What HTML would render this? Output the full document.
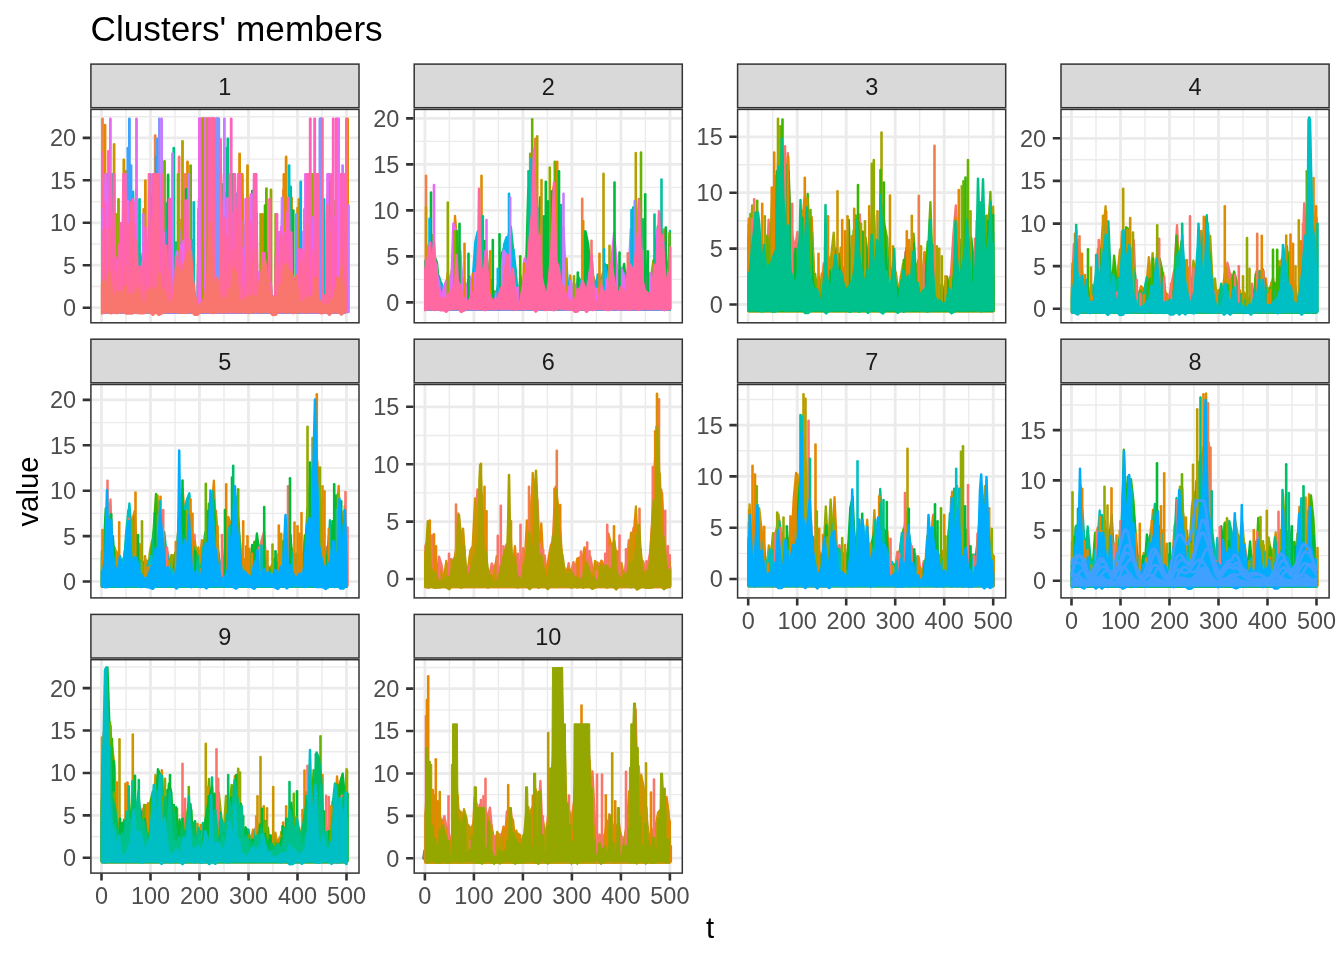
<!DOCTYPE html>
<html><head><meta charset="utf-8"><title>Clusters' members</title>
<style>
html,body{margin:0;padding:0;background:#fff;}
svg{display:block;font-family:"Liberation Sans",sans-serif;will-change:transform;}
</style></head><body>
<svg width="1344" height="960" viewBox="0 0 1344 960">
<rect width="1344" height="960" fill="#fff"/>
<text x="90.5" y="40.6" font-size="35.2" fill="#000">Clusters' members</text>
<text x="710" y="938" font-size="29.33" text-anchor="middle" fill="#000">t</text>
<text transform="translate(37.6,491.5) rotate(-90)" font-size="29.33" text-anchor="middle" fill="#000">value</text>
<rect x="90.9" y="108.4" width="268.1" height="214.3" fill="#fff"/>
<path d="M90.9 286.5H359M90.9 244H359M90.9 201.6H359M90.9 159.1H359M90.9 116.7H359M126 108.4V322.8M175 108.4V322.8M224 108.4V322.8M273 108.4V322.8M322 108.4V322.8" stroke="#EBEBEB" stroke-width="1.4" fill="none"/>
<path d="M90.9 307.7H359M90.9 265.2H359M90.9 222.8H359M90.9 180.3H359M90.9 137.9H359M101.5 108.4V322.8M150.5 108.4V322.8M199.5 108.4V322.8M248.5 108.4V322.8M297.5 108.4V322.8M346.5 108.4V322.8" stroke="#EBEBEB" stroke-width="2.8" fill="none"/>
<rect x="414.2" y="108.4" width="268.1" height="214.3" fill="#fff"/>
<path d="M414.2 279.4H682.4M414.2 233.4H682.4M414.2 187.4H682.4M414.2 141.4H682.4M449.4 108.4V322.8M498.4 108.4V322.8M547.4 108.4V322.8M596.4 108.4V322.8M645.4 108.4V322.8" stroke="#EBEBEB" stroke-width="1.4" fill="none"/>
<path d="M414.2 302.4H682.4M414.2 256.4H682.4M414.2 210.4H682.4M414.2 164.4H682.4M414.2 118.4H682.4M424.9 108.4V322.8M473.9 108.4V322.8M522.9 108.4V322.8M571.9 108.4V322.8M620.9 108.4V322.8M669.9 108.4V322.8" stroke="#EBEBEB" stroke-width="2.8" fill="none"/>
<rect x="737.6" y="108.4" width="268.1" height="214.3" fill="#fff"/>
<path d="M737.6 276.6H1005.7M737.6 220.7H1005.7M737.6 164.8H1005.7M772.7 108.4V322.8M821.7 108.4V322.8M870.7 108.4V322.8M919.7 108.4V322.8M968.7 108.4V322.8" stroke="#EBEBEB" stroke-width="1.4" fill="none"/>
<path d="M737.6 304.5H1005.7M737.6 248.6H1005.7M737.6 192.7H1005.7M737.6 136.8H1005.7M748.2 108.4V322.8M797.2 108.4V322.8M846.2 108.4V322.8M895.2 108.4V322.8M944.2 108.4V322.8M993.2 108.4V322.8" stroke="#EBEBEB" stroke-width="2.8" fill="none"/>
<rect x="1061" y="108.4" width="268.1" height="214.3" fill="#fff"/>
<path d="M1061 287.4H1329.1M1061 244.8H1329.1M1061 202.2H1329.1M1061 159.7H1329.1M1061 117H1329.1M1096 108.4V322.8M1145 108.4V322.8M1194 108.4V322.8M1243 108.4V322.8M1292 108.4V322.8" stroke="#EBEBEB" stroke-width="1.4" fill="none"/>
<path d="M1061 308.8H1329.1M1061 266.1H1329.1M1061 223.6H1329.1M1061 180.9H1329.1M1061 138.3H1329.1M1071.5 108.4V322.8M1120.5 108.4V322.8M1169.5 108.4V322.8M1218.5 108.4V322.8M1267.5 108.4V322.8M1316.5 108.4V322.8" stroke="#EBEBEB" stroke-width="2.8" fill="none"/>
<rect x="90.9" y="383.6" width="268.1" height="214.3" fill="#fff"/>
<path d="M90.9 558.8H359M90.9 513.4H359M90.9 468H359M90.9 422.6H359M126 383.6V597.9M175 383.6V597.9M224 383.6V597.9M273 383.6V597.9M322 383.6V597.9" stroke="#EBEBEB" stroke-width="1.4" fill="none"/>
<path d="M90.9 581.5H359M90.9 536.1H359M90.9 490.7H359M90.9 445.3H359M90.9 399.9H359M101.5 383.6V597.9M150.5 383.6V597.9M199.5 383.6V597.9M248.5 383.6V597.9M297.5 383.6V597.9M346.5 383.6V597.9" stroke="#EBEBEB" stroke-width="2.8" fill="none"/>
<rect x="414.2" y="383.6" width="268.1" height="214.3" fill="#fff"/>
<path d="M414.2 550.3H682.4M414.2 492.9H682.4M414.2 435.5H682.4M449.4 383.6V597.9M498.4 383.6V597.9M547.4 383.6V597.9M596.4 383.6V597.9M645.4 383.6V597.9" stroke="#EBEBEB" stroke-width="1.4" fill="none"/>
<path d="M414.2 579H682.4M414.2 521.6H682.4M414.2 464.2H682.4M414.2 406.8H682.4M424.9 383.6V597.9M473.9 383.6V597.9M522.9 383.6V597.9M571.9 383.6V597.9M620.9 383.6V597.9M669.9 383.6V597.9" stroke="#EBEBEB" stroke-width="2.8" fill="none"/>
<rect x="737.6" y="383.6" width="268.1" height="214.3" fill="#fff"/>
<path d="M737.6 553.4H1005.7M737.6 502.1H1005.7M737.6 450.8H1005.7M737.6 399.5H1005.7M772.7 383.6V597.9M821.7 383.6V597.9M870.7 383.6V597.9M919.7 383.6V597.9M968.7 383.6V597.9" stroke="#EBEBEB" stroke-width="1.4" fill="none"/>
<path d="M737.6 579H1005.7M737.6 527.7H1005.7M737.6 476.4H1005.7M737.6 425.1H1005.7M748.2 383.6V597.9M797.2 383.6V597.9M846.2 383.6V597.9M895.2 383.6V597.9M944.2 383.6V597.9M993.2 383.6V597.9" stroke="#EBEBEB" stroke-width="2.8" fill="none"/>
<rect x="1061" y="383.6" width="268.1" height="214.3" fill="#fff"/>
<path d="M1061 555.6H1329.1M1061 505.4H1329.1M1061 455.2H1329.1M1061 405H1329.1M1096 383.6V597.9M1145 383.6V597.9M1194 383.6V597.9M1243 383.6V597.9M1292 383.6V597.9" stroke="#EBEBEB" stroke-width="1.4" fill="none"/>
<path d="M1061 580.8H1329.1M1061 530.5H1329.1M1061 480.4H1329.1M1061 430.1H1329.1M1071.5 383.6V597.9M1120.5 383.6V597.9M1169.5 383.6V597.9M1218.5 383.6V597.9M1267.5 383.6V597.9M1316.5 383.6V597.9" stroke="#EBEBEB" stroke-width="2.8" fill="none"/>
<rect x="90.9" y="658.7" width="268.1" height="214.3" fill="#fff"/>
<path d="M90.9 836.5H359M90.9 794.1H359M90.9 751.8H359M90.9 709.4H359M90.9 667H359M126 658.7V873M175 658.7V873M224 658.7V873M273 658.7V873M322 658.7V873" stroke="#EBEBEB" stroke-width="1.4" fill="none"/>
<path d="M90.9 857.8H359M90.9 815.4H359M90.9 773H359M90.9 730.5H359M90.9 688.1H359M101.5 658.7V873M150.5 658.7V873M199.5 658.7V873M248.5 658.7V873M297.5 658.7V873M346.5 658.7V873" stroke="#EBEBEB" stroke-width="2.8" fill="none"/>
<rect x="414.2" y="658.7" width="268.1" height="214.3" fill="#fff"/>
<path d="M414.2 837H682.4M414.2 794.6H682.4M414.2 752.2H682.4M414.2 709.9H682.4M414.2 667.5H682.4M449.4 658.7V873M498.4 658.7V873M547.4 658.7V873M596.4 658.7V873M645.4 658.7V873" stroke="#EBEBEB" stroke-width="1.4" fill="none"/>
<path d="M414.2 858.2H682.4M414.2 815.9H682.4M414.2 773.5H682.4M414.2 731H682.4M414.2 688.6H682.4M424.9 658.7V873M473.9 658.7V873M522.9 658.7V873M571.9 658.7V873M620.9 658.7V873M669.9 658.7V873" stroke="#EBEBEB" stroke-width="2.8" fill="none"/>
<polygon points="102.3,229.1 102.5,229.1 103.2,243 105.2,243 105.9,300.7 107.9,300.7 108.6,303.2 110.6,303.2 111.3,299.3 113.3,299.3 114,283.4 116,283.4 116.7,300.6 118.7,300.6 119.4,259.8 121.4,259.8 122.1,292.3 124.1,292.3 124.8,189.8 126.8,189.8 127.5,225.7 129.5,225.7 130.2,293.9 132.2,293.9 132.9,278.2 134.9,278.2 135.6,285.9 137.6,285.9 138.3,271.1 140.3,271.1 141,276.3 143,276.3 143.7,303.4 145.7,303.4 146.4,258.3 148.4,258.3 149.1,269.8 151.1,269.8 151.8,253 153.8,253 154.5,211.8 156.5,211.8 157.2,278.2 159.2,278.2 159.9,244.3 161.9,244.3 162.6,238.6 164.6,238.6 165.3,214.8 167.3,214.8 168,266.5 170,266.5 170.7,303.6 172.7,303.6 173.4,306.7 175.4,306.7 176.1,255.1 178.1,255.1 178.8,247.5 180.8,247.5 181.5,240.2 183.5,240.2 184.2,251.4 186.2,251.4 186.9,226.2 188.9,226.2 189.6,261.7 191.6,261.7 192.3,304 194.3,304 195,303.7 197,303.7 197.7,208.5 199.7,208.5 200.4,261.1 202.4,261.1 203.1,305 205.1,305 205.8,287.4 207.8,287.4 208.5,300.6 210.5,300.6 211.2,292.1 213.2,292.1 213.9,260.5 215.9,260.5 216.6,298 218.6,298 219.3,241.4 221.3,241.4 222,208.8 224,208.8 224.7,274.1 226.7,274.1 227.4,264.4 229.4,264.4 230.1,192.1 232.1,192.1 232.8,286.4 234.8,286.4 235.5,279.5 237.5,279.5 238.2,236.6 240.2,236.6 240.9,307.2 242.9,307.2 243.6,305.4 245.6,305.4 246.3,213 248.3,213 249,256.5 251,256.5 251.7,241 253.7,241 254.4,199.1 256.4,199.1 257.1,274.3 259.1,274.3 259.8,292.7 261.8,292.7 262.5,302.6 264.5,302.6 265.2,304.6 267.2,304.6 267.9,297.3 269.9,297.3 270.6,303.8 272.6,303.8 273.3,307.7 275.3,307.7 276,300.7 278,300.7 278.7,305.9 280.7,305.9 281.4,246.7 283.4,246.7 284.1,282.6 286.1,282.6 286.8,271.5 288.8,271.5 289.5,223.4 291.5,223.4 292.2,297 294.2,297 294.9,305.7 296.9,305.7 297.6,284.1 299.6,284.1 300.3,250.7 302.3,250.7 303,307.2 305,307.2 305.7,243.9 307.7,243.9 308.4,242.1 310.4,242.1 311.1,173.6 313.1,173.6 313.8,189.6 315.8,189.6 316.5,223.6 318.5,223.6 319.2,263.4 321.2,263.4 321.9,298.9 323.9,298.9 324.6,298.8 326.6,298.8 327.3,280.8 329.3,280.8 330,188.8 332,188.8 332.7,210.4 334.7,210.4 335.4,218.4 337.4,218.4 338.1,245.2 340.1,245.2 340.8,304.2 342.8,304.2 343.5,173.6 345.5,173.6 346.2,276.4 346.1,276.4 346.1,312.9 102.3,312.9" fill="#E58700" stroke="#E58700" stroke-width="0.9" stroke-linejoin="round"/>
<polygon points="102.3,253.7 103.5,253.7 104.2,188.4 106.2,188.4 106.9,263.7 108.9,263.7 109.6,280.3 111.6,280.3 112.3,283 114.3,283 115,256.1 117,256.1 117.7,280.2 119.7,280.2 120.4,246.6 122.4,246.6 123.1,227.9 125.1,227.9 125.8,213.3 127.8,213.3 128.5,262 130.5,262 131.2,232.3 133.2,232.3 133.9,231.2 135.9,231.2 136.6,285 138.6,285 139.3,253.4 141.3,253.4 142,298 144,298 144.7,296.7 146.7,296.7 147.4,249.2 149.4,249.2 150.1,207.9 152.1,207.9 152.8,228.3 154.8,228.3 155.5,241.5 157.5,241.5 158.2,306 160.2,306 160.9,229.3 162.9,229.3 163.6,219.2 165.6,219.2 166.3,225.1 168.3,225.1 169,286.9 171,286.9 171.7,299.9 173.7,299.9 174.4,292 176.4,292 177.1,278.9 179.1,278.9 179.8,219.4 181.8,219.4 182.5,263.2 184.5,263.2 185.2,219.9 187.2,219.9 187.9,218.6 189.9,218.6 190.6,275.2 192.6,275.2 193.3,307.6 195.3,307.6 196,306.6 198,306.6 198.7,173.6 200.7,173.6 201.4,286.9 203.4,286.9 204.1,220.1 206.1,220.1 206.8,268.3 208.8,268.3 209.5,240.6 211.5,240.6 212.2,294.9 214.2,294.9 214.9,277.7 216.9,277.7 217.6,214.5 219.6,214.5 220.3,239.9 222.3,239.9 223,197.5 225,197.5 225.7,233.8 227.7,233.8 228.4,245.9 230.4,245.9 231.1,253.1 233.1,253.1 233.8,250 235.8,250 236.5,223.3 238.5,223.3 239.2,194 241.2,194 241.9,240.2 243.9,240.2 244.6,224.3 246.6,224.3 247.3,295.6 249.3,295.6 250,300.5 252,300.5 252.7,300.5 254.7,300.5 255.4,213.1 257.4,213.1 258.1,301.8 260.1,301.8 260.8,274.9 262.8,274.9 263.5,263.9 265.5,263.9 266.2,296.8 268.2,296.8 268.9,287.9 270.9,287.9 271.6,296.4 273.6,296.4 274.3,305.8 276.3,305.8 277,272.2 279,272.2 279.7,294.2 281.7,294.2 282.4,236 284.4,236 285.1,197.3 287.1,197.3 287.8,263.9 289.8,263.9 290.5,197.3 292.5,197.3 293.2,293.4 295.2,293.4 295.9,306.2 297.9,306.2 298.6,253.5 300.6,253.5 301.3,305.3 303.3,305.3 304,306.8 306,306.8 306.7,275 308.7,275 309.4,256.7 311.4,256.7 312.1,208.8 314.1,208.8 314.8,289.7 316.8,289.7 317.5,238.8 319.5,238.8 320.2,296.9 322.2,296.9 322.9,299.8 324.9,299.8 325.6,306.9 327.6,306.9 328.3,231.1 330.3,231.1 331,297.6 333,297.6 333.7,299.7 335.7,299.7 336.4,252.9 338.4,252.9 339.1,240.9 341.1,240.9 341.8,275.4 343.8,275.4 344.5,244.1 346.1,244.1 346.1,312.9 102.3,312.9" fill="#CD9600" stroke="#CD9600" stroke-width="0.9" stroke-linejoin="round"/>
<polygon points="102.3,288.2 102.3,288.2 103,283.3 105,283.3 105.7,270.9 107.7,270.9 108.4,272.7 110.4,272.7 111.1,286.2 113.1,286.2 113.8,306.7 115.8,306.7 116.5,306.8 118.5,306.8 119.2,265.6 121.2,265.6 121.9,295 123.9,295 124.6,294.9 126.6,294.9 127.3,255.5 129.3,255.5 130,228 132,228 132.7,259.3 134.7,259.3 135.4,189.1 137.4,189.1 138.1,260 140.1,260 140.8,271.3 142.8,271.3 143.5,282.5 145.5,282.5 146.2,298.3 148.2,298.3 148.9,218.3 150.9,218.3 151.6,288 153.6,288 154.3,206.1 156.3,206.1 157,226.7 159,226.7 159.7,278.5 161.7,278.5 162.4,264.2 164.4,264.2 165.1,265.5 167.1,265.5 167.8,212.9 169.8,212.9 170.5,293.1 172.5,293.1 173.2,281.9 175.2,281.9 175.9,283.2 177.9,283.2 178.6,231.3 180.6,231.3 181.3,261.6 183.3,261.6 184,288.2 186,288.2 186.7,307.2 188.7,307.2 189.4,299 191.4,299 192.1,305.2 194.1,305.2 194.8,300.9 196.8,300.9 197.5,306.3 199.5,306.3 200.2,243.8 202.2,243.8 202.9,228.3 204.9,228.3 205.6,201.6 207.6,201.6 208.3,268.3 210.3,268.3 211,289.7 213,289.7 213.7,230 215.7,230 216.4,206.9 218.4,206.9 219.1,232 221.1,232 221.8,209.6 223.8,209.6 224.5,244.5 226.5,244.5 227.2,206.9 229.2,206.9 229.9,207.9 231.9,207.9 232.6,199.9 234.6,199.9 235.3,224 237.3,224 238,303.9 240,303.9 240.7,264.2 242.7,264.2 243.4,302.6 245.4,302.6 246.1,245.3 248.1,245.3 248.8,240.1 250.8,240.1 251.5,307.4 253.5,307.4 254.2,217.4 256.2,217.4 256.9,287.3 258.9,287.3 259.6,305.2 261.6,305.2 262.3,295.2 264.3,295.2 265,294.5 267,294.5 267.7,297.5 269.7,297.5 270.4,296.5 272.4,296.5 273.1,303.3 275.1,303.3 275.8,260.7 277.8,260.7 278.5,265.3 280.5,265.3 281.2,300 283.2,300 283.9,282.5 285.9,282.5 286.6,277.5 288.6,277.5 289.3,306.5 291.3,306.5 292,301.5 294,301.5 294.7,291.8 296.7,291.8 297.4,301 299.4,301 300.1,275.7 302.1,275.7 302.8,305 304.8,305 305.5,283.6 307.5,283.6 308.2,194.7 310.2,194.7 310.9,173.6 312.9,173.6 313.6,208.7 315.6,208.7 316.3,253.4 318.3,253.4 319,282.4 321,282.4 321.7,305.3 323.7,305.3 324.4,306.1 326.4,306.1 327.1,192.7 329.1,192.7 329.8,208.7 331.8,208.7 332.5,200.6 334.5,200.6 335.2,279.8 337.2,279.8 337.9,249 339.9,249 340.6,173.6 342.6,173.6 343.3,173.6 345.3,173.6 346,253.3 346.1,253.3 346.1,312.9 102.3,312.9" fill="#93AA00" stroke="#93AA00" stroke-width="0.9" stroke-linejoin="round"/>
<polygon points="102.3,266.2 102.5,266.2 103.2,206.3 105.2,206.3 105.9,173.6 107.9,173.6 108.6,206.4 110.6,206.4 111.3,195.9 113.3,195.9 114,256 116,256 116.7,286.4 118.7,286.4 119.4,231.4 121.4,231.4 122.1,298.1 124.1,298.1 124.8,274.5 126.8,274.5 127.5,298 129.5,298 130.2,280.4 132.2,280.4 132.9,283.9 134.9,283.9 135.6,246 137.6,246 138.3,286.3 140.3,286.3 141,257 143,257 143.7,261.9 145.7,261.9 146.4,239.4 148.4,239.4 149.1,220.8 151.1,220.8 151.8,219.3 153.8,219.3 154.5,216.8 156.5,216.8 157.2,273.1 159.2,273.1 159.9,195.8 161.9,195.8 162.6,263 164.6,263 165.3,279.5 167.3,279.5 168,211.5 170,211.5 170.7,290.2 172.7,290.2 173.4,292.8 175.4,292.8 176.1,296.2 178.1,296.2 178.8,293.4 180.8,293.4 181.5,259.5 183.5,259.5 184.2,219.8 186.2,219.8 186.9,264 188.9,264 189.6,289 191.6,289 192.3,286.8 194.3,286.8 195,306.2 197,306.2 197.7,238.9 199.7,238.9 200.4,217.2 202.4,217.2 203.1,257.7 205.1,257.7 205.8,262.2 207.8,262.2 208.5,300.2 210.5,300.2 211.2,190.9 213.2,190.9 213.9,246.9 215.9,246.9 216.6,203.5 218.6,203.5 219.3,275 221.3,275 222,259.4 224,259.4 224.7,192.5 226.7,192.5 227.4,202.3 229.4,202.3 230.1,173.6 232.1,173.6 232.8,173.6 234.8,173.6 235.5,199.6 237.5,199.6 238.2,236.8 240.2,236.8 240.9,173.6 242.9,173.6 243.6,302 245.6,302 246.3,222.7 248.3,222.7 249,283 251,283 251.7,292.5 253.7,292.5 254.4,225.4 256.4,225.4 257.1,280.1 259.1,280.1 259.8,278.5 261.8,278.5 262.5,280.3 264.5,280.3 265.2,252.5 267.2,252.5 267.9,296.1 269.9,296.1 270.6,300.3 272.6,300.3 273.3,306.2 275.3,306.2 276,263.9 278,263.9 278.7,300 280.7,300 281.4,255.6 283.4,255.6 284.1,269.2 286.1,269.2 286.8,248 288.8,248 289.5,197.3 291.5,197.3 292.2,297.1 294.2,297.1 294.9,292.9 296.9,292.9 297.6,275 299.6,275 300.3,290.7 302.3,290.7 303,291.5 305,291.5 305.7,305.1 307.7,305.1 308.4,226.3 310.4,226.3 311.1,276.6 313.1,276.6 313.8,196 315.8,196 316.5,303.6 318.5,303.6 319.2,256.9 321.2,256.9 321.9,305.4 323.9,305.4 324.6,299.2 326.6,299.2 327.3,282.9 329.3,282.9 330,270.1 332,270.1 332.7,279.8 334.7,279.8 335.4,215.9 337.4,215.9 338.1,192.8 340.1,192.8 340.8,285.1 342.8,285.1 343.5,257.4 345.5,257.4 346.2,193.2 346.1,193.2 346.1,312.9 102.3,312.9" fill="#00BA38" stroke="#00BA38" stroke-width="0.9" stroke-linejoin="round"/>
<polygon points="102.3,282 104.3,282 105,290.6 107,290.6 107.7,300.4 109.7,300.4 110.4,199.3 112.4,199.3 113.1,219.2 115.1,219.2 115.8,254.3 117.8,254.3 118.5,297.1 120.5,297.1 121.2,250.7 123.2,250.7 123.9,173.6 125.9,173.6 126.6,262 128.6,262 129.3,276 131.3,276 132,307.4 134,307.4 134.7,274.1 136.7,274.1 137.4,300.6 139.4,300.6 140.1,295.8 142.1,295.8 142.8,248.1 144.8,248.1 145.5,276.3 147.5,276.3 148.2,250.5 150.2,250.5 150.9,196.7 152.9,196.7 153.6,263.7 155.6,263.7 156.3,304 158.3,304 159,209.7 161,209.7 161.7,302.8 163.7,302.8 164.4,202.4 166.4,202.4 167.1,220.5 169.1,220.5 169.8,287.7 171.8,287.7 172.5,298.6 174.5,298.6 175.2,241.8 177.2,241.8 177.9,289.7 179.9,289.7 180.6,277 182.6,277 183.3,307.3 185.3,307.3 186,218.8 188,218.8 188.7,216.2 190.7,216.2 191.4,239.8 193.4,239.8 194.1,304.8 196.1,304.8 196.8,301.9 198.8,301.9 199.5,277.4 201.5,277.4 202.2,248.1 204.2,248.1 204.9,285.6 206.9,285.6 207.6,218.5 209.6,218.5 210.3,214.4 212.3,214.4 213,268.1 215,268.1 215.7,264 217.7,264 218.4,298.2 220.4,298.2 221.1,216.8 223.1,216.8 223.8,299.9 225.8,299.9 226.5,173.6 228.5,173.6 229.2,268.4 231.2,268.4 231.9,201 233.9,201 234.6,275.7 236.6,275.7 237.3,296.1 239.3,296.1 240,222 242,222 242.7,306.3 244.7,306.3 245.4,246.1 247.4,246.1 248.1,233.4 250.1,233.4 250.8,242.2 252.8,242.2 253.5,206.2 255.5,206.2 256.2,286 258.2,286 258.9,279.5 260.9,279.5 261.6,295.4 263.6,295.4 264.3,300.1 266.3,300.1 267,279 269,279 269.7,288 271.7,288 272.4,301.9 274.4,301.9 275.1,252.1 277.1,252.1 277.8,239.6 279.8,239.6 280.5,260.5 282.5,260.5 283.2,224.2 285.2,224.2 285.9,303.7 287.9,303.7 288.6,295.9 290.6,295.9 291.3,285.4 293.3,285.4 294,286.4 296,286.4 296.7,287.8 298.7,287.8 299.4,289.8 301.4,289.8 302.1,286 304.1,286 304.8,235.7 306.8,235.7 307.5,281.4 309.5,281.4 310.2,290.6 312.2,290.6 312.9,276.9 314.9,276.9 315.6,229 317.6,229 318.3,306.3 320.3,306.3 321,225.8 323,225.8 323.7,304.1 325.7,304.1 326.4,211.7 328.4,211.7 329.1,300.1 331.1,300.1 331.8,260 333.8,260 334.5,230.5 336.5,230.5 337.2,287.9 339.2,287.9 339.9,258.2 341.9,258.2 342.6,270.6 344.6,270.6 345.3,270 346.1,270 346.1,312.9 102.3,312.9" fill="#00C08B" stroke="#00C08B" stroke-width="0.9" stroke-linejoin="round"/>
<polygon points="102.3,257.4 103.2,257.4 103.9,187.4 105.9,187.4 106.6,283.9 108.6,283.9 109.3,283.1 111.3,283.1 112,173.6 114,173.6 114.7,283.4 116.7,283.4 117.4,284.4 119.4,284.4 120.1,272.5 122.1,272.5 122.8,305.9 124.8,305.9 125.5,230.4 127.5,230.4 128.2,299.2 130.2,299.2 130.9,272.3 132.9,272.3 133.6,293.8 135.6,293.8 136.3,244.8 138.3,244.8 139,301.5 141,301.5 141.7,261.6 143.7,261.6 144.4,293.4 146.4,293.4 147.1,239.2 149.1,239.2 149.8,249.4 151.8,249.4 152.5,195.9 154.5,195.9 155.2,198.5 157.2,198.5 157.9,208.2 159.9,208.2 160.6,212.8 162.6,212.8 163.3,269.4 165.3,269.4 166,229.1 168,229.1 168.7,286.2 170.7,286.2 171.4,293.8 173.4,293.8 174.1,304.4 176.1,304.4 176.8,257.9 178.8,257.9 179.5,303.7 181.5,303.7 182.2,234.2 184.2,234.2 184.9,199.9 186.9,199.9 187.6,296.3 189.6,296.3 190.3,274.1 192.3,274.1 193,305.8 195,305.8 195.7,304.1 197.7,304.1 198.4,228.2 200.4,228.2 201.1,254.8 203.1,254.8 203.8,173.6 205.8,173.6 206.5,248.6 208.5,248.6 209.2,215.5 211.2,215.5 211.9,252.4 213.9,252.4 214.6,250.6 216.6,250.6 217.3,292.2 219.3,292.2 220,296.6 222,296.6 222.7,246.1 224.7,246.1 225.4,230.9 227.4,230.9 228.1,219.1 230.1,219.1 230.8,245.9 232.8,245.9 233.5,246.9 235.5,246.9 236.2,192.9 238.2,192.9 238.9,204.2 240.9,204.2 241.6,219.3 243.6,219.3 244.3,306.5 246.3,306.5 247,258.8 249,258.8 249.7,216.7 251.7,216.7 252.4,230 254.4,230 255.1,299.8 257.1,299.8 257.8,278.8 259.8,278.8 260.5,263.2 262.5,263.2 263.2,267.2 265.2,267.2 265.9,282.8 267.9,282.8 268.6,297.4 270.6,297.4 271.3,301.9 273.3,301.9 274,307.3 276,307.3 276.7,296.6 278.7,296.6 279.4,261 281.4,261 282.1,290.9 284.1,290.9 284.8,296.3 286.8,296.3 287.5,244.5 289.5,244.5 290.2,221 292.2,221 292.9,294.4 294.9,294.4 295.6,305.3 297.6,305.3 298.3,264.4 300.3,264.4 301,289.4 303,289.4 303.7,285 305.7,285 306.4,264.2 308.4,264.2 309.1,254.3 311.1,254.3 311.8,217.9 313.8,217.9 314.5,208.7 316.5,208.7 317.2,230.5 319.2,230.5 319.9,237 321.9,237 322.6,304.1 324.6,304.1 325.3,295 327.3,295 328,173.6 330,173.6 330.7,233.3 332.7,233.3 333.4,245.8 335.4,245.8 336.1,291.8 338.1,291.8 338.8,228.9 340.8,228.9 341.5,173.6 343.5,173.6 344.2,173.6 346.1,173.6 346.1,312.9 102.3,312.9" fill="#00B8E7" stroke="#00B8E7" stroke-width="0.9" stroke-linejoin="round"/>
<polygon points="102.3,264.6 102.6,264.6 103.3,237.2 105.3,237.2 106,283 108,283 108.7,250.4 110.7,250.4 111.4,194.6 113.4,194.6 114.1,299.1 116.1,299.1 116.8,271.1 118.8,271.1 119.5,247.9 121.5,247.9 122.2,300.6 124.2,300.6 124.9,173.6 126.9,173.6 127.6,254 129.6,254 130.3,246 132.3,246 133,218.2 135,218.2 135.7,277.7 137.7,277.7 138.4,305.2 140.4,305.2 141.1,284.4 143.1,284.4 143.8,303.5 145.8,303.5 146.5,306.8 148.5,306.8 149.2,194.1 151.2,194.1 151.9,283.6 153.9,283.6 154.6,246.5 156.6,246.5 157.3,209.5 159.3,209.5 160,270.3 162,270.3 162.7,303.1 164.7,303.1 165.4,233.5 167.4,233.5 168.1,307.1 170.1,307.1 170.8,287.8 172.8,287.8 173.5,287.9 175.5,287.9 176.2,292.2 178.2,292.2 178.9,291.7 180.9,291.7 181.6,199.9 183.6,199.9 184.3,235 186.3,235 187,225.7 189,225.7 189.7,281.9 191.7,281.9 192.4,281 194.4,281 195.1,304.5 197.1,304.5 197.8,230.2 199.8,230.2 200.5,281.5 202.5,281.5 203.2,305.9 205.2,305.9 205.9,279.2 207.9,279.2 208.6,193.6 210.6,193.6 211.3,268.2 213.3,268.2 214,268 216,268 216.7,198.1 218.7,198.1 219.4,224.1 221.4,224.1 222.1,189.5 224.1,189.5 224.8,206.3 226.8,206.3 227.5,204.2 229.5,204.2 230.2,220.2 232.2,220.2 232.9,270.5 234.9,270.5 235.6,232.5 237.6,232.5 238.3,197.7 240.3,197.7 241,304.5 243,304.5 243.7,302 245.7,302 246.4,293.6 248.4,293.6 249.1,197.3 251.1,197.3 251.8,239.4 253.8,239.4 254.5,223.6 256.5,223.6 257.2,305.2 259.2,305.2 259.9,293.8 261.9,293.8 262.6,267 264.6,267 265.3,304.4 267.3,304.4 268,262.3 270,262.3 270.7,306.5 272.7,306.5 273.4,306.4 275.4,306.4 276.1,231.3 278.1,231.3 278.8,251.9 280.8,251.9 281.5,225.7 283.5,225.7 284.2,279.2 286.2,279.2 286.9,298 288.9,298 289.6,287.3 291.6,287.3 292.3,298 294.3,298 295,282.2 297,282.2 297.7,288.3 299.7,288.3 300.4,282.4 302.4,282.4 303.1,285.6 305.1,285.6 305.8,204.9 307.8,204.9 308.5,304 310.5,304 311.2,255 313.2,255 313.9,265.8 315.9,265.8 316.6,242.8 318.6,242.8 319.3,203.6 321.3,203.6 322,298.3 324,298.3 324.7,307.7 326.7,307.7 327.4,215.7 329.4,215.7 330.1,307.2 332.1,307.2 332.8,248.4 334.8,248.4 335.5,285.4 337.5,285.4 338.2,265.8 340.2,265.8 340.9,276.2 342.9,276.2 343.6,273.4 345.6,273.4 346.3,223.3 346.1,223.3 346.1,312.9 102.3,312.9" fill="#3DA1FF" stroke="#3DA1FF" stroke-width="0.9" stroke-linejoin="round"/>
<polygon points="102.3,230.9 103,230.9 103.7,212.6 105.7,212.6 106.4,212.7 108.4,212.7 109.1,264.8 111.1,264.8 111.8,260.1 113.8,260.1 114.5,302.8 116.5,302.8 117.2,306.3 119.2,306.3 119.9,287.6 121.9,287.6 122.6,247.2 124.6,247.2 125.3,201 127.3,201 128,263.7 130,263.7 130.7,235.6 132.7,235.6 133.4,246 135.4,246 136.1,268.3 138.1,268.3 138.8,259.4 140.8,259.4 141.5,265.2 143.5,265.2 144.2,275.8 146.2,275.8 146.9,265.7 148.9,265.7 149.6,251.9 151.6,251.9 152.3,279 154.3,279 155,271.3 157,271.3 157.7,205.8 159.7,205.8 160.4,288.9 162.4,288.9 163.1,276.8 165.1,276.8 165.8,292.5 167.8,292.5 168.5,289 170.5,289 171.2,288.2 173.2,288.2 173.9,282 175.9,282 176.6,281.3 178.6,281.3 179.3,230.6 181.3,230.6 182,265.5 184,265.5 184.7,245.8 186.7,245.8 187.4,287.7 189.4,287.7 190.1,304.4 192.1,304.4 192.8,302.9 194.8,302.9 195.5,304.6 197.5,304.6 198.2,251.8 200.2,251.8 200.9,234.8 202.9,234.8 203.6,218.2 205.6,218.2 206.3,255.8 208.3,255.8 209,217.3 211,217.3 211.7,280.1 213.7,280.1 214.4,201.5 216.4,201.5 217.1,223.2 219.1,223.2 219.8,225.7 221.8,225.7 222.5,252.9 224.5,252.9 225.2,231.8 227.2,231.8 227.9,257 229.9,257 230.6,221.6 232.6,221.6 233.3,277.5 235.3,277.5 236,252.7 238,252.7 238.7,258.3 240.7,258.3 241.4,195.4 243.4,195.4 244.1,303.7 246.1,303.7 246.8,269.1 248.8,269.1 249.5,210.9 251.5,210.9 252.2,198.2 254.2,198.2 254.9,288.3 256.9,288.3 257.6,271.8 259.6,271.8 260.3,302.7 262.3,302.7 263,280.8 265,280.8 265.7,282.3 267.7,282.3 268.4,266.5 270.4,266.5 271.1,303 273.1,303 273.8,305.3 275.8,305.3 276.5,280.7 278.5,280.7 279.2,299.3 281.2,299.3 281.9,272.4 283.9,272.4 284.6,280.4 286.6,280.4 287.3,306.4 289.3,306.4 290,265.9 292,265.9 292.7,299.6 294.7,299.6 295.4,302.6 297.4,302.6 298.1,243.1 300.1,243.1 300.8,292.6 302.8,292.6 303.5,298.7 305.5,298.7 306.2,292.1 308.2,292.1 308.9,210 310.9,210 311.6,251.1 313.6,251.1 314.3,280.4 316.3,280.4 317,265.1 319,265.1 319.7,208.9 321.7,208.9 322.4,302.3 324.4,302.3 325.1,301.4 327.1,301.4 327.8,207 329.8,207 330.5,205 332.5,205 333.2,262.3 335.2,262.3 335.9,256.3 337.9,256.3 338.6,307.4 340.6,307.4 341.3,273.7 343.3,273.7 344,271.3 346,271.3 346,312.9 102.3,312.9" fill="#8494FF" stroke="#8494FF" stroke-width="0.9" stroke-linejoin="round"/>
<polygon points="102.3,230.8 102.9,230.8 103.6,263.9 105.6,263.9 106.3,204.5 108.3,204.5 109,207.7 111,207.7 111.7,213 113.7,213 114.4,260.1 116.4,260.1 117.1,306.8 119.1,306.8 119.8,222.8 121.8,222.8 122.5,290.2 124.5,290.2 125.2,295.4 127.2,295.4 127.9,285.4 129.9,285.4 130.6,274.6 132.6,274.6 133.3,221.3 135.3,221.3 136,287.4 138,287.4 138.7,272.8 140.7,272.8 141.4,269.4 143.4,269.4 144.1,250.5 146.1,250.5 146.8,293.4 148.8,293.4 149.5,243.6 151.5,243.6 152.2,254.8 154.2,254.8 154.9,240.7 156.9,240.7 157.6,279.4 159.6,279.4 160.3,248.2 162.3,248.2 163,263.4 165,263.4 165.7,261.1 167.7,261.1 168.4,254.5 170.4,254.5 171.1,307.5 173.1,307.5 173.8,295.2 175.8,295.2 176.5,261.9 178.5,261.9 179.2,271.3 181.2,271.3 181.9,214.5 183.9,214.5 184.6,245.9 186.6,245.9 187.3,304.9 189.3,304.9 190,241.5 192,241.5 192.7,305.7 194.7,305.7 195.4,304.6 197.4,304.6 198.1,199.3 200.1,199.3 200.8,173.6 202.8,173.6 203.5,232.2 205.5,232.2 206.2,203.7 208.2,203.7 208.9,250.4 210.9,250.4 211.6,214.7 213.6,214.7 214.3,255.2 216.3,255.2 217,240.8 219,240.8 219.7,272.3 221.7,272.3 222.4,259 224.4,259 225.1,274.9 227.1,274.9 227.8,190 229.8,190 230.5,212.1 232.5,212.1 233.2,269.4 235.2,269.4 235.9,236.9 237.9,236.9 238.6,213 240.6,213 241.3,220.5 243.3,220.5 244,304.4 246,304.4 246.7,277.9 248.7,277.9 249.4,197.3 251.4,197.3 252.1,216.9 254.1,216.9 254.8,228.3 256.8,228.3 257.5,272.9 259.5,272.9 260.2,284.1 262.2,284.1 262.9,273.1 264.9,273.1 265.6,273.9 267.6,273.9 268.3,274.6 270.3,274.6 271,299 273,299 273.7,305.6 275.7,305.6 276.4,231.3 278.4,231.3 279.1,244.8 281.1,244.8 281.8,271.1 283.8,271.1 284.5,229.6 286.5,229.6 287.2,282.1 289.2,282.1 289.9,265.8 291.9,265.8 292.6,297.8 294.6,297.8 295.3,286.3 297.3,286.3 298,268.7 300,268.7 300.7,231.3 302.7,231.3 303.4,289.1 305.4,289.1 306.1,196.8 308.1,196.8 308.8,306 310.8,306 311.5,236.2 313.5,236.2 314.2,189.3 316.2,189.3 316.9,257.9 318.9,257.9 319.6,229.9 321.6,229.9 322.3,306 324.3,306 325,295 327,295 327.7,173.6 329.7,173.6 330.4,293 332.4,293 333.1,297.1 335.1,297.1 335.8,292.1 337.8,292.1 338.5,173.6 340.5,173.6 341.2,278.5 343.2,278.5 343.9,285.1 345.9,285.1 346.6,214.3 346.1,214.3 346.1,312.9 102.3,312.9" fill="#C77CFF" stroke="#C77CFF" stroke-width="0.9" stroke-linejoin="round"/>
<polygon points="102.3,219.6 103.6,219.6 104.3,231.8 106.3,231.8 107,252.1 109,252.1 109.7,277 111.7,277 112.4,221.1 114.4,221.1 115.1,244 117.1,244 117.8,244 119.8,244 120.5,245.2 122.5,245.2 123.2,270.1 125.2,270.1 125.9,287.7 127.9,287.7 128.6,261.2 130.6,261.2 131.3,272.6 133.3,272.6 134,265.8 136,265.8 136.7,299.4 138.7,299.4 139.4,286.9 141.4,286.9 142.1,271.6 144.1,271.6 144.8,279.7 146.8,279.7 147.5,239.1 149.5,239.1 150.2,239.3 152.2,239.3 152.9,300.4 154.9,300.4 155.6,222.8 157.6,222.8 158.3,267.6 160.3,267.6 161,189.7 163,189.7 163.7,250.7 165.7,250.7 166.4,267.1 168.4,267.1 169.1,270.6 171.1,270.6 171.8,291.6 173.8,291.6 174.5,286.1 176.5,286.1 177.2,307.6 179.2,307.6 179.9,266.7 181.9,266.7 182.6,228.5 184.6,228.5 185.3,303.6 187.3,303.6 188,228.9 190,228.9 190.7,272.7 192.7,272.7 193.4,302.5 195.4,302.5 196.1,303.5 198.1,303.5 198.8,265.8 200.8,265.8 201.5,240.9 203.5,240.9 204.2,283.5 206.2,283.5 206.9,195.2 208.9,195.2 209.6,234.4 211.6,234.4 212.3,251.5 214.3,251.5 215,276.9 217,276.9 217.7,212.1 219.7,212.1 220.4,297.1 222.4,297.1 223.1,214.5 225.1,214.5 225.8,237.7 227.8,237.7 228.5,200.8 230.5,200.8 231.2,250.2 233.2,250.2 233.9,284.9 235.9,284.9 236.6,285.9 238.6,285.9 239.3,263.9 241.3,263.9 242,259.1 244,259.1 244.7,292.9 246.7,292.9 247.4,208.7 249.4,208.7 250.1,297.2 252.1,297.2 252.8,230.1 254.8,230.1 255.5,235.6 257.5,235.6 258.2,287.9 260.2,287.9 260.9,252.5 262.9,252.5 263.6,252.5 265.6,252.5 266.3,264.7 268.3,264.7 269,279.5 271,279.5 271.7,298.8 273.7,298.8 274.4,296.9 276.4,296.9 277.1,251.4 279.1,251.4 279.8,290.2 281.8,290.2 282.5,197.3 284.5,197.3 285.2,289.7 287.2,289.7 287.9,302.6 289.9,302.6 290.6,221.2 292.6,221.2 293.3,286 295.3,286 296,306.2 298,306.2 298.7,280.4 300.7,280.4 301.4,285.7 303.4,285.7 304.1,294.8 306.1,294.8 306.8,192.2 308.8,192.2 309.5,260.2 311.5,260.2 312.2,288.4 314.2,288.4 314.9,188 316.9,188 317.6,303 319.6,303 320.3,265.2 322.3,265.2 323,297.3 325,297.3 325.7,307.2 327.7,307.2 328.4,222 330.4,222 331.1,188.7 333.1,188.7 333.8,290.2 335.8,290.2 336.5,194.3 338.5,194.3 339.2,271.6 341.2,271.6 341.9,216.2 343.9,216.2 344.6,268.6 346.1,268.6 346.1,312.9 102.3,312.9" fill="#E76BF3" stroke="#E76BF3" stroke-width="0.9" stroke-linejoin="round"/>
<path d="M179.1 311.9V156.9" stroke="#F8766D" stroke-width="2.8" stroke-linecap="round" fill="none"/>
<path d="M185 311.9V174.4" stroke="#F8766D" stroke-width="2.8" stroke-linecap="round" fill="none"/>
<path d="M283.5 311.9V190" stroke="#F8766D" stroke-width="2.8" stroke-linecap="round" fill="none"/>
<path d="M340.1 311.9V174.4" stroke="#F8766D" stroke-width="2.8" stroke-linecap="round" fill="none"/>
<path d="M102.5 311.9V118.9" stroke="#F07F4A" stroke-width="2.8" stroke-linecap="round" fill="none"/>
<path d="M155.2 311.9V135.7" stroke="#F07F4A" stroke-width="2.8" stroke-linecap="round" fill="none"/>
<path d="M242 311.9V174.4" stroke="#F07F4A" stroke-width="2.8" stroke-linecap="round" fill="none"/>
<path d="M304.5 311.9V209.3" stroke="#F07F4A" stroke-width="2.8" stroke-linecap="round" fill="none"/>
<path d="M105 311.9V125.1" stroke="#E58700" stroke-width="2.8" stroke-linecap="round" fill="none"/>
<path d="M126.2 311.9V171.3" stroke="#E58700" stroke-width="2.8" stroke-linecap="round" fill="none"/>
<path d="M143.8 311.9V209.3" stroke="#E58700" stroke-width="2.8" stroke-linecap="round" fill="none"/>
<path d="M187.5 311.9V161.9" stroke="#E58700" stroke-width="2.8" stroke-linecap="round" fill="none"/>
<path d="M202.5 311.9V118.9" stroke="#E58700" stroke-width="2.8" stroke-linecap="round" fill="none"/>
<path d="M241.9 311.9V174.4" stroke="#E58700" stroke-width="2.8" stroke-linecap="round" fill="none"/>
<path d="M262.6 311.9V214.3" stroke="#E58700" stroke-width="2.8" stroke-linecap="round" fill="none"/>
<path d="M283.9 311.9V174.4" stroke="#E58700" stroke-width="2.8" stroke-linecap="round" fill="none"/>
<path d="M297.6 311.9V208.1" stroke="#E58700" stroke-width="2.8" stroke-linecap="round" fill="none"/>
<path d="M347.6 311.9V118.9" stroke="#E58700" stroke-width="2.8" stroke-linecap="round" fill="none"/>
<path d="M145.4 311.9V180.6" stroke="#DE8C00" stroke-width="2.8" stroke-linecap="round" fill="none"/>
<path d="M239.6 311.9V153.8" stroke="#DE8C00" stroke-width="2.8" stroke-linecap="round" fill="none"/>
<path d="M286.1 311.9V156.9" stroke="#DE8C00" stroke-width="2.8" stroke-linecap="round" fill="none"/>
<path d="M114.1 311.9V144.4" stroke="#CD9600" stroke-width="2.8" stroke-linecap="round" fill="none"/>
<path d="M123.8 311.9V160" stroke="#CD9600" stroke-width="2.8" stroke-linecap="round" fill="none"/>
<path d="M247.5 311.9V165.6" stroke="#CD9600" stroke-width="2.8" stroke-linecap="round" fill="none"/>
<path d="M298.9 311.9V199.4" stroke="#CD9600" stroke-width="2.8" stroke-linecap="round" fill="none"/>
<path d="M182.5 311.9V141.3" stroke="#B79F00" stroke-width="2.8" stroke-linecap="round" fill="none"/>
<path d="M207.5 311.9V118.9" stroke="#B79F00" stroke-width="2.8" stroke-linecap="round" fill="none"/>
<path d="M118.5 311.9V199.4" stroke="#93AA00" stroke-width="2.8" stroke-linecap="round" fill="none"/>
<path d="M116.2 311.9V214.3" stroke="#93AA00" stroke-width="2.8" stroke-linecap="round" fill="none"/>
<path d="M178.1 311.9V174.4" stroke="#93AA00" stroke-width="2.8" stroke-linecap="round" fill="none"/>
<path d="M203.5 311.9V126.9" stroke="#93AA00" stroke-width="2.8" stroke-linecap="round" fill="none"/>
<path d="M260.7 311.9V214.3" stroke="#93AA00" stroke-width="2.8" stroke-linecap="round" fill="none"/>
<path d="M271 311.9V190" stroke="#93AA00" stroke-width="2.8" stroke-linecap="round" fill="none"/>
<path d="M275.7 311.9V214.3" stroke="#93AA00" stroke-width="2.8" stroke-linecap="round" fill="none"/>
<path d="M329.7 311.9V183.1" stroke="#93AA00" stroke-width="2.8" stroke-linecap="round" fill="none"/>
<path d="M164.5 311.9V161.3" stroke="#6BB100" stroke-width="2.8" stroke-linecap="round" fill="none"/>
<path d="M190.6 311.9V165.6" stroke="#6BB100" stroke-width="2.8" stroke-linecap="round" fill="none"/>
<path d="M266.4 311.9V188.7" stroke="#6BB100" stroke-width="2.8" stroke-linecap="round" fill="none"/>
<path d="M265.1 311.9V205.6" stroke="#39B600" stroke-width="2.8" stroke-linecap="round" fill="none"/>
<path d="M168.1 311.9V175" stroke="#00BA38" stroke-width="2.8" stroke-linecap="round" fill="none"/>
<path d="M186.2 311.9V189.4" stroke="#00BA38" stroke-width="2.8" stroke-linecap="round" fill="none"/>
<path d="M222.5 311.9V184.4" stroke="#00BA38" stroke-width="2.8" stroke-linecap="round" fill="none"/>
<path d="M252.5 311.9V191.2" stroke="#00BA38" stroke-width="2.8" stroke-linecap="round" fill="none"/>
<path d="M252.4 311.9V191.2" stroke="#00BA38" stroke-width="2.8" stroke-linecap="round" fill="none"/>
<path d="M293.2 311.9V210.6" stroke="#00BA38" stroke-width="2.8" stroke-linecap="round" fill="none"/>
<path d="M173.8 311.9V148.2" stroke="#00C08B" stroke-width="2.8" stroke-linecap="round" fill="none"/>
<path d="M227.9 311.9V138.8" stroke="#00C08B" stroke-width="2.8" stroke-linecap="round" fill="none"/>
<path d="M226.9 311.9V148.2" stroke="#00C08B" stroke-width="2.8" stroke-linecap="round" fill="none"/>
<path d="M290.7 311.9V186.9" stroke="#00C08B" stroke-width="2.8" stroke-linecap="round" fill="none"/>
<path d="M139.5 311.9V199.4" stroke="#00C1A3" stroke-width="2.8" stroke-linecap="round" fill="none"/>
<path d="M193.8 311.9V202.5" stroke="#00BFC4" stroke-width="2.8" stroke-linecap="round" fill="none"/>
<path d="M289.1 311.9V165.6" stroke="#00BFC4" stroke-width="2.8" stroke-linecap="round" fill="none"/>
<path d="M323.9 311.9V199.4" stroke="#00BFC4" stroke-width="2.8" stroke-linecap="round" fill="none"/>
<path d="M132.9 311.9V191.9" stroke="#00B8E7" stroke-width="2.8" stroke-linecap="round" fill="none"/>
<path d="M156.2 311.9V156.9" stroke="#00B8E7" stroke-width="2.8" stroke-linecap="round" fill="none"/>
<path d="M300.7 311.9V181.9" stroke="#00B8E7" stroke-width="2.8" stroke-linecap="round" fill="none"/>
<path d="M129.4 311.9V118.9" stroke="#3DA1FF" stroke-width="2.8" stroke-linecap="round" fill="none"/>
<path d="M127.9 311.9V148.2" stroke="#3DA1FF" stroke-width="2.8" stroke-linecap="round" fill="none"/>
<path d="M131 311.9V165.6" stroke="#3DA1FF" stroke-width="2.8" stroke-linecap="round" fill="none"/>
<path d="M150.4 311.9V174.4" stroke="#3DA1FF" stroke-width="2.8" stroke-linecap="round" fill="none"/>
<path d="M157.5 311.9V138.8" stroke="#3DA1FF" stroke-width="2.8" stroke-linecap="round" fill="none"/>
<path d="M159.4 311.9V118.9" stroke="#8494FF" stroke-width="2.8" stroke-linecap="round" fill="none"/>
<path d="M216.9 311.9V118.9" stroke="#8494FF" stroke-width="2.8" stroke-linecap="round" fill="none"/>
<path d="M218.8 311.9V118.9" stroke="#8494FF" stroke-width="2.8" stroke-linecap="round" fill="none"/>
<path d="M296.4 311.9V214.3" stroke="#8494FF" stroke-width="2.8" stroke-linecap="round" fill="none"/>
<path d="M319.9 311.9V118.9" stroke="#8494FF" stroke-width="2.8" stroke-linecap="round" fill="none"/>
<path d="M125.4 311.9V174.4" stroke="#C77CFF" stroke-width="2.8" stroke-linecap="round" fill="none"/>
<path d="M143.1 311.9V214.3" stroke="#C77CFF" stroke-width="2.8" stroke-linecap="round" fill="none"/>
<path d="M153.1 311.9V174.4" stroke="#C77CFF" stroke-width="2.8" stroke-linecap="round" fill="none"/>
<path d="M161.6 311.9V118.9" stroke="#C77CFF" stroke-width="2.8" stroke-linecap="round" fill="none"/>
<path d="M172.5 311.9V153.8" stroke="#C77CFF" stroke-width="2.8" stroke-linecap="round" fill="none"/>
<path d="M188.8 311.9V174.4" stroke="#C77CFF" stroke-width="2.8" stroke-linecap="round" fill="none"/>
<path d="M224.4 311.9V118.9" stroke="#C77CFF" stroke-width="2.8" stroke-linecap="round" fill="none"/>
<path d="M234.4 311.9V174.4" stroke="#C77CFF" stroke-width="2.8" stroke-linecap="round" fill="none"/>
<path d="M234.5 311.9V174.4" stroke="#C77CFF" stroke-width="2.8" stroke-linecap="round" fill="none"/>
<path d="M342.6 311.9V165.6" stroke="#C77CFF" stroke-width="2.8" stroke-linecap="round" fill="none"/>
<path d="M348.5 311.9V205.6" stroke="#C77CFF" stroke-width="2.8" stroke-linecap="round" fill="none"/>
<path d="M110.4 311.9V118.9" stroke="#E76BF3" stroke-width="2.8" stroke-linecap="round" fill="none"/>
<path d="M136.5 311.9V118.9" stroke="#E76BF3" stroke-width="2.8" stroke-linecap="round" fill="none"/>
<path d="M199.4 311.9V118.9" stroke="#E76BF3" stroke-width="2.8" stroke-linecap="round" fill="none"/>
<path d="M205.6 311.9V118.9" stroke="#E76BF3" stroke-width="2.8" stroke-linecap="round" fill="none"/>
<path d="M245.6 311.9V199.4" stroke="#E76BF3" stroke-width="2.8" stroke-linecap="round" fill="none"/>
<path d="M251.2 311.9V194.4" stroke="#E76BF3" stroke-width="2.8" stroke-linecap="round" fill="none"/>
<path d="M251 311.9V194.4" stroke="#E76BF3" stroke-width="2.8" stroke-linecap="round" fill="none"/>
<path d="M317.6 311.9V174.4" stroke="#E76BF3" stroke-width="2.8" stroke-linecap="round" fill="none"/>
<path d="M327.6 311.9V174.4" stroke="#E76BF3" stroke-width="2.8" stroke-linecap="round" fill="none"/>
<path d="M337.6 311.9V118.9" stroke="#E76BF3" stroke-width="2.8" stroke-linecap="round" fill="none"/>
<path d="M108.5 311.9V151.3" stroke="#FF62BC" stroke-width="2.8" stroke-linecap="round" fill="none"/>
<path d="M133.1 311.9V199.4" stroke="#FF62BC" stroke-width="2.8" stroke-linecap="round" fill="none"/>
<path d="M170.6 311.9V199.4" stroke="#FF62BC" stroke-width="2.8" stroke-linecap="round" fill="none"/>
<path d="M231.2 311.9V118.9" stroke="#FF62BC" stroke-width="2.8" stroke-linecap="round" fill="none"/>
<path d="M220.6 311.9V139.4" stroke="#FF62BC" stroke-width="2.8" stroke-linecap="round" fill="none"/>
<path d="M255.6 311.9V174.4" stroke="#FF62BC" stroke-width="2.8" stroke-linecap="round" fill="none"/>
<path d="M255.5 311.9V174.4" stroke="#FF62BC" stroke-width="2.8" stroke-linecap="round" fill="none"/>
<path d="M277 311.9V214.3" stroke="#FF62BC" stroke-width="2.8" stroke-linecap="round" fill="none"/>
<path d="M287 311.9V213.1" stroke="#FF62BC" stroke-width="2.8" stroke-linecap="round" fill="none"/>
<path d="M102.5 311.9V153.2" stroke="#FF6A98" stroke-width="2.8" stroke-linecap="round" fill="none"/>
<path d="M269.5 311.9V199.4" stroke="#FF6A98" stroke-width="2.8" stroke-linecap="round" fill="none"/>
<path d="M321.4 311.9V118.9" stroke="#FF6A98" stroke-width="2.8" stroke-linecap="round" fill="none"/>
<polygon points="102.3,252.6 102.3,252.6 103,277 105,277 105.7,232.8 107.7,232.8 108.4,173.6 110.4,173.6 111.1,281.4 113.1,281.4 113.8,260.2 115.8,260.2 116.5,259.9 118.5,259.9 119.2,246.9 121.2,246.9 121.9,296.2 123.9,296.2 124.6,207.6 126.6,207.6 127.3,237.8 129.3,237.8 130,275.3 132,275.3 132.7,264.4 134.7,264.4 135.4,286.6 137.4,286.6 138.1,301.8 140.1,301.8 140.8,278.1 142.8,278.1 143.5,251 145.5,251 146.2,278.8 148.2,278.8 148.9,273.7 150.9,273.7 151.6,267.3 153.6,267.3 154.3,251.6 156.3,251.6 157,210.1 159,210.1 159.7,202.5 161.7,202.5 162.4,231.8 164.4,231.8 165.1,285.8 167.1,285.8 167.8,278.7 169.8,278.7 170.5,301.7 172.5,301.7 173.2,284.1 175.2,284.1 175.9,250.9 177.9,250.9 178.6,287.3 180.6,287.3 181.3,297.7 183.3,297.7 184,278.6 186,278.6 186.7,301 188.7,301 189.4,274.7 191.4,274.7 192.1,304.2 194.1,304.2 194.8,304.7 196.8,304.7 197.5,257.2 199.5,257.2 200.2,279 202.2,279 202.9,287.1 204.9,287.1 205.6,223.5 207.6,223.5 208.3,281.2 210.3,281.2 211,292.2 213,292.2 213.7,251.1 215.7,251.1 216.4,280.3 218.4,280.3 219.1,229.8 221.1,229.8 221.8,242.3 223.8,242.3 224.5,294.4 226.5,294.4 227.2,259.9 229.2,259.9 229.9,295.4 231.9,295.4 232.6,267.3 234.6,267.3 235.3,214 237.3,214 238,299.4 240,299.4 240.7,253 242.7,253 243.4,306 245.4,306 246.1,233.3 248.1,233.3 248.8,288.6 250.8,288.6 251.5,253.4 253.5,253.4 254.2,173.6 256.2,173.6 256.9,291.4 258.9,291.4 259.6,301.7 261.6,301.7 262.3,271.1 264.3,271.1 265,291.7 267,291.7 267.7,289.2 269.7,289.2 270.4,306.5 272.4,306.5 273.1,298 275.1,298 275.8,274.5 277.8,274.5 278.5,273.1 280.5,273.1 281.2,197.3 283.2,197.3 283.9,283.7 285.9,283.7 286.6,293.7 288.6,293.7 289.3,234.5 291.3,234.5 292,304.6 294,304.6 294.7,302.7 296.7,302.7 297.4,282.2 299.4,282.2 300.1,270.8 302.1,270.8 302.8,293 304.8,293 305.5,213.5 307.5,213.5 308.2,296.4 310.2,296.4 310.9,251.3 312.9,251.3 313.6,272.9 315.6,272.9 316.3,260.2 318.3,260.2 319,241.5 321,241.5 321.7,305.7 323.7,305.7 324.4,299.9 326.4,299.9 327.1,217.9 329.1,217.9 329.8,261.9 331.8,261.9 332.5,216.5 334.5,216.5 335.2,261.2 337.2,261.2 337.9,222.8 339.9,222.8 340.6,276.8 342.6,276.8 343.3,257.2 345.3,257.2 346,220.1 346.1,220.1 346.1,312.4 102.3,312.4" fill="#C77CFF" stroke="#C77CFF" stroke-width="0.9" stroke-linejoin="round"/>
<polygon points="102.3,209 104.1,209 104.8,173.6 106.8,173.6 107.5,197.9 109.5,197.9 110.2,269.2 112.2,269.2 112.9,230.6 114.9,230.6 115.6,276 117.6,276 118.3,280.7 120.3,280.7 121,297.9 123,297.9 123.7,196.7 125.7,196.7 126.4,200 128.4,200 129.1,232.7 131.1,232.7 131.8,226.7 133.8,226.7 134.5,201.6 136.5,201.6 137.2,288.6 139.2,288.6 139.9,288.3 141.9,288.3 142.6,243.7 144.6,243.7 145.3,284.5 147.3,284.5 148,273.4 150,273.4 150.7,265.4 152.7,265.4 153.4,229.1 155.4,229.1 156.1,234.5 158.1,234.5 158.8,242.6 160.8,242.6 161.5,247.4 163.5,247.4 164.2,285.5 166.2,285.5 166.9,286.8 168.9,286.8 169.6,295.7 171.6,295.7 172.3,299.3 174.3,299.3 175,268.8 177,268.8 177.7,265.1 179.7,265.1 180.4,244.3 182.4,244.3 183.1,239.5 185.1,239.5 185.8,252.6 187.8,252.6 188.5,259 190.5,259 191.2,288.6 193.2,288.6 193.9,304.4 195.9,304.4 196.6,304 198.6,304 199.3,173.6 201.3,173.6 202,207.6 204,207.6 204.7,238.3 206.7,238.3 207.4,265.6 209.4,265.6 210.1,264.6 212.1,264.6 212.8,278.3 214.8,278.3 215.5,206.6 217.5,206.6 218.2,288 220.2,288 220.9,250 222.9,250 223.6,283.3 225.6,283.3 226.3,197.8 228.3,197.8 229,278.7 231,278.7 231.7,258.8 233.7,258.8 234.4,232.3 236.4,232.3 237.1,211.7 239.1,211.7 239.8,220 241.8,220 242.5,303.2 244.5,303.2 245.2,231.7 247.2,231.7 247.9,220.9 249.9,220.9 250.6,225.2 252.6,225.2 253.3,173.6 255.3,173.6 256,284.8 258,284.8 258.7,272.8 260.7,272.8 261.4,284.9 263.4,284.9 264.1,266.1 266.1,266.1 266.8,286.5 268.8,286.5 269.5,283.2 271.5,283.2 272.2,303.6 274.2,303.6 274.9,301.1 276.9,301.1 277.6,281.6 279.6,281.6 280.3,226.3 282.3,226.3 283,259.9 285,259.9 285.7,271.5 287.7,271.5 288.4,249 290.4,249 291.1,303.5 293.1,303.5 293.8,299 295.8,299 296.5,289.1 298.5,289.1 299.2,288.4 301.2,288.4 301.9,287.8 303.9,287.8 304.6,173.6 306.6,173.6 307.3,173.6 309.3,173.6 310,244.3 312,244.3 312.7,216.5 314.7,216.5 315.4,193.8 317.4,193.8 318.1,242.2 320.1,242.2 320.8,255.1 322.8,255.1 323.5,300.7 325.5,300.7 326.2,198.9 328.2,198.9 328.9,241.4 330.9,241.4 331.6,256.6 333.6,256.6 334.3,237.8 336.3,237.8 337,205.8 339,205.8 339.7,245.3 341.7,245.3 342.4,231.4 344.4,231.4 345.1,259.7 346.1,259.7 346.1,312.4 102.3,312.4" fill="#E76BF3" stroke="#E76BF3" stroke-width="0.9" stroke-linejoin="round"/>
<polygon points="102.3,276 103.1,276 103.8,202.4 105.8,202.4 106.5,244.8 108.5,244.8 109.2,173.6 111.2,173.6 111.9,228.7 113.9,228.7 114.6,257.2 116.6,257.2 117.3,281.8 119.3,281.8 120,222.8 122,222.8 122.7,173.6 124.7,173.6 125.4,245.5 127.4,245.5 128.1,281.8 130.1,281.8 130.8,251.4 132.8,251.4 133.5,223.3 135.5,223.3 136.2,287.7 138.2,287.7 138.9,266 140.9,266 141.6,270.2 143.6,270.2 144.3,227 146.3,227 147,251.8 149,251.8 149.7,230.7 151.7,230.7 152.4,173.6 154.4,173.6 155.1,241.1 157.1,241.1 157.8,173.6 159.8,173.6 160.5,243.1 162.5,243.1 163.2,253.9 165.2,253.9 165.9,286.4 167.9,286.4 168.6,198.2 170.6,198.2 171.3,302 173.3,302 174,278 176,278 176.7,271.4 178.7,271.4 179.4,249.8 181.4,249.8 182.1,290.2 184.1,290.2 184.8,199.9 186.8,199.9 187.5,271.1 189.5,271.1 190.2,283.2 192.2,283.2 192.9,305.7 194.9,305.7 195.6,300.9 197.6,300.9 198.3,238.5 200.3,238.5 201,250.6 203,250.6 203.7,286.6 205.7,286.6 206.4,238.5 208.4,238.5 209.1,251.5 211.1,251.5 211.8,268.9 213.8,268.9 214.5,173.6 216.5,173.6 217.2,213.6 219.2,213.6 219.9,173.6 221.9,173.6 222.6,217.2 224.6,217.2 225.3,236.6 227.3,236.6 228,246.4 230,246.4 230.7,269.4 232.7,269.4 233.4,173.6 235.4,173.6 236.1,271.4 238.1,271.4 238.8,173.6 240.8,173.6 241.5,247.4 243.5,247.4 244.2,305.8 246.2,305.8 246.9,267.6 248.9,267.6 249.6,221.5 251.6,221.5 252.3,252.7 254.3,252.7 255,173.6 257,173.6 257.7,291.5 259.7,291.5 260.4,298.6 262.4,298.6 263.1,252.5 265.1,252.5 265.8,287.9 267.8,287.9 268.5,293.9 270.5,293.9 271.2,304.1 273.2,304.1 273.9,295 275.9,295 276.6,280.8 278.6,280.8 279.3,231.3 281.3,231.3 282,287.5 284,287.5 284.7,231.8 286.7,231.8 287.4,197.3 289.4,197.3 290.1,231.7 292.1,231.7 292.8,301.9 294.8,301.9 295.5,292.1 297.5,292.1 298.2,248.7 300.2,248.7 300.9,249.1 302.9,249.1 303.6,300.7 305.6,300.7 306.3,173.6 308.3,173.6 309,173.6 311,173.6 311.7,267.8 313.7,267.8 314.4,238 316.4,238 317.1,173.6 319.1,173.6 319.8,236.1 321.8,236.1 322.5,298.6 324.5,298.6 325.2,295 327.2,295 327.9,242.1 329.9,242.1 330.6,173.6 332.6,173.6 333.3,256.5 335.3,256.5 336,239.8 338,239.8 338.7,173.6 340.7,173.6 341.4,173.6 343.4,173.6 344.1,173.6 346.1,173.6 346.1,312.4 102.3,312.4" fill="#FF62BC" stroke="#FF62BC" stroke-width="0.9" stroke-linejoin="round"/>
<polygon points="102.3,263.2 104.3,263.2 105,282 107,282 107.7,259.6 109.7,259.6 110.4,265.3 112.4,265.3 113.1,173.6 115.1,173.6 115.8,290.5 117.8,290.5 118.5,244 120.5,244 121.2,281.7 123.2,281.7 123.9,173.6 125.9,173.6 126.6,223 128.6,223 129.3,234.6 131.3,234.6 132,201.6 134,201.6 134.7,292.9 136.7,292.9 137.4,272.2 139.4,272.2 140.1,282.7 142.1,282.7 142.8,260.8 144.8,260.8 145.5,252.9 147.5,252.9 148.2,173.6 150.2,173.6 150.9,275.5 152.9,275.5 153.6,173.6 155.6,173.6 156.3,226.6 158.3,226.6 159,288 161,288 161.7,173.6 163.7,173.6 164.4,281.3 166.4,281.3 167.1,268.6 169.1,268.6 169.8,278 171.8,278 172.5,291.6 174.5,291.6 175.2,256.2 177.2,256.2 177.9,262.4 179.9,262.4 180.6,263.8 182.6,263.8 183.3,269.9 185.3,269.9 186,199.9 188,199.9 188.7,239.5 190.7,239.5 191.4,297.6 193.4,297.6 194.1,304.2 196.1,304.2 196.8,300.9 198.8,300.9 199.5,281.8 201.5,281.8 202.2,273 204.2,273 204.9,225.2 206.9,225.2 207.6,173.6 209.6,173.6 210.3,256.8 212.3,256.8 213,218.2 215,218.2 215.7,283.6 217.7,283.6 218.4,254.1 220.4,254.1 221.1,230.4 223.1,230.4 223.8,218.1 225.8,218.1 226.5,251.5 228.5,251.5 229.2,173.6 231.2,173.6 231.9,253.7 233.9,253.7 234.6,209.4 236.6,209.4 237.3,173.6 239.3,173.6 240,287.7 242,287.7 242.7,303.3 244.7,303.3 245.4,254.7 247.4,254.7 248.1,248 250.1,248 250.8,276.5 252.8,276.5 253.5,173.6 255.5,173.6 256.2,291.1 258.2,291.1 258.9,293.9 260.9,293.9 261.6,252.5 263.6,252.5 264.3,276.7 266.3,276.7 267,292.3 269,292.3 269.7,284.9 271.7,284.9 272.4,303.2 274.4,303.2 275.1,253.9 277.1,253.9 277.8,270.1 279.8,270.1 280.5,235.1 282.5,235.1 283.2,239.1 285.2,239.1 285.9,245.9 287.9,245.9 288.6,260.9 290.6,260.9 291.3,290.7 293.3,290.7 294,282.2 296,282.2 296.7,298.6 298.7,298.6 299.4,295.5 301.4,295.5 302.1,301.3 304.1,301.3 304.8,251.9 306.8,251.9 307.5,173.6 309.5,173.6 310.2,250.1 312.2,250.1 312.9,276.7 314.9,276.7 315.6,173.6 317.6,173.6 318.3,173.6 320.3,173.6 321,225.2 323,225.2 323.7,295 325.7,295 326.4,204.8 328.4,204.8 329.1,282 331.1,282 331.8,253.2 333.8,253.2 334.5,243.5 336.5,243.5 337.2,173.6 339.2,173.6 339.9,234.5 341.9,234.5 342.6,208.8 344.6,208.8 345.3,269.3 346.1,269.3 346.1,312.4 102.3,312.4" fill="#FF66A8" stroke="#FF66A8" stroke-width="0.9" stroke-linejoin="round"/>
<polygon points="102.3,292.1 102.3,292.1 103,229 105,229 105.7,279.8 107.7,279.8 108.4,228.5 110.4,228.5 111.1,281.2 113.1,281.2 113.8,270.7 115.8,270.7 116.5,289.3 118.5,289.3 119.2,258.6 121.2,258.6 121.9,298.4 123.9,298.4 124.6,265.6 126.6,265.6 127.3,275.7 129.3,275.7 130,201.6 132,201.6 132.7,258.4 134.7,258.4 135.4,239.4 137.4,239.4 138.1,266.4 140.1,266.4 140.8,282.9 142.8,282.9 143.5,285.6 145.5,285.6 146.2,295.9 148.2,295.9 148.9,281.6 150.9,281.6 151.6,218.8 153.6,218.8 154.3,173.6 156.3,173.6 157,173.6 159,173.6 159.7,279.4 161.7,279.4 162.4,297 164.4,297 165.1,244.9 167.1,244.9 167.8,269.7 169.8,269.7 170.5,293.3 172.5,293.3 173.2,297.5 175.2,297.5 175.9,280.6 177.9,280.6 178.6,263.4 180.6,263.4 181.3,286.6 183.3,286.6 184,269.2 186,269.2 186.7,275.1 188.7,275.1 189.4,291.6 191.4,291.6 192.1,282.8 194.1,282.8 194.8,303.4 196.8,303.4 197.5,303.2 199.5,303.2 200.2,246.1 202.2,246.1 202.9,289.6 204.9,289.6 205.6,246.9 207.6,246.9 208.3,249.9 210.3,249.9 211,256.9 213,256.9 213.7,271 215.7,271 216.4,225.4 218.4,225.4 219.1,173.6 221.1,173.6 221.8,241.5 223.8,241.5 224.5,287.7 226.5,287.7 227.2,265.3 229.2,265.3 229.9,261.9 231.9,261.9 232.6,250.3 234.6,250.3 235.3,285.4 237.3,285.4 238,225 240,225 240.7,285.6 242.7,285.6 243.4,306 245.4,306 246.1,197.3 248.1,197.3 248.8,280.6 250.8,280.6 251.5,261.6 253.5,261.6 254.2,249.7 256.2,249.7 256.9,290.8 258.9,290.8 259.6,301.5 261.6,301.5 262.3,299.8 264.3,299.8 265,274.5 267,274.5 267.7,279.3 269.7,279.3 270.4,305.6 272.4,305.6 273.1,301.1 275.1,301.1 275.8,263.3 277.8,263.3 278.5,292.5 280.5,292.5 281.2,260.6 283.2,260.6 283.9,287.9 285.9,287.9 286.6,293 288.6,293 289.3,272.8 291.3,272.8 292,282.2 294,282.2 294.7,302 296.7,302 297.4,294.7 299.4,294.7 300.1,260.7 302.1,260.7 302.8,292.3 304.8,292.3 305.5,222.9 307.5,222.9 308.2,281.2 310.2,281.2 310.9,267.7 312.9,267.7 313.6,241.3 315.6,241.3 316.3,284.7 318.3,284.7 319,236.9 321,236.9 321.7,301.1 323.7,301.1 324.4,295 326.4,295 327.1,286.5 329.1,286.5 329.8,231.8 331.8,231.8 332.5,222.3 334.5,222.3 335.2,274.5 337.2,274.5 337.9,259.5 339.9,259.5 340.6,249.1 342.6,249.1 343.3,292.7 345.3,292.7 346,232 346.1,232 346.1,312.4 102.3,312.4" fill="#FF6A98" stroke="#FF6A98" stroke-width="0.9" stroke-linejoin="round"/>
<rect x="198.5" y="117.5" width="21.1" height="194.4" rx="1.2" fill="#FF62BC"/>
<rect x="198.5" y="117.5" width="2.8" height="194.4" rx="1.2" fill="#E76BF3"/>
<rect x="201" y="117.5" width="2.8" height="194.4" rx="1.2" fill="#E58700"/>
<rect x="202.4" y="117.5" width="2.8" height="194.4" rx="1.2" fill="#93AA00"/>
<rect x="203.9" y="117.5" width="2.8" height="194.4" rx="1.2" fill="#E76BF3"/>
<rect x="206.4" y="117.5" width="2.8" height="194.4" rx="1.2" fill="#B79F00"/>
<rect x="207.8" y="117.5" width="7.8" height="194.4" rx="1.2" fill="#FF62BC"/>
<rect x="210.3" y="117.5" width="4.4" height="194.4" rx="1.2" fill="#FF6A98"/>
<rect x="215.7" y="117.5" width="3.9" height="194.4" rx="1.2" fill="#8494FF"/>
<rect x="308.8" y="117.5" width="2.9" height="194.4" rx="1.2" fill="#FF62BC"/>
<rect x="313.2" y="117.5" width="2.9" height="194.4" rx="1.2" fill="#FF62BC"/>
<rect x="319.5" y="117.5" width="2.8" height="194.4" rx="1.2" fill="#8494FF"/>
<rect x="321" y="117.5" width="2.8" height="194.4" rx="1.2" fill="#FF6A98"/>
<rect x="331.8" y="117.5" width="2.8" height="194.4" rx="1.2" fill="#FF62BC"/>
<rect x="334.7" y="117.5" width="2.8" height="194.4" rx="1.2" fill="#FF62BC"/>
<rect x="337.2" y="117.5" width="2.8" height="194.4" rx="1.2" fill="#E76BF3"/>
<rect x="345" y="117.5" width="2.8" height="194.4" rx="1.2" fill="#FF6A98"/>
<polygon points="102,284.1 104.4,279.5 106.8,290.4 109.2,272.2 111.6,289.2 114,302.1 116.4,291.2 118.8,294 121.2,291.7 123.6,292.4 126,285.8 128.4,300.5 130.8,293.9 133.2,294.5 135.6,291.7 138,288.3 140.4,295.9 142.8,306.5 145.2,304.1 147.6,291 150,289.3 152.4,292.8 154.8,287.5 157.2,293.7 159.6,273.4 162,294.9 164.4,290.2 166.8,299.9 169.2,306.1 171.6,301.5 174,298.5 176.4,267.2 178.8,268.4 181.2,277.9 183.6,270.1 186,258.3 188.4,251.8 190.8,250.8 193.2,282.7 195.6,299 198,308.2 200.4,304 202.8,301.5 205.2,296 207.6,273.2 210,222.2 212.4,278.5 214.8,286 217.2,277.4 219.6,296.6 222,299.6 224.4,298.5 226.8,299.6 229.2,289.8 231.6,288.1 234,267.7 236.4,275.5 238.8,302.3 241.2,300.7 243.6,302 246,297.7 248.4,296.7 250.8,297.6 253.2,295.4 255.6,297.8 258,296 260.4,274.9 262.8,266.5 265.2,260.7 267.6,279.3 270,297 272.4,296.9 274.8,297.5 277.2,299 279.6,285.6 282,284.5 284.4,265.7 286.8,264.4 289.2,278.4 291.6,271.6 294,282.2 296.4,275.1 298.8,303.4 301.2,302.3 303.6,301.5 306,299.7 308.4,296.4 310.8,298.4 313.2,298.2 315.6,277.1 318,297.6 320.4,302.3 322.8,305.1 325.2,306 327.6,304.9 330,303.6 332.4,299.7 334.8,295.5 337.2,277.7 339.6,278.7 342,266.8 344.4,296.2 344.4,312 341.4,314.7 338.4,312.2 335.4,312.1 332.4,312.1 329.4,314.9 326.4,311.8 323.4,313 320.4,313.2 317.5,311.7 314.5,311.7 311.5,312.1 308.5,311.7 305.5,312.2 302.5,311.6 299.5,312.1 296.5,311.7 293.5,313.3 290.5,312 287.5,311.7 284.5,312 281.5,311.8 278.6,311.8 275.6,314.8 272.6,315 269.6,311.9 266.6,311.8 263.6,311.6 260.6,311.9 257.6,311.6 254.6,312 251.6,311.7 248.6,313.1 245.6,311.7 242.6,311.9 239.6,312 236.7,312 233.7,311.8 230.7,311.8 227.7,312.1 224.7,311.8 221.7,312.2 218.7,311.8 215.7,312.2 212.7,313 209.7,312 206.7,311.8 203.7,311.7 200.7,311.7 197.8,314.7 194.8,314.9 191.8,311.7 188.8,311.8 185.8,313.1 182.8,312.2 179.8,313 176.8,311.7 173.8,311.9 170.8,311.8 167.8,311.9 164.8,312.1 161.8,313.4 158.8,315 155.9,312.1 152.9,314.9 149.9,312.2 146.9,312 143.9,313.2 140.9,313.3 137.9,313.1 134.9,312 131.9,313.6 128.9,313.3 125.9,313.5 122.9,311.8 119.9,312.1 117,313.2 114,312.1 111,313.4 108,311.9 105,312.1 102,313.5" fill="#F8766D" stroke="#F8766D" stroke-width="2.4" stroke-linejoin="round"/>
<path d="M422 858.5L423.4 849.5L424.4 850L424.4 861Z" fill="#808080"/>
<polygon points="425.3,287.7 426.2,263.9 428.6,273.1 431,246 433.4,281.2 435.8,263.1 438.2,292.7 440.6,302.3 443,290.7 445.4,293.1 447.8,272.4 450.2,286.2 452.6,284.2 455,215.9 457.4,245.6 459.8,276.8 462.2,296.2 464.6,292.5 467,295.2 469.4,306.2 471.8,297.5 474.2,295.9 476.6,281.9 479,234.1 481.4,268.3 483.8,285.5 486.2,269.1 488.6,294.7 491,299.2 493.4,295 495.8,295.1 498.2,289 500.6,278.1 503,285 505.4,285.2 507.8,282.2 510.2,267.6 512.6,262.7 515,291.9 517.4,290.4 519.8,303.5 522.2,301.3 524.6,259.2 527,282 529.4,222.9 531.8,163.3 534.2,256.9 536.6,254.9 539,276 541.4,288 543.8,292.1 546.2,293.1 548.6,238.5 551,225.9 553.4,187.4 555.8,271.8 558.2,220 560.6,272.6 563,242.2 565.4,266.8 567.8,298 570.2,275.4 572.6,299.7 575,291.4 577.4,283.6 579.8,299.7 582.2,293.5 584.6,277.5 587,280.1 589.4,265.4 591.8,258.9 594.2,288.6 596.6,292.1 599,295.3 601.4,280.8 603.8,289 606.2,289.2 608.6,283.3 611,281.9 613.4,280 615.8,290.8 618.2,276.8 620.6,293.3 623,277.5 625.4,290.6 627.8,274.7 630.2,273.8 632.6,278.5 635,286.1 637.4,288.8 639.8,270.2 642.2,292.1 644.6,288.2 647,276.7 649.4,278.2 651.8,298.9 654.2,283.3 656.6,257.8 659,254.2 661.4,241.6 663.8,229.4 666.2,265 668.6,270.7 669.9,291.3 669.9,309.5 425.3,309.5" fill="#E58700" stroke="#E58700" stroke-width="2.3" stroke-linejoin="round"/>
<polygon points="425.3,261 427.7,277.3 430.1,268.6 432.5,235.2 434.9,281.4 437.3,276.4 439.7,295.2 442.1,298.6 444.5,291.7 446.9,287 449.3,291.9 451.7,270.6 454.1,291.6 456.5,287.6 458.9,283.8 461.3,301.9 463.7,279.2 466.1,299.9 468.5,293.8 470.9,295.4 473.3,282.9 475.7,287.7 478.1,251.4 480.5,277.7 482.9,262.9 485.3,261.7 487.7,289.8 490.1,302.7 492.5,299 494.9,291.3 497.3,294.9 499.7,296.4 502.1,288.6 504.5,288.6 506.9,251.8 509.3,250.1 511.7,280.5 514.1,278.3 516.5,298.6 518.9,293.7 521.3,294.9 523.7,297.2 526.1,293.2 528.5,254.2 530.9,282.7 533.3,218 535.7,263.2 538.1,273.8 540.5,240.8 542.9,273.6 545.3,266.1 547.7,285.2 550.1,214.4 552.5,261.8 554.9,191.9 557.3,271.5 559.7,227.4 562.1,246.8 564.5,288.9 566.9,300 569.3,302.7 571.7,285.7 574.1,304.4 576.5,296.9 578.9,304.4 581.3,293.9 583.7,274.6 586.1,277.7 588.5,273.1 590.9,292.7 593.3,276.8 595.7,285.9 598.1,293.4 600.5,281 602.9,272.8 605.3,276.7 607.7,291.4 610.1,276.6 612.5,265.9 614.9,267.1 617.3,270.7 619.7,283.2 622.1,293.5 624.5,273.3 626.9,273.6 629.3,266.9 631.7,281.8 634.1,284.7 636.5,283.8 638.9,198.8 641.3,233.4 643.7,284.1 646.1,267.2 648.5,299.5 650.9,278.7 653.3,260.4 655.7,285.9 658.1,261.9 660.5,270.4 662.9,285.4 665.3,275.8 667.7,277.3 669.9,280.9 669.9,309.6 425.3,309.6" fill="#93AA00" stroke="#93AA00" stroke-width="2.3" stroke-linejoin="round"/>
<polygon points="425.3,270.5 427.4,251.7 429.8,260.8 432.2,273.3 434.6,256.7 437,262.6 439.4,289.5 441.8,285.4 444.2,291.8 446.6,283.8 449,291.6 451.4,289.2 453.8,261.4 456.2,255.1 458.6,283 461,275.4 463.4,297.1 465.8,296 468.2,280.2 470.6,288.9 473,284.5 475.4,282.9 477.8,278.5 480.2,280.8 482.6,286.2 485,240.8 487.4,261.7 489.8,293.1 492.2,301.9 494.6,301 497,290.6 499.4,275.5 501.8,253.5 504.2,247.7 506.6,285.1 509,243.1 511.4,290 513.8,260.8 516.2,294.6 518.6,300.4 521,284.1 523.4,285.6 525.8,278.4 528.2,189.5 530.6,218.7 533,162.7 535.4,237.5 537.8,245.2 540.2,197.2 542.6,257.8 545,237.2 547.4,290.5 549.8,231.1 552.2,268.7 554.6,234.6 557,273.8 559.4,272.2 561.8,236.6 564.2,284.2 566.6,285.8 569,285.6 571.4,293.8 573.8,299.6 576.2,287.4 578.6,284.5 581,280.7 583.4,288.1 585.8,232.4 588.2,243.9 590.6,271 593,284.1 595.4,300.8 597.8,298.4 600.2,277.7 602.6,286.5 605,264.8 607.4,265.4 609.8,283.7 612.2,272.2 614.6,285 617,270.1 619.4,281 621.8,274.7 624.2,263.8 626.6,289.8 629,265.2 631.4,273.9 633.8,266.5 636.2,274.4 638.6,247 641,247.9 643.4,260.9 645.8,283.6 648.2,302.5 650.6,287.9 653,295.5 655.4,248.6 657.8,226.5 660.2,270.2 662.6,250.9 665,263.2 667.4,292.6 669.9,272.1 669.9,309.8 425.3,309.8" fill="#00BA38" stroke="#00BA38" stroke-width="2.3" stroke-linejoin="round"/>
<polygon points="425.3,285.6 426.9,255.3 429.3,274.4 431.7,282.3 434.1,283.3 436.5,281.1 438.9,276 441.3,284 443.7,304.3 446.1,296.9 448.5,299.9 450.9,287.2 453.3,263.2 455.7,277.4 458.1,268 460.5,263.3 462.9,290.8 465.3,285.6 467.7,285.8 470.1,292.4 472.5,290.6 474.9,292 477.3,288.1 479.7,231 482.1,282 484.5,257.1 486.9,270.1 489.3,296.3 491.7,280.1 494.1,297.6 496.5,298.6 498.9,292.9 501.3,282.4 503.7,264.7 506.1,280 508.5,235.5 510.9,226.9 513.3,251 515.7,269 518.1,300 520.5,275.7 522.9,295.8 525.3,267.1 527.7,273.2 530.1,236.8 532.5,198.1 534.9,197.6 537.3,242.8 539.7,260.3 542.1,286 544.5,295 546.9,282.3 549.3,281.3 551.7,226.1 554.1,235.7 556.5,241 558.9,273.1 561.3,254.6 563.7,277.4 566.1,283 568.5,293 570.9,288.3 573.3,294.4 575.7,298.3 578.1,276.5 580.5,280.5 582.9,287.3 585.3,275.4 587.7,291.3 590.1,270.4 592.5,291.3 594.9,283.2 597.3,279.7 599.7,291.4 602.1,284.8 604.5,297.1 606.9,299.2 609.3,287.9 611.7,262.5 614.1,295.7 616.5,281.9 618.9,293.1 621.3,301.7 623.7,273.1 626.1,273.8 628.5,272.3 630.9,283.6 633.3,274 635.7,269.7 638.1,220.9 640.5,262.1 642.9,219.1 645.3,261 647.7,274.1 650.1,294.8 652.5,277 654.9,284.4 657.3,276.5 659.7,266.7 662.1,280.7 664.5,291.2 666.9,293.4 669.3,286.4 669.9,230.9 669.9,309 425.3,309" fill="#00C08B" stroke="#00C08B" stroke-width="2.3" stroke-linejoin="round"/>
<polygon points="425.3,260.7 427.3,277.8 429.7,247.3 432.1,242.6 434.5,281.2 436.9,277.4 439.3,302.7 441.7,283.3 444.1,301.1 446.5,286.6 448.9,292.9 451.3,288.5 453.7,294.3 456.1,290.9 458.5,296 460.9,271.6 463.3,283.1 465.7,293.2 468.1,293.3 470.5,297.1 472.9,275.9 475.3,242.1 477.7,231.4 480.1,275.6 482.5,270.3 484.9,277.1 487.3,287.5 489.7,301.1 492.1,287.8 494.5,301.4 496.9,302.6 499.3,289.6 501.7,273.4 504.1,244.5 506.5,237.1 508.9,266.1 511.3,286.5 513.7,249.7 516.1,294.2 518.5,296.9 520.9,301.8 523.3,295.5 525.7,263.5 528.1,278.2 530.5,237.8 532.9,213.7 535.3,238.8 537.7,207.7 540.1,259.1 542.5,231.9 544.9,271.2 547.3,267.5 549.7,292.8 552.1,283.3 554.5,263.3 556.9,192.6 559.3,281.1 561.7,278.3 564.1,254.5 566.5,263.9 568.9,298.8 571.3,297.2 573.7,293.5 576.1,295 578.5,295.6 580.9,281.7 583.3,297.8 585.7,300.2 588.1,300.7 590.5,278.5 592.9,296.1 595.3,291 597.7,274.3 600.1,279 602.5,288.4 604.9,263.8 607.3,276.4 609.7,272.4 612.1,288.4 614.5,281.8 616.9,296.8 619.3,299.9 621.7,297.2 624.1,282.7 626.5,294.1 628.9,273.5 631.3,238.2 633.7,245.6 636.1,273.1 638.5,225.2 640.9,277.4 643.3,288.3 645.7,289.9 648.1,272 650.5,284.9 652.9,286.4 655.3,251.9 657.7,277.7 660.1,213.8 662.5,269.8 664.9,242.3 667.3,282.7 669.9,235.7 669.9,309.4 425.3,309.4" fill="#00B8E7" stroke="#00B8E7" stroke-width="2.3" stroke-linejoin="round"/>
<polygon points="425.3,289.4 426.8,245.4 429.2,273.3 431.6,283.5 434,284.7 436.4,263.7 438.8,294.3 441.2,299.5 443.6,298.8 446,286.8 448.4,290.7 450.8,275.7 453.2,285.2 455.6,256.8 458,257.2 460.4,251 462.8,290.2 465.2,294.7 467.6,295.9 470,276.4 472.4,298.4 474.8,281.8 477.2,268 479.6,262.3 482,256.5 484.4,291.8 486.8,283.2 489.2,286.2 491.6,294.1 494,302.7 496.4,301 498.8,283.9 501.2,268.3 503.6,250.5 506,254.1 508.4,295 510.8,279.7 513.2,288 515.6,303.2 518,298.9 520.4,305 522.8,295.9 525.2,278.9 527.6,278.5 530,175.1 532.4,182 534.8,248.8 537.2,265 539.6,253.1 542,266.8 544.4,286 546.8,292.2 549.2,285.6 551.6,270.8 554,218.6 556.4,233.3 558.8,219.6 561.2,234.2 563.6,227.1 566,284.6 568.4,302.5 570.8,281 573.2,289.3 575.6,300.6 578,286.8 580.4,297.8 582.8,282.3 585.2,293.4 587.6,291 590,270.3 592.4,282.6 594.8,288.6 597.2,289.4 599.6,300.3 602,283.5 604.4,273.2 606.8,298.3 609.2,280.7 611.6,273.7 614,266.3 616.4,264.6 618.8,282.8 621.2,267.8 623.6,274.2 626,285.1 628.4,278.9 630.8,228.9 633.2,277.3 635.6,261.4 638,209.6 640.4,218.2 642.8,286 645.2,278.8 647.6,296.7 650,293.4 652.4,278.5 654.8,289.2 657.2,272.3 659.6,278.4 662,284.8 664.4,290.1 666.8,287.7 669.2,268.6 669.9,258.7 669.9,309.3 425.3,309.3" fill="#C77CFF" stroke="#C77CFF" stroke-width="2.3" stroke-linejoin="round"/>
<polygon points="425.3,276.1 426.9,276 429.3,279.9 431.7,286.7 434.1,262.1 436.5,273.9 438.9,282.1 441.3,303.7 443.7,287.7 446.1,280.8 448.5,280.6 450.9,294.1 453.3,223.5 455.7,230 458.1,281.6 460.5,274.5 462.9,281.5 465.3,283.3 467.7,297.2 470.1,292 472.5,279.1 474.9,273 477.3,280 479.7,267.1 482.1,291.8 484.5,251.2 486.9,294.3 489.3,298 491.7,294.1 494.1,304.6 496.5,292.5 498.9,303.8 501.3,302 503.7,290.8 506.1,260 508.5,289.6 510.9,289.7 513.3,279.5 515.7,289.2 518.1,287.4 520.5,304.8 522.9,296.6 525.3,258 527.7,281 530.1,253.3 532.5,196.4 534.9,196.6 537.3,229.4 539.7,260 542.1,219.6 544.5,261.4 546.9,278.4 549.3,263.5 551.7,227.5 554.1,207.8 556.5,266.1 558.9,275.1 561.3,257.2 563.7,295.4 566.1,289.3 568.5,286.6 570.9,296.8 573.3,304.1 575.7,284.6 578.1,286.1 580.5,294.8 582.9,275.7 585.3,282.4 587.7,290.6 590.1,269.4 592.5,288.4 594.9,291.4 597.3,289.7 599.7,287.1 602.1,280 604.5,276.2 606.9,285.8 609.3,268.6 611.7,256.7 614.1,233 616.5,261 618.9,295.6 621.3,287.2 623.7,277.1 626.1,300.2 628.5,295.4 630.9,288.8 633.3,277.4 635.7,276.4 638.1,283.4 640.5,282.1 642.9,250.4 645.3,292.6 647.7,276.4 650.1,273.3 652.5,283 654.9,277.4 657.3,229.5 659.7,235.9 662.1,240.9 664.5,269.1 666.9,271.5 669.3,268.7 669.9,278.2 669.9,309 425.3,309" fill="#E76BF3" stroke="#E76BF3" stroke-width="2.3" stroke-linejoin="round"/>
<path d="M591.5 308.6V240.8" stroke="#F8766D" stroke-width="2.6" stroke-linecap="round" fill="none"/>
<path d="M627.8 308.6V253.3" stroke="#F8766D" stroke-width="2.6" stroke-linecap="round" fill="none"/>
<path d="M426 308.6V175.8" stroke="#F07F4A" stroke-width="2.6" stroke-linecap="round" fill="none"/>
<path d="M535.2 308.6V138.8" stroke="#F07F4A" stroke-width="2.6" stroke-linecap="round" fill="none"/>
<path d="M582.2 308.6V198.8" stroke="#F07F4A" stroke-width="2.6" stroke-linecap="round" fill="none"/>
<path d="M464.5 308.6V243.8" stroke="#E58700" stroke-width="2.6" stroke-linecap="round" fill="none"/>
<path d="M472.8 308.6V273.8" stroke="#E58700" stroke-width="2.6" stroke-linecap="round" fill="none"/>
<path d="M490.2 308.6V251.3" stroke="#E58700" stroke-width="2.6" stroke-linecap="round" fill="none"/>
<path d="M524 308.6V263.8" stroke="#E58700" stroke-width="2.6" stroke-linecap="round" fill="none"/>
<path d="M557.2 308.6V161.8" stroke="#E58700" stroke-width="2.6" stroke-linecap="round" fill="none"/>
<path d="M583.2 308.6V221.3" stroke="#E58700" stroke-width="2.6" stroke-linecap="round" fill="none"/>
<path d="M599.5 308.6V253.8" stroke="#E58700" stroke-width="2.6" stroke-linecap="round" fill="none"/>
<path d="M481.5 308.6V175.8" stroke="#DE8C00" stroke-width="2.6" stroke-linecap="round" fill="none"/>
<path d="M426 308.6V207.6" stroke="#CD9600" stroke-width="2.6" stroke-linecap="round" fill="none"/>
<path d="M541.5 308.6V180.1" stroke="#CD9600" stroke-width="2.6" stroke-linecap="round" fill="none"/>
<path d="M566.5 308.6V258.8" stroke="#CD9600" stroke-width="2.6" stroke-linecap="round" fill="none"/>
<path d="M537.2 308.6V136.3" stroke="#B79F00" stroke-width="2.6" stroke-linecap="round" fill="none"/>
<path d="M603.5 308.6V173.8" stroke="#B79F00" stroke-width="2.6" stroke-linecap="round" fill="none"/>
<path d="M609.5 308.6V245.8" stroke="#B79F00" stroke-width="2.6" stroke-linecap="round" fill="none"/>
<path d="M635.8 308.6V153.1" stroke="#B79F00" stroke-width="2.6" stroke-linecap="round" fill="none"/>
<path d="M447.8 308.6V202.6" stroke="#93AA00" stroke-width="2.6" stroke-linecap="round" fill="none"/>
<path d="M454.5 308.6V231.3" stroke="#93AA00" stroke-width="2.6" stroke-linecap="round" fill="none"/>
<path d="M530.2 308.6V153.8" stroke="#93AA00" stroke-width="2.6" stroke-linecap="round" fill="none"/>
<path d="M549.8 308.6V167.6" stroke="#93AA00" stroke-width="2.6" stroke-linecap="round" fill="none"/>
<path d="M574 308.6V276.3" stroke="#93AA00" stroke-width="2.6" stroke-linecap="round" fill="none"/>
<path d="M532.2 308.6V119.3" stroke="#6BB100" stroke-width="2.6" stroke-linecap="round" fill="none"/>
<path d="M554.8 308.6V161.8" stroke="#6BB100" stroke-width="2.6" stroke-linecap="round" fill="none"/>
<path d="M641 308.6V152.6" stroke="#6BB100" stroke-width="2.6" stroke-linecap="round" fill="none"/>
<path d="M669.5 308.6V233.3" stroke="#6BB100" stroke-width="2.6" stroke-linecap="round" fill="none"/>
<path d="M457 308.6V231.3" stroke="#39B600" stroke-width="2.6" stroke-linecap="round" fill="none"/>
<path d="M520.2 308.6V256.3" stroke="#39B600" stroke-width="2.6" stroke-linecap="round" fill="none"/>
<path d="M431 308.6V192.6" stroke="#00BA38" stroke-width="2.6" stroke-linecap="round" fill="none"/>
<path d="M459.5 308.6V223.8" stroke="#00BA38" stroke-width="2.6" stroke-linecap="round" fill="none"/>
<path d="M468.5 308.6V253.8" stroke="#00BA38" stroke-width="2.6" stroke-linecap="round" fill="none"/>
<path d="M492.8 308.6V240.1" stroke="#00BA38" stroke-width="2.6" stroke-linecap="round" fill="none"/>
<path d="M499.5 308.6V234.3" stroke="#00BA38" stroke-width="2.6" stroke-linecap="round" fill="none"/>
<path d="M545.8 308.6V181.8" stroke="#00BA38" stroke-width="2.6" stroke-linecap="round" fill="none"/>
<path d="M577.8 308.6V272.6" stroke="#00BA38" stroke-width="2.6" stroke-linecap="round" fill="none"/>
<path d="M585.2 308.6V231.3" stroke="#00BA38" stroke-width="2.6" stroke-linecap="round" fill="none"/>
<path d="M614.5 308.6V182.6" stroke="#00BA38" stroke-width="2.6" stroke-linecap="round" fill="none"/>
<path d="M619.5 308.6V252.6" stroke="#00BA38" stroke-width="2.6" stroke-linecap="round" fill="none"/>
<path d="M645.2 308.6V194.3" stroke="#00BA38" stroke-width="2.6" stroke-linecap="round" fill="none"/>
<path d="M647.8 308.6V251.3" stroke="#00BA38" stroke-width="2.6" stroke-linecap="round" fill="none"/>
<path d="M665.8 308.6V227.6" stroke="#00BA38" stroke-width="2.6" stroke-linecap="round" fill="none"/>
<path d="M544 308.6V216.3" stroke="#00BA38" stroke-width="2.6" stroke-linecap="round" fill="none"/>
<path d="M547.8 308.6V201.3" stroke="#00BA38" stroke-width="2.6" stroke-linecap="round" fill="none"/>
<path d="M552 308.6V191.3" stroke="#00BA38" stroke-width="2.6" stroke-linecap="round" fill="none"/>
<path d="M559 308.6V171.3" stroke="#00BA38" stroke-width="2.6" stroke-linecap="round" fill="none"/>
<path d="M482.8 308.6V216.3" stroke="#00C08B" stroke-width="2.6" stroke-linecap="round" fill="none"/>
<path d="M561 308.6V205.1" stroke="#00C08B" stroke-width="2.6" stroke-linecap="round" fill="none"/>
<path d="M633.2 308.6V207.6" stroke="#00C08B" stroke-width="2.6" stroke-linecap="round" fill="none"/>
<path d="M654.5 308.6V214.6" stroke="#00C08B" stroke-width="2.6" stroke-linecap="round" fill="none"/>
<path d="M528.5 308.6V171.3" stroke="#00C08B" stroke-width="2.6" stroke-linecap="round" fill="none"/>
<path d="M661.5 308.6V179.6" stroke="#00C1A3" stroke-width="2.6" stroke-linecap="round" fill="none"/>
<path d="M429.5 308.6V218.8" stroke="#00B8E7" stroke-width="2.6" stroke-linecap="round" fill="none"/>
<path d="M497.8 308.6V268.8" stroke="#00B8E7" stroke-width="2.6" stroke-linecap="round" fill="none"/>
<path d="M509 308.6V193.8" stroke="#00B8E7" stroke-width="2.6" stroke-linecap="round" fill="none"/>
<path d="M604 308.6V249.3" stroke="#00B8E7" stroke-width="2.6" stroke-linecap="round" fill="none"/>
<path d="M631.5 308.6V210.1" stroke="#00B8E7" stroke-width="2.6" stroke-linecap="round" fill="none"/>
<path d="M531.5 308.6V158.8" stroke="#00B8E7" stroke-width="2.6" stroke-linecap="round" fill="none"/>
<path d="M634.8 308.6V201.3" stroke="#8494FF" stroke-width="2.6" stroke-linecap="round" fill="none"/>
<path d="M510.2 308.6V197.6" stroke="#C77CFF" stroke-width="2.6" stroke-linecap="round" fill="none"/>
<path d="M563.5 308.6V193.8" stroke="#C77CFF" stroke-width="2.6" stroke-linecap="round" fill="none"/>
<path d="M434 308.6V185.1" stroke="#E76BF3" stroke-width="2.6" stroke-linecap="round" fill="none"/>
<path d="M486.5 308.6V220.1" stroke="#E76BF3" stroke-width="2.6" stroke-linecap="round" fill="none"/>
<polygon points="425.3,269.4 426.5,264.5 428.9,251.4 430.2,242.5 431.3,271.1 434,242.5 436.1,278.4 438.5,295 440.9,298.7 443.3,298.3 445.7,300.7 448.1,293.8 450.5,293.3 452.9,289.2 455.3,282.8 456.5,255 457.7,280.5 460.1,286.1 462.5,296.1 464.9,300.6 467.3,301.2 469.7,300.1 472.1,292.5 474.5,293.4 476.9,283.3 478.5,235 479,188.8 479.8,235 481.7,279.6 484.1,267.6 486.5,252.1 488.9,293.9 491.3,298.7 493.7,301.1 496.1,299.2 498.5,297.5 500.9,288.1 503.3,288.6 505.7,266.4 507.8,255 510.5,289.3 512.9,268.8 515.3,293.8 517.7,303.1 520.1,302.5 522.5,288.2 524.9,275.5 527.3,270 529.7,238.2 532.1,212 534,148.8 536.9,249.9 539.3,235 541.7,277.2 544.1,288.4 546.5,298.5 548.9,279.9 551.3,251.6 554,182.5 556.1,260 558.5,266.6 560.9,283.6 563.3,286.5 565.7,292.9 568.1,300.8 570.5,302 572.9,299.4 575.3,299.1 577.7,288.8 580.1,295.3 582.5,280.7 584.9,287.9 587.3,289.2 589.7,277.5 591.5,255 594.5,300.6 596.9,303.1 599.3,296.4 601.7,286.4 604.1,293.2 606.5,291.1 608.9,287.4 611.5,262.5 613.7,278.8 616.1,289 618.5,295.1 620.9,287 623.3,291.3 625.7,294.2 628.1,268.2 630.5,264.9 632.9,274.2 635.3,258.7 638.2,230 639,200 639.8,235 642.5,279.9 644.9,290.7 647.3,292.8 649.7,294.8 652.1,292 654.5,264.7 656.9,281.6 658.2,235 659,211.2 659.8,235 661.7,246.6 662.8,235 664.1,262.6 666.5,287.6 668.9,273.2 669.9,280.8 670.2,247.5 670.2,308.6 667.3,308.4 664.3,310.2 661.3,308.3 658.3,308.6 655.3,308.5 652.3,308.5 649.3,308.9 646.4,308.6 643.4,308.5 640.4,308.8 637.4,309.9 634.4,308.5 631.4,308.6 628.4,309.9 625.4,308.4 622.5,308.3 619.5,309.7 616.5,308.4 613.5,308.4 610.5,309.7 607.5,310.1 604.5,308.8 601.6,308.6 598.6,308.4 595.6,308.6 592.6,310.1 589.6,308.5 586.6,311.8 583.6,308.7 580.6,308.3 577.7,311.4 574.7,311.7 571.7,308.4 568.7,309.8 565.7,308.7 562.7,308.5 559.7,308.6 556.8,308.5 553.8,310.3 550.8,308.7 547.8,309.8 544.8,309.9 541.8,308.3 538.8,308.7 535.8,311.6 532.9,308.6 529.9,308.8 526.9,308.5 523.9,308.9 520.9,308.8 517.9,308.4 514.9,309.9 512,308.3 509,308.8 506,308.3 503,308.5 500,308.6 497,308.5 494,308.9 491,308.7 488.1,308.5 485.1,310.2 482.1,308.8 479.1,308.9 476.1,308.5 473.1,308.5 470.1,308.4 467.2,308.6 464.2,310.3 461.2,311.9 458.2,308.4 455.2,308.6 452.2,308.7 449.2,308.9 446.2,311.8 443.3,309.9 440.3,310.2 437.3,308.7 434.3,310.1 431.3,308.4 428.3,308.7 425.3,310.1" fill="#FF68A1" stroke="#FF68A1" stroke-width="2.5" stroke-linejoin="round"/>
<polygon points="748.7,239.4 749.4,286.8 751.8,270.5 754.2,219.6 756.6,270 759,272.6 761.4,254.2 763.8,260.1 766.2,282.7 768.6,219.6 771,255.5 773.4,201.6 775.8,251.3 778.2,152 780.6,249.4 783,154.5 785.4,212.8 787.8,153.1 790.2,217.9 792.6,236.5 795,248.7 797.4,231.8 799.8,259.4 802.2,277.8 804.6,218.3 807,211.1 809.4,236.4 811.8,242.4 814.2,275.1 816.6,292.7 819,292.6 821.4,286.8 823.8,263.2 826.2,282 828.6,256.7 831,274.6 833.4,281.6 835.8,290.4 838.2,294.3 840.6,290.8 843,284.3 845.4,287.9 847.8,279.5 850.2,271.8 852.6,268.9 855,266.5 857.4,282 859.8,214.5 862.2,275.4 864.6,257.4 867,279 869.4,295.4 871.8,254.2 874.2,215 876.6,269.2 879,243 881.4,257.4 883.8,280 886.2,280.5 888.6,275.4 891,290.1 893.4,286.3 895.8,297.9 898.2,295.6 900.6,287.1 903,288.2 905.4,251.8 907.8,274.1 910.2,280.3 912.6,261.7 915,266.4 917.4,297.9 919.8,290.9 922.2,293.4 924.6,252 927,276.3 929.4,245.3 931.8,297.4 934.2,301.8 936.6,297.4 939,304 941.4,291.2 943.8,300.1 946.2,299.2 948.6,284.9 951,273.3 953.4,233.8 955.8,205.5 958.2,251.5 960.6,239.9 963,284.6 965.4,293.9 967.8,283.2 970.2,249.3 972.6,289.1 975,274.9 977.4,282.5 979.8,251.5 982.2,199.3 984.6,245.5 987,226 989.4,282.8 991.8,276.9 993.2,273.7 993.2,310.8 748.7,310.8" fill="#F8766D" stroke="#F8766D" stroke-width="2.3" stroke-linejoin="round"/>
<polygon points="748.7,236.3 749.3,263.7 751.7,247.3 754.1,273.8 756.5,224.9 758.9,270.2 761.3,288.2 763.7,282.8 766.1,260.2 768.5,238.3 770.9,232.9 773.3,269.6 775.7,175.9 778.1,197 780.5,269.4 782.9,260.4 785.3,243.5 787.7,285.3 790.1,294.4 792.5,285.8 794.9,253.6 797.3,253.4 799.7,267.5 802.1,210.8 804.5,223.4 806.9,207.5 809.3,244.3 811.7,217 814.1,274.6 816.5,283.9 818.9,289 821.3,289.2 823.7,292.2 826.1,276.6 828.5,286.1 830.9,285.4 833.3,279.6 835.7,278.2 838.1,290.2 840.5,290.9 842.9,284.8 845.3,279.9 847.7,277.4 850.1,260 852.5,284.3 854.9,258.2 857.3,263.5 859.7,232.6 862.1,231.3 864.5,257 866.9,275.3 869.3,291.4 871.7,214 874.1,262.4 876.5,270.7 878.9,262.9 881.3,250.8 883.7,234.2 886.1,239 888.5,282.7 890.9,268.4 893.3,299.2 895.7,298.1 898.1,303.7 900.5,293.3 902.9,281.3 905.3,265.3 907.7,277.6 910.1,296.1 912.5,282.7 914.9,265.2 917.3,282.3 919.7,275.2 922.1,281.7 924.5,252.5 926.9,283.2 929.3,280.4 931.7,276.8 934.1,296.5 936.5,275.2 938.9,296.7 941.3,299.7 943.7,298.6 946.1,297.4 948.5,300.6 950.9,282.8 953.3,286 955.7,218.2 958.1,246.7 960.5,264.3 962.9,275.5 965.3,288.1 967.7,272.8 970.1,273.7 972.5,259.9 974.9,278.8 977.3,253.8 979.7,279.6 982.1,270.1 984.5,274.8 986.9,215.3 989.3,268.1 991.7,278.3 993.2,273.2 993.2,311 748.7,311" fill="#E58700" stroke="#E58700" stroke-width="2.3" stroke-linejoin="round"/>
<polygon points="748.7,284.2 749.5,275.2 751.9,250 754.3,274.8 756.7,265.3 759.1,233.8 761.5,258.5 763.9,270.5 766.3,264.9 768.7,273.3 771.1,269.4 773.5,247.7 775.9,179 778.3,211.7 780.7,177.1 783.1,241.7 785.5,242.5 787.9,163.9 790.3,231.7 792.7,257 795.1,288.3 797.5,282 799.9,284.3 802.3,220.8 804.7,196.4 807.1,217.7 809.5,273.3 811.9,240.1 814.3,292.6 816.7,280.6 819.1,298.8 821.5,304.5 823.9,265.2 826.3,289.5 828.7,277.7 831.1,280.9 833.5,280.6 835.9,257.6 838.3,285.8 840.7,247.6 843.1,286.8 845.5,292.3 847.9,274.6 850.3,288.5 852.7,273.7 855.1,246.5 857.5,279.5 859.9,279.9 862.3,280.1 864.7,281.5 867.1,256.4 869.5,245 871.9,251.8 874.3,267.1 876.7,290.4 879.1,255.1 881.5,277.8 883.9,223.7 886.3,240.3 888.7,260.1 891.1,286.4 893.5,285.7 895.9,272.5 898.3,292.9 900.7,277.2 903.1,263.4 905.5,280.4 907.9,256.4 910.3,280.8 912.7,259.7 915.1,285.2 917.5,299.5 919.9,285.3 922.3,297.9 924.7,286.8 927.1,273.8 929.5,287.8 931.9,275.8 934.3,284.1 936.7,292.7 939.1,303 941.5,295.4 943.9,302.8 946.3,299 948.7,296.3 951.1,293.4 953.5,264.1 955.9,237 958.3,242 960.7,279 963.1,281 965.5,285.1 967.9,250.6 970.3,265.8 972.7,285 975.1,283.1 977.5,275.3 979.9,237.8 982.3,264 984.7,263.1 987.1,236.4 989.5,276.7 991.9,253.9 993.2,280.9 993.2,311.3 748.7,311.3" fill="#CD9600" stroke="#CD9600" stroke-width="2.3" stroke-linejoin="round"/>
<polygon points="748.7,233.3 749.7,284.2 752.1,205.4 754.5,278.1 756.9,227.5 759.3,256.5 761.7,277.7 764.1,270.2 766.5,272.2 768.9,275.5 771.3,272.9 773.7,246.6 776.1,264.8 778.5,163 780.9,235.7 783.3,232.3 785.7,255.1 788.1,156.1 790.5,264.3 792.9,249.2 795.3,264.6 797.7,290.8 800.1,257.8 802.5,284.6 804.9,284.3 807.3,271.3 809.7,260.4 812.1,232.4 814.5,287.6 816.9,281.1 819.3,276.6 821.7,295.3 824.1,299.5 826.5,292.3 828.9,289.2 831.3,254.9 833.7,232.6 836.1,271.3 838.5,264.4 840.9,263.7 843.3,291.6 845.7,263.6 848.1,234.5 850.5,273.2 852.9,259.2 855.3,244.1 857.7,283.8 860.1,251.6 862.5,295.9 864.9,284.7 867.3,282.4 869.7,294.9 872.1,272.1 874.5,277.5 876.9,254.3 879.3,273.7 881.7,271 884.1,277.2 886.5,294.5 888.9,296.3 891.3,299.6 893.7,281.5 896.1,299.1 898.5,290.8 900.9,283.7 903.3,290.9 905.7,276.5 908.1,253 910.5,281.2 912.9,268.4 915.3,300.5 917.7,292.2 920.1,300.5 922.5,290.4 924.9,270.3 927.3,293.4 929.7,281.3 932.1,271.5 934.5,289.2 936.9,274.6 939.3,302.9 941.7,303.6 944.1,306.1 946.5,303.9 948.9,294.3 951.3,289.9 953.7,290.2 956.1,283.7 958.5,258.8 960.9,275.4 963.3,243.2 965.7,262 968.1,273.4 970.5,287.8 972.9,265.1 975.3,277 977.7,221.7 980.1,265.3 982.5,256.8 984.9,224.2 987.3,269.9 989.7,207.5 992.1,216 993.2,206.7 993.2,310.7 748.7,310.7" fill="#A3A500" stroke="#A3A500" stroke-width="2.3" stroke-linejoin="round"/>
<polygon points="748.7,283 750.4,213.8 752.8,271.1 755.2,278.5 757.6,252.8 760,275.7 762.4,249.2 764.8,274.9 767.2,235.7 769.6,268.1 772,199.5 774.4,200.4 776.8,211.6 779.2,251 781.6,241.9 784,223.2 786.4,241.2 788.8,218.7 791.2,257 793.6,280.4 796,280.2 798.4,243.8 800.8,270.3 803.2,267.5 805.6,274.5 808,276.8 810.4,287.3 812.8,277.1 815.2,273.9 817.6,298.4 820,279.6 822.4,282.9 824.8,286.5 827.2,285.7 829.6,281.6 832,268.8 834.4,281.8 836.8,252.1 839.2,279.6 841.6,266 844,270.6 846.4,258.5 848.8,275.5 851.2,277.1 853.6,230.6 856,224.5 858.4,243 860.8,276.9 863.2,246.3 865.6,237.5 868,256.7 870.4,249.1 872.8,285.1 875.2,256.3 877.6,245.6 880,261.7 882.4,205.7 884.8,226.8 887.2,238.4 889.6,292.2 892,274.5 894.4,277.4 896.8,300.9 899.2,297.1 901.6,294.8 904,286.5 906.4,281.5 908.8,241.2 911.2,267.6 913.6,233.7 916,273.9 918.4,259.9 920.8,301 923.2,296.3 925.6,274.8 928,253 930.4,202.2 932.8,270.5 935.2,287.2 937.6,283.3 940,285.4 942.4,299.8 944.8,298.2 947.2,306.3 949.6,300.5 952,283.7 954.4,287.8 956.8,256.1 959.2,283.9 961.6,258.7 964,241.6 966.4,279.7 968.8,269 971.2,282 973.6,266.5 976,254.3 978.4,230.9 980.8,261.7 983.2,229.7 985.6,216.1 988,237 990.4,191.9 992.8,273.8 993.2,246.9 993.2,310.9 748.7,310.9" fill="#6BB100" stroke="#6BB100" stroke-width="2.3" stroke-linejoin="round"/>
<polygon points="748.7,224.9 750.1,256.7 752.5,227.7 754.9,272.4 757.3,250 759.7,265.7 762.1,279.3 764.5,290.8 766.9,275.1 769.3,272.3 771.7,287.7 774.1,191.9 776.5,254.5 778.9,236.2 781.3,227.7 783.7,214 786.1,167.7 788.5,182.7 790.9,270.7 793.3,283.2 795.7,295.9 798.1,292.7 800.5,241.5 802.9,242.3 805.3,253.2 807.7,193.9 810.1,260.4 812.5,278.6 814.9,291.6 817.3,297.7 819.7,284.6 822.1,285.5 824.5,278.8 826.9,279.7 829.3,283.9 831.7,279.5 834.1,267.5 836.5,269.9 838.9,253.9 841.3,286.9 843.7,289.5 846.1,300.3 848.5,287.8 850.9,283.5 853.3,241.9 855.7,215.5 858.1,272 860.5,232.2 862.9,256.6 865.3,251.8 867.7,274.9 870.1,279.8 872.5,278.4 874.9,254.8 877.3,248.6 879.7,257.2 882.1,216.3 884.5,245.3 886.9,286.5 889.3,296.5 891.7,289.6 894.1,274 896.5,286.6 898.9,304.3 901.3,280.5 903.7,296.7 906.1,273.2 908.5,261.6 910.9,285.6 913.3,271.4 915.7,287 918.1,294.7 920.5,295.2 922.9,269.1 925.3,274.8 927.7,241.7 930.1,264.6 932.5,248.2 934.9,281.4 937.3,284.6 939.7,292.4 942.1,299.1 944.5,286.3 946.9,276.5 949.3,285.5 951.7,291.8 954.1,273.2 956.5,286.8 958.9,264.6 961.3,273.8 963.7,222.3 966.1,273 968.5,253.9 970.9,236.7 973.3,255.2 975.7,253.1 978.1,255.6 980.5,265 982.9,212.8 985.3,270 987.7,233.3 990.1,266.8 992.5,261.6 993.2,280.4 993.2,310.7 748.7,310.7" fill="#39B600" stroke="#39B600" stroke-width="2.3" stroke-linejoin="round"/>
<polygon points="748.7,278 750.4,293.6 752.8,249.6 755.2,275 757.6,244.3 760,275.6 762.4,268 764.8,293.4 767.2,286.3 769.6,295.9 772,263.7 774.4,274.4 776.8,171.1 779.2,198.8 781.6,244.1 784,191.7 786.4,165 788.8,172.7 791.2,276.5 793.6,254 796,278.9 798.4,281.5 800.8,286 803.2,217.6 805.6,257 808,236.8 810.4,219.2 812.8,281.8 815.2,296.6 817.6,292 820,305.3 822.4,290.5 824.8,287.4 827.2,271.8 829.6,270.8 832,279.3 834.4,278.6 836.8,248.4 839.2,273.2 841.6,278.2 844,280.5 846.4,263.4 848.8,219.8 851.2,290.5 853.6,276.8 856,278.3 858.4,222.4 860.8,287.4 863.2,231.9 865.6,245.8 868,258.2 870.4,287.5 872.8,248 875.2,275.9 877.6,257.5 880,267.4 882.4,241.5 884.8,227.1 887.2,287.3 889.6,256.7 892,288.5 894.4,291.5 896.8,286.8 899.2,290.9 901.6,286.1 904,278.7 906.4,247.8 908.8,265.1 911.2,266.9 913.6,243.1 916,288.2 918.4,303.8 920.8,288.2 923.2,290.7 925.6,272.6 928,256 930.4,281.9 932.8,244.9 935.2,289.2 937.6,284.2 940,290.7 942.4,293 944.8,296.1 947.2,303.2 949.6,292.6 952,296.2 954.4,276.3 956.8,258.8 959.2,239.2 961.6,272.8 964,278.8 966.4,257.8 968.8,247.5 971.2,238.4 973.6,284.2 976,280.6 978.4,273.4 980.8,221.2 983.2,204.2 985.6,262.8 988,250.6 990.4,247.7 992.8,252.4 993.2,214.8 993.2,311.2 748.7,311.2" fill="#00BA38" stroke="#00BA38" stroke-width="2.3" stroke-linejoin="round"/>
<path d="M751.8 310.1V218.8" stroke="#F8766D" stroke-width="2.6" stroke-linecap="round" fill="none"/>
<path d="M754.2 310.1V199.3" stroke="#F8766D" stroke-width="2.6" stroke-linecap="round" fill="none"/>
<path d="M785 310.1V146.3" stroke="#F8766D" stroke-width="2.6" stroke-linecap="round" fill="none"/>
<path d="M792.2 310.1V203.8" stroke="#F8766D" stroke-width="2.6" stroke-linecap="round" fill="none"/>
<path d="M923.5 310.1V263.8" stroke="#F8766D" stroke-width="2.6" stroke-linecap="round" fill="none"/>
<path d="M975 310.1V238.8" stroke="#F8766D" stroke-width="2.6" stroke-linecap="round" fill="none"/>
<path d="M976.8 310.1V221.3" stroke="#F8766D" stroke-width="2.6" stroke-linecap="round" fill="none"/>
<path d="M918.8 310.1V195.8" stroke="#F07F4A" stroke-width="2.6" stroke-linecap="round" fill="none"/>
<path d="M934.5 310.1V145.8" stroke="#F07F4A" stroke-width="2.6" stroke-linecap="round" fill="none"/>
<path d="M748.8 310.1V218.8" stroke="#E58700" stroke-width="2.6" stroke-linecap="round" fill="none"/>
<path d="M762.2 310.1V203.8" stroke="#E58700" stroke-width="2.6" stroke-linecap="round" fill="none"/>
<path d="M771.8 310.1V187.6" stroke="#E58700" stroke-width="2.6" stroke-linecap="round" fill="none"/>
<path d="M774.2 310.1V152.6" stroke="#E58700" stroke-width="2.6" stroke-linecap="round" fill="none"/>
<path d="M788 310.1V157.6" stroke="#E58700" stroke-width="2.6" stroke-linecap="round" fill="none"/>
<path d="M804.8 310.1V177.8" stroke="#E58700" stroke-width="2.6" stroke-linecap="round" fill="none"/>
<path d="M818.5 310.1V253.8" stroke="#E58700" stroke-width="2.6" stroke-linecap="round" fill="none"/>
<path d="M821.8 310.1V273.8" stroke="#E58700" stroke-width="2.6" stroke-linecap="round" fill="none"/>
<path d="M828 310.1V216.3" stroke="#E58700" stroke-width="2.6" stroke-linecap="round" fill="none"/>
<path d="M842.2 310.1V220.1" stroke="#E58700" stroke-width="2.6" stroke-linecap="round" fill="none"/>
<path d="M845 310.1V231.3" stroke="#E58700" stroke-width="2.6" stroke-linecap="round" fill="none"/>
<path d="M906.8 310.1V231.3" stroke="#E58700" stroke-width="2.6" stroke-linecap="round" fill="none"/>
<path d="M909.2 310.1V240.1" stroke="#E58700" stroke-width="2.6" stroke-linecap="round" fill="none"/>
<path d="M958.8 310.1V190.1" stroke="#E58700" stroke-width="2.6" stroke-linecap="round" fill="none"/>
<path d="M869.2 310.1V206.3" stroke="#DE8C00" stroke-width="2.6" stroke-linecap="round" fill="none"/>
<path d="M807.2 310.1V198.8" stroke="#CD9600" stroke-width="2.6" stroke-linecap="round" fill="none"/>
<path d="M833 310.1V251.3" stroke="#CD9600" stroke-width="2.6" stroke-linecap="round" fill="none"/>
<path d="M837.5 310.1V191.3" stroke="#CD9600" stroke-width="2.6" stroke-linecap="round" fill="none"/>
<path d="M847.5 310.1V216.3" stroke="#CD9600" stroke-width="2.6" stroke-linecap="round" fill="none"/>
<path d="M851.8 310.1V236.3" stroke="#CD9600" stroke-width="2.6" stroke-linecap="round" fill="none"/>
<path d="M854.2 310.1V208.8" stroke="#CD9600" stroke-width="2.6" stroke-linecap="round" fill="none"/>
<path d="M877.5 310.1V211.3" stroke="#CD9600" stroke-width="2.6" stroke-linecap="round" fill="none"/>
<path d="M890 310.1V195.6" stroke="#CD9600" stroke-width="2.6" stroke-linecap="round" fill="none"/>
<path d="M893 310.1V246.3" stroke="#CD9600" stroke-width="2.6" stroke-linecap="round" fill="none"/>
<path d="M911.8 310.1V215.8" stroke="#CD9600" stroke-width="2.6" stroke-linecap="round" fill="none"/>
<path d="M921 310.1V246.3" stroke="#CD9600" stroke-width="2.6" stroke-linecap="round" fill="none"/>
<path d="M945.5 310.1V276.3" stroke="#CD9600" stroke-width="2.6" stroke-linecap="round" fill="none"/>
<path d="M950.5 310.1V277.6" stroke="#CD9600" stroke-width="2.6" stroke-linecap="round" fill="none"/>
<path d="M939.2 310.1V248.8" stroke="#B79F00" stroke-width="2.6" stroke-linecap="round" fill="none"/>
<path d="M764.8 310.1V216.3" stroke="#A3A500" stroke-width="2.6" stroke-linecap="round" fill="none"/>
<path d="M861 310.1V223.8" stroke="#A3A500" stroke-width="2.6" stroke-linecap="round" fill="none"/>
<path d="M865 310.1V221.3" stroke="#A3A500" stroke-width="2.6" stroke-linecap="round" fill="none"/>
<path d="M881.5 310.1V132.6" stroke="#A3A500" stroke-width="2.6" stroke-linecap="round" fill="none"/>
<path d="M936.8 310.1V246.3" stroke="#A3A500" stroke-width="2.6" stroke-linecap="round" fill="none"/>
<path d="M941.8 310.1V256.3" stroke="#A3A500" stroke-width="2.6" stroke-linecap="round" fill="none"/>
<path d="M778 310.1V118.8" stroke="#93AA00" stroke-width="2.6" stroke-linecap="round" fill="none"/>
<path d="M871.8 310.1V163.8" stroke="#93AA00" stroke-width="2.6" stroke-linecap="round" fill="none"/>
<path d="M873.8 310.1V160.1" stroke="#93AA00" stroke-width="2.6" stroke-linecap="round" fill="none"/>
<path d="M961.8 310.1V186.3" stroke="#93AA00" stroke-width="2.6" stroke-linecap="round" fill="none"/>
<path d="M970.5 310.1V211.3" stroke="#93AA00" stroke-width="2.6" stroke-linecap="round" fill="none"/>
<path d="M757.2 310.1V200.8" stroke="#6BB100" stroke-width="2.6" stroke-linecap="round" fill="none"/>
<path d="M780.5 310.1V126.3" stroke="#6BB100" stroke-width="2.6" stroke-linecap="round" fill="none"/>
<path d="M810.5 310.1V210.1" stroke="#6BB100" stroke-width="2.6" stroke-linecap="round" fill="none"/>
<path d="M963.5 310.1V181.3" stroke="#6BB100" stroke-width="2.6" stroke-linecap="round" fill="none"/>
<path d="M968 310.1V160.1" stroke="#6BB100" stroke-width="2.6" stroke-linecap="round" fill="none"/>
<path d="M782.5 310.1V119.5" stroke="#39B600" stroke-width="2.6" stroke-linecap="round" fill="none"/>
<path d="M858 310.1V185.1" stroke="#39B600" stroke-width="2.6" stroke-linecap="round" fill="none"/>
<path d="M880.5 310.1V170.1" stroke="#39B600" stroke-width="2.6" stroke-linecap="round" fill="none"/>
<path d="M883.8 310.1V182.6" stroke="#39B600" stroke-width="2.6" stroke-linecap="round" fill="none"/>
<path d="M903.8 310.1V260.1" stroke="#39B600" stroke-width="2.6" stroke-linecap="round" fill="none"/>
<path d="M965.5 310.1V177.6" stroke="#39B600" stroke-width="2.6" stroke-linecap="round" fill="none"/>
<path d="M795.5 310.1V248.8" stroke="#00BA38" stroke-width="2.6" stroke-linecap="round" fill="none"/>
<path d="M988.5 310.1V221.3" stroke="#00BA38" stroke-width="2.6" stroke-linecap="round" fill="none"/>
<path d="M993 310.1V232.6" stroke="#00BA38" stroke-width="2.6" stroke-linecap="round" fill="none"/>
<polygon points="748.7,273.1 749.7,274 752.1,247.4 754.5,227.1 755.5,212.5 756.9,259.5 758,212.5 759.3,224.8 761.7,272.2 764.1,245.1 766.5,276.9 768.9,265.9 771.3,262.9 773.7,255.3 776.1,250.1 778.5,166.7 780.9,227.8 781.8,138.8 783.3,198.6 785.7,229.9 788.1,225.7 790.5,270.9 792.9,278.7 795.3,283.9 797.7,275.1 799.8,235 800.5,200 801.2,230 802.5,276.4 804.9,243.6 806.8,207.5 809.7,277.3 812.1,283.1 814.5,293.3 816.9,288.8 819.3,298.7 821.7,301.8 824.8,270 825.5,205 826.2,270 828.9,290.6 831.3,285.6 833.7,267.9 835.5,255 838.5,275.5 840.9,271.2 843.3,282.8 845.7,290.4 848.1,287.9 850.5,284.4 852.9,280.1 855.3,263.2 856.8,220 857.7,239.8 860.1,262.7 862.5,275.1 864.9,285.4 867.3,270.9 869.7,270.5 871.8,235 874.5,285.7 876.9,240.2 879.3,265.5 880.5,195 881.7,221.4 884.1,275.7 886.5,271.3 888.9,290.2 891.3,281.4 893.5,270 894.2,248.8 895,275 896.1,298.7 898.5,302.7 900.9,286.6 903.3,270.5 905.7,280.2 908.1,275.5 910.5,285.6 913.5,251.2 915.3,291.6 917.7,282.9 920.1,299.2 922.5,291.3 924.9,289.6 927.3,284.4 930,220 932.1,258.6 934.5,295.8 936.9,301.8 939.3,300.3 941.7,303.2 944.1,303.1 946.5,303.8 948.9,287.9 951.3,294.7 953.7,287.8 954.8,250 955.5,221.2 956.2,250 958.5,275.9 960.9,272.6 963.3,262 965.7,246.7 966.8,220 968.1,239.6 970.5,277.4 972.9,293.5 975.3,268.8 977.2,220 978,178.8 978.8,207.5 980.5,202.5 982.2,205 983,179.2 983.8,210 984.9,257.1 987.3,250.2 989.8,230 990.5,202 991.2,230 992.1,273.6 993.2,243.6 993.2,309.9 990.2,310.3 987.2,309.9 984.3,310 981.3,311.3 978.3,309.9 975.3,310.1 972.3,310 969.3,309.9 966.4,310.4 963.4,310.4 960.4,310.1 957.4,310.1 954.4,311.4 951.5,313.3 948.5,310 945.5,309.9 942.5,310.3 939.5,310.3 936.5,309.9 933.6,310.2 930.6,310 927.6,311.7 924.6,310.3 921.6,310 918.7,310.2 915.7,310 912.7,310 909.7,310.3 906.7,310 903.7,311.7 900.8,310 897.8,312.9 894.8,309.8 891.8,310.1 888.8,310.1 885.9,310.1 882.9,313.4 879.9,311.3 876.9,310.2 873.9,310.2 870.9,309.8 868,312.9 865,309.9 862,310.3 859,311.5 856,310.2 853.1,310.1 850.1,311.8 847.1,310.2 844.1,310.2 841.1,310.3 838.1,310.3 835.2,310.1 832.2,310.3 829.2,310.4 826.2,313.3 823.2,310.1 820.3,309.9 817.3,310.2 814.3,310 811.3,310.2 808.3,312.9 805.3,313.1 802.4,310 799.4,309.8 796.4,310.3 793.4,310.1 790.4,310.2 787.5,310.4 784.5,310.2 781.5,309.8 778.5,309.8 775.5,311.4 772.5,311.5 769.6,310.3 766.6,309.9 763.6,311.2 760.6,311.2 757.6,310 754.7,310.1 751.7,310 748.7,310.2" fill="#00C08B" stroke="#00C08B" stroke-width="2.5" stroke-linejoin="round"/>
<polygon points="1072,288.3 1073.8,244.2 1076.2,261.9 1078.6,239.9 1081,289.9 1083.4,301.5 1085.8,292.4 1088.2,304 1090.6,302.8 1093,292.3 1095.4,277.5 1097.8,270.5 1100.2,259.9 1102.6,246.1 1105,276.3 1107.4,230.4 1109.8,295.4 1112.2,285.7 1114.6,267.3 1117,300.9 1119.4,274.8 1121.8,257.7 1124.2,275.9 1126.6,239.5 1129,251.3 1131.4,287.9 1133.8,240.1 1136.2,302.5 1138.6,297.4 1141,301.4 1143.4,296.4 1145.8,298.7 1148.2,266.3 1150.6,276.1 1153,291 1155.4,280.7 1157.8,275.3 1160.2,282.1 1162.6,302 1165,301.8 1167.4,297.9 1169.8,293.8 1172.2,280.3 1174.6,268.3 1177,225.1 1179.4,269.2 1181.8,265.5 1184.2,278.9 1186.6,303.3 1189,288.5 1191.4,308 1193.8,297.8 1196.2,285.1 1198.6,279.4 1201,250.3 1203.4,279.1 1205.8,285.7 1208.2,269.5 1210.6,263.3 1213,298.8 1215.4,296.2 1217.8,307 1220.2,300.3 1222.6,303.4 1225,295.8 1227.4,262.7 1229.8,273 1232.2,275.7 1234.6,293.9 1237,297.9 1239.4,299.8 1241.8,302.7 1244.2,293.5 1246.6,300.9 1249,300.6 1251.4,306.8 1253.8,300.4 1256.2,271.6 1258.6,299 1261,304.6 1263.4,288.5 1265.8,303.9 1268.2,304.6 1270.6,286 1273,278.3 1275.4,290.8 1277.8,294.5 1280.2,274.6 1282.6,283.9 1285,272.2 1287.4,268.7 1289.8,289.4 1292.2,280.3 1294.6,304.6 1297,306.7 1299.4,293.9 1301.8,270.5 1304.2,203.5 1306.6,268.3 1309,164.2 1311.4,206.7 1313.8,258.2 1316.2,281.7 1316.5,255.4 1316.5,312.4 1072,312.4" fill="#F8766D" stroke="#F8766D" stroke-width="2.3" stroke-linejoin="round"/>
<polygon points="1072,281.5 1073.9,258.8 1076.3,277.9 1078.7,246.5 1081.1,257 1083.5,285.3 1085.9,297 1088.3,293 1090.7,300.9 1093.1,304 1095.5,295.8 1097.9,248.7 1100.3,259.4 1102.7,226.1 1105.1,275.4 1107.5,277.1 1109.9,272.6 1112.3,297.2 1114.7,302.6 1117.1,282.6 1119.5,287.4 1121.9,231.3 1124.3,268.1 1126.7,266.9 1129.1,267.5 1131.5,268.6 1133.9,294.8 1136.3,298.2 1138.7,294.8 1141.1,286.1 1143.5,289.3 1145.9,294.9 1148.3,298.1 1150.7,273.8 1153.1,294.7 1155.5,302.3 1157.9,284.5 1160.3,303.3 1162.7,296.3 1165.1,302.7 1167.5,306.5 1169.9,300.9 1172.3,297 1174.7,273.6 1177.1,263.5 1179.5,262.4 1181.9,270.7 1184.3,282.8 1186.7,296.8 1189.1,267.6 1191.5,289.2 1193.9,287.3 1196.3,294.8 1198.7,277.1 1201.1,231 1203.5,264.1 1205.9,278.4 1208.3,232 1210.7,263.4 1213.1,305.5 1215.5,301.4 1217.9,305.3 1220.3,304.2 1222.7,299.7 1225.1,287.5 1227.5,288.2 1229.9,293.7 1232.3,288.4 1234.7,279.4 1237.1,305.3 1239.5,306.1 1241.9,299.4 1244.3,292.6 1246.7,300.3 1249.1,297.4 1251.5,302.2 1253.9,302.3 1256.3,294.3 1258.7,295.4 1261.1,270.7 1263.5,278.5 1265.9,278.6 1268.3,303.4 1270.7,297.5 1273.1,288.6 1275.5,295.1 1277.9,282.4 1280.3,281.2 1282.7,279.2 1285.1,294.5 1287.5,264 1289.9,299.7 1292.3,301.3 1294.7,307.4 1297.1,297 1299.5,299.3 1301.9,285 1304.3,244.7 1306.7,226.9 1309.1,269.1 1311.5,264.4 1313.9,285.4 1316.5,298.8 1316.5,312.4 1072,312.4" fill="#E58700" stroke="#E58700" stroke-width="2.3" stroke-linejoin="round"/>
<polygon points="1072,287.3 1074.4,292 1076.8,294.5 1079.2,284.1 1081.6,274.7 1084,294 1086.4,288 1088.8,301.5 1091.2,285.2 1093.6,299.1 1096,298.6 1098.4,274 1100.8,257.2 1103.2,232 1105.6,206.1 1108,284.9 1110.4,278.1 1112.8,281.3 1115.2,293.2 1117.6,273.1 1120,249.4 1122.4,281.4 1124.8,277.8 1127.2,264.7 1129.6,259.1 1132,279.8 1134.4,297.5 1136.8,288.6 1139.2,301.3 1141.6,301.3 1144,306.2 1146.4,289.6 1148.8,257.2 1151.2,280.5 1153.6,274.5 1156,295.3 1158.4,261.8 1160.8,290.3 1163.2,272.6 1165.6,297.2 1168,299.4 1170.4,303.6 1172.8,298.8 1175.2,299.5 1177.6,296.3 1180,281.3 1182.4,253.4 1184.8,291.8 1187.2,290.8 1189.6,304 1192,298.7 1194.4,293.1 1196.8,295.2 1199.2,283.4 1201.6,280.2 1204,288.4 1206.4,241.7 1208.8,249.6 1211.2,287.7 1213.6,301.5 1216,302.9 1218.4,290 1220.8,296.9 1223.2,286 1225.6,266.6 1228,283.3 1230.4,299 1232.8,294.6 1235.2,295.2 1237.6,289.2 1240,290.4 1242.4,304.8 1244.8,307.9 1247.2,299.4 1249.6,302.8 1252,299.1 1254.4,298.8 1256.8,293.7 1259.2,301.7 1261.6,290.8 1264,276.4 1266.4,304.1 1268.8,305 1271.2,283 1273.6,300.9 1276,289.1 1278.4,261 1280.8,262 1283.2,255 1285.6,286.2 1288,260.1 1290.4,280.6 1292.8,279.5 1295.2,285.5 1297.6,304.8 1300,296.4 1302.4,247.3 1304.8,275.1 1307.2,265.5 1309.6,243.3 1312,198.8 1314.4,256.3 1316.5,290.7 1316.5,312.1 1072,312.1" fill="#CD9600" stroke="#CD9600" stroke-width="2.3" stroke-linejoin="round"/>
<polygon points="1072,292.8 1073.4,285.4 1075.8,274.1 1078.2,258.1 1080.6,269 1083,293.5 1085.4,296.7 1087.8,296.8 1090.2,306.6 1092.6,300.7 1095,296.5 1097.4,287.7 1099.8,283 1102.2,296.8 1104.6,270.5 1107,228.2 1109.4,268.4 1111.8,279.8 1114.2,279.5 1116.6,279.6 1119,289.8 1121.4,261.8 1123.8,277.8 1126.2,273.5 1128.6,283.2 1131,248.3 1133.4,281.3 1135.8,284.1 1138.2,306.6 1140.6,295.6 1143,302 1145.4,294.3 1147.8,293.1 1150.2,283.5 1152.6,253.1 1155,282.4 1157.4,248.1 1159.8,266.1 1162.2,291.9 1164.6,284.7 1167,308.3 1169.4,301.3 1171.8,306.3 1174.2,301.1 1176.6,241 1179,251.4 1181.4,274.2 1183.8,286.7 1186.2,274.3 1188.6,298 1191,296 1193.4,260.7 1195.8,275 1198.2,263.1 1200.6,277.4 1203,278.8 1205.4,238.3 1207.8,270.2 1210.2,236 1212.6,283.1 1215,278.4 1217.4,307.1 1219.8,303.3 1222.2,305.5 1224.6,295 1227,301.4 1229.4,289.3 1231.8,281.1 1234.2,278.6 1236.6,303 1239,304.8 1241.4,297.8 1243.8,300.2 1246.2,297.7 1248.6,302 1251,308.9 1253.4,294.7 1255.8,291.8 1258.2,294.9 1260.6,291.3 1263,281 1265.4,302 1267.8,287.8 1270.2,305.2 1272.6,307.4 1275,308.2 1277.4,292.3 1279.8,275.4 1282.2,263.5 1284.6,290 1287,281.7 1289.4,252.2 1291.8,296.1 1294.2,298.3 1296.6,296.7 1299,304.8 1301.4,292.4 1303.8,289.9 1306.2,225.3 1308.6,166.8 1311,262 1313.4,213.4 1315.8,224.6 1316.5,253.9 1316.5,312.3 1072,312.3" fill="#A3A500" stroke="#A3A500" stroke-width="2.3" stroke-linejoin="round"/>
<polygon points="1072,293.9 1073.3,295 1075.7,287.8 1078.1,270.9 1080.5,299.6 1082.9,293.4 1085.3,293.4 1087.7,293.7 1090.1,303.3 1092.5,292.7 1094.9,290.1 1097.3,280.3 1099.7,248.9 1102.1,277.3 1104.5,256.4 1106.9,264.7 1109.3,260.6 1111.7,289.8 1114.1,255.7 1116.5,278.9 1118.9,289.7 1121.3,278.4 1123.7,279.9 1126.1,227.2 1128.5,229.1 1130.9,275.5 1133.3,267.1 1135.7,290.6 1138.1,306.5 1140.5,291 1142.9,305.9 1145.3,304.1 1147.7,285.3 1150.1,304.2 1152.5,297.7 1154.9,288 1157.3,261.4 1159.7,258.6 1162.1,269.9 1164.5,296.7 1166.9,302.2 1169.3,303.6 1171.7,292.7 1174.1,290.3 1176.5,235.6 1178.9,288.5 1181.3,241.5 1183.7,276.4 1186.1,297.7 1188.5,295.5 1190.9,298.5 1193.3,295 1195.7,294.5 1198.1,275 1200.5,287.4 1202.9,257.7 1205.3,244.4 1207.7,245.2 1210.1,256.2 1212.5,302.1 1214.9,294.3 1217.3,296.3 1219.7,304 1222.1,295.8 1224.5,286 1226.9,284.6 1229.3,286.4 1231.7,282 1234.1,271.5 1236.5,280.2 1238.9,304.7 1241.3,294.1 1243.7,301.9 1246.1,300.6 1248.5,300.2 1250.9,299.2 1253.3,302.6 1255.7,274.2 1258.1,291.4 1260.5,295 1262.9,269.4 1265.3,286.6 1267.7,305 1270.1,288 1272.5,307.8 1274.9,283.1 1277.3,303.5 1279.7,267 1282.1,277.6 1284.5,287 1286.9,246.2 1289.3,275 1291.7,296.1 1294.1,297.9 1296.5,304.6 1298.9,295.6 1301.3,296.7 1303.7,278.1 1306.1,259.9 1308.5,223.3 1310.9,194.9 1313.3,274.2 1315.7,234.6 1316.5,230.2 1316.5,312.5 1072,312.5" fill="#39B600" stroke="#39B600" stroke-width="2.3" stroke-linejoin="round"/>
<polygon points="1072,288.5 1072.4,270.7 1074.8,289.1 1077.2,277 1079.6,299.4 1082,279 1084.4,285.9 1086.8,298.6 1089.2,304.5 1091.6,284.6 1094,288.9 1096.4,287.7 1098.8,260.8 1101.2,277 1103.6,285.3 1106,223.2 1108.4,221.3 1110.8,280.9 1113.2,274.1 1115.6,285.3 1118,277.8 1120.4,285.3 1122.8,235.5 1125.2,289 1127.6,274.9 1130,270.6 1132.4,269.7 1134.8,272.9 1137.2,292.1 1139.6,298.4 1142,299.1 1144.4,289.2 1146.8,277.1 1149.2,288.3 1151.6,290.4 1154,273.4 1156.4,276.6 1158.8,277.6 1161.2,279.2 1163.6,292.2 1166,298.5 1168.4,302.9 1170.8,297.7 1173.2,298.6 1175.6,271 1178,251.6 1180.4,282.1 1182.8,270.2 1185.2,260.5 1187.6,300.9 1190,302.6 1192.4,306.1 1194.8,299.6 1197.2,259.4 1199.6,283.7 1202,246.5 1204.4,224.7 1206.8,215.2 1209.2,285.4 1211.6,288.9 1214,293 1216.4,305.1 1218.8,299.4 1221.2,283.7 1223.6,294.4 1226,285.9 1228.4,293.6 1230.8,301.8 1233.2,302 1235.6,285.7 1238,307.4 1240.4,295.5 1242.8,297.4 1245.2,307.3 1247.6,300.7 1250,306.6 1252.4,289.5 1254.8,297.3 1257.2,272.8 1259.6,271 1262,286.8 1264.4,281.1 1266.8,296.5 1269.2,305.2 1271.6,302.2 1274,296.6 1276.4,287.1 1278.8,295.9 1281.2,294.5 1283.6,278.6 1286,293 1288.4,294.6 1290.8,288.4 1293.2,290 1295.6,290.5 1298,308.3 1300.4,289.7 1302.8,269.5 1305.2,276.8 1307.6,239.8 1310,159.2 1312.4,224.3 1314.8,254.9 1316.5,217.5 1316.5,312.6 1072,312.6" fill="#00C08B" stroke="#00C08B" stroke-width="2.3" stroke-linejoin="round"/>
<path d="M1098.8 311.6V240.1" stroke="#F8766D" stroke-width="2.6" stroke-linecap="round" fill="none"/>
<path d="M1117.2 311.6V292.6" stroke="#F8766D" stroke-width="2.6" stroke-linecap="round" fill="none"/>
<path d="M1136.8 311.6V280.1" stroke="#F8766D" stroke-width="2.6" stroke-linecap="round" fill="none"/>
<path d="M1140.5 311.6V293.8" stroke="#F8766D" stroke-width="2.6" stroke-linecap="round" fill="none"/>
<path d="M1159.2 311.6V238.8" stroke="#F8766D" stroke-width="2.6" stroke-linecap="round" fill="none"/>
<path d="M1164.2 311.6V277.1" stroke="#F8766D" stroke-width="2.6" stroke-linecap="round" fill="none"/>
<path d="M1171 311.6V283.8" stroke="#F8766D" stroke-width="2.6" stroke-linecap="round" fill="none"/>
<path d="M1190 311.6V216.3" stroke="#F8766D" stroke-width="2.6" stroke-linecap="round" fill="none"/>
<path d="M1193.5 311.6V268.3" stroke="#F8766D" stroke-width="2.6" stroke-linecap="round" fill="none"/>
<path d="M1208 311.6V226.3" stroke="#F8766D" stroke-width="2.6" stroke-linecap="round" fill="none"/>
<path d="M1214.2 311.6V291.3" stroke="#F8766D" stroke-width="2.6" stroke-linecap="round" fill="none"/>
<path d="M1235 311.6V275.1" stroke="#F8766D" stroke-width="2.6" stroke-linecap="round" fill="none"/>
<path d="M1238.8 311.6V266.3" stroke="#F8766D" stroke-width="2.6" stroke-linecap="round" fill="none"/>
<path d="M1251.8 311.6V283.8" stroke="#F8766D" stroke-width="2.6" stroke-linecap="round" fill="none"/>
<path d="M1263.5 311.6V271.3" stroke="#F8766D" stroke-width="2.6" stroke-linecap="round" fill="none"/>
<path d="M1303 311.6V224.3" stroke="#F8766D" stroke-width="2.6" stroke-linecap="round" fill="none"/>
<path d="M1079.5 311.6V236.3" stroke="#F07F4A" stroke-width="2.6" stroke-linecap="round" fill="none"/>
<path d="M1257.2 311.6V233.8" stroke="#F07F4A" stroke-width="2.6" stroke-linecap="round" fill="none"/>
<path d="M1072.5 311.6V263.8" stroke="#E58700" stroke-width="2.6" stroke-linecap="round" fill="none"/>
<path d="M1075 311.6V233.8" stroke="#E58700" stroke-width="2.6" stroke-linecap="round" fill="none"/>
<path d="M1082 311.6V253.8" stroke="#E58700" stroke-width="2.6" stroke-linecap="round" fill="none"/>
<path d="M1085 311.6V275.1" stroke="#E58700" stroke-width="2.6" stroke-linecap="round" fill="none"/>
<path d="M1093 311.6V296.3" stroke="#E58700" stroke-width="2.6" stroke-linecap="round" fill="none"/>
<path d="M1106.2 311.6V211.8" stroke="#E58700" stroke-width="2.6" stroke-linecap="round" fill="none"/>
<path d="M1143.8 311.6V295.1" stroke="#E58700" stroke-width="2.6" stroke-linecap="round" fill="none"/>
<path d="M1166.8 311.6V293.8" stroke="#E58700" stroke-width="2.6" stroke-linecap="round" fill="none"/>
<path d="M1203.8 311.6V216.8" stroke="#E58700" stroke-width="2.6" stroke-linecap="round" fill="none"/>
<path d="M1216.8 311.6V292.6" stroke="#E58700" stroke-width="2.6" stroke-linecap="round" fill="none"/>
<path d="M1261.8 311.6V235.8" stroke="#E58700" stroke-width="2.6" stroke-linecap="round" fill="none"/>
<path d="M1268 311.6V293.8" stroke="#E58700" stroke-width="2.6" stroke-linecap="round" fill="none"/>
<path d="M1270.5 311.6V290.1" stroke="#E58700" stroke-width="2.6" stroke-linecap="round" fill="none"/>
<path d="M1290.5 311.6V234.6" stroke="#E58700" stroke-width="2.6" stroke-linecap="round" fill="none"/>
<path d="M1293 311.6V243.8" stroke="#E58700" stroke-width="2.6" stroke-linecap="round" fill="none"/>
<path d="M1301 311.6V241.3" stroke="#E58700" stroke-width="2.6" stroke-linecap="round" fill="none"/>
<path d="M1313.5 311.6V178.1" stroke="#E58700" stroke-width="2.6" stroke-linecap="round" fill="none"/>
<path d="M1316 311.6V206.3" stroke="#E58700" stroke-width="2.6" stroke-linecap="round" fill="none"/>
<path d="M1224.8 311.6V206.3" stroke="#DE8C00" stroke-width="2.6" stroke-linecap="round" fill="none"/>
<path d="M1091 311.6V267.6" stroke="#CD9600" stroke-width="2.6" stroke-linecap="round" fill="none"/>
<path d="M1103 311.6V215.8" stroke="#CD9600" stroke-width="2.6" stroke-linecap="round" fill="none"/>
<path d="M1127.5 311.6V230.1" stroke="#CD9600" stroke-width="2.6" stroke-linecap="round" fill="none"/>
<path d="M1130.2 311.6V218.1" stroke="#CD9600" stroke-width="2.6" stroke-linecap="round" fill="none"/>
<path d="M1186.8 311.6V260.1" stroke="#CD9600" stroke-width="2.6" stroke-linecap="round" fill="none"/>
<path d="M1230.5 311.6V280.1" stroke="#CD9600" stroke-width="2.6" stroke-linecap="round" fill="none"/>
<path d="M1286.2 311.6V235.6" stroke="#CD9600" stroke-width="2.6" stroke-linecap="round" fill="none"/>
<path d="M1295.5 311.6V266.3" stroke="#CD9600" stroke-width="2.6" stroke-linecap="round" fill="none"/>
<path d="M1123.2 311.6V188.8" stroke="#B79F00" stroke-width="2.6" stroke-linecap="round" fill="none"/>
<path d="M1298.8 311.6V220.3" stroke="#B79F00" stroke-width="2.6" stroke-linecap="round" fill="none"/>
<path d="M1133 311.6V232.6" stroke="#A3A500" stroke-width="2.6" stroke-linecap="round" fill="none"/>
<path d="M1243 311.6V276.3" stroke="#A3A500" stroke-width="2.6" stroke-linecap="round" fill="none"/>
<path d="M1249.5 311.6V268.8" stroke="#A3A500" stroke-width="2.6" stroke-linecap="round" fill="none"/>
<path d="M1157.2 311.6V225.3" stroke="#93AA00" stroke-width="2.6" stroke-linecap="round" fill="none"/>
<path d="M1247 311.6V238.1" stroke="#93AA00" stroke-width="2.6" stroke-linecap="round" fill="none"/>
<path d="M1306.8 311.6V171.3" stroke="#6BB100" stroke-width="2.6" stroke-linecap="round" fill="none"/>
<path d="M1088 311.6V249.3" stroke="#39B600" stroke-width="2.6" stroke-linecap="round" fill="none"/>
<path d="M1096.2 311.6V255.1" stroke="#39B600" stroke-width="2.6" stroke-linecap="round" fill="none"/>
<path d="M1148 311.6V282.6" stroke="#39B600" stroke-width="2.6" stroke-linecap="round" fill="none"/>
<path d="M1150 311.6V278.8" stroke="#39B600" stroke-width="2.6" stroke-linecap="round" fill="none"/>
<path d="M1153 311.6V258.8" stroke="#39B600" stroke-width="2.6" stroke-linecap="round" fill="none"/>
<path d="M1273 311.6V249.8" stroke="#39B600" stroke-width="2.6" stroke-linecap="round" fill="none"/>
<path d="M1277.2 311.6V249.8" stroke="#39B600" stroke-width="2.6" stroke-linecap="round" fill="none"/>
<path d="M1279.8 311.6V271.3" stroke="#39B600" stroke-width="2.6" stroke-linecap="round" fill="none"/>
<path d="M1076.2 311.6V225.1" stroke="#00C08B" stroke-width="2.6" stroke-linecap="round" fill="none"/>
<path d="M1176 311.6V256.3" stroke="#00C08B" stroke-width="2.6" stroke-linecap="round" fill="none"/>
<path d="M1182.2 311.6V223.8" stroke="#00C08B" stroke-width="2.6" stroke-linecap="round" fill="none"/>
<path d="M1207.5 311.6V223.3" stroke="#00C08B" stroke-width="2.6" stroke-linecap="round" fill="none"/>
<path d="M1317.5 311.6V223.8" stroke="#00C08B" stroke-width="2.6" stroke-linecap="round" fill="none"/>
<polygon points="1072,299.4 1072.3,296.5 1074.7,277.7 1076.2,230 1077.1,270.5 1079.5,286.6 1081.9,276 1084.3,294.8 1085.5,295 1086.2,280 1087,295 1089.1,303.1 1091.5,301.4 1093.9,304.9 1096,270 1096.8,255 1097.5,270 1098.7,271.9 1101.1,284.9 1103.5,252.3 1106,235 1108.3,279.6 1110.7,292.4 1113.1,277.9 1115.5,300.7 1117.9,299.3 1120.3,285.4 1122.8,245 1123.5,230 1124.2,250 1125.1,258.6 1127.5,254.2 1129.2,245 1132.3,292.2 1134.7,298.1 1137.1,305.1 1139.5,307.6 1141.9,306.6 1144.3,306.6 1146.7,301.2 1149.1,300.8 1151.5,285.8 1153.9,287 1156.8,258.8 1158.7,281.1 1161.1,297.9 1163.5,305.3 1165.9,301.5 1168.3,304.4 1170.7,300.1 1173.1,303.2 1175.5,289.1 1177.9,267.7 1180.3,282.4 1182.2,235 1185.1,281.1 1187.5,294 1189.9,302.5 1192.3,301 1194.7,290.4 1197.8,245 1198.5,223.8 1199.5,245 1201.9,269.8 1204.3,280.5 1206.7,229.7 1207.5,225 1209.1,259.2 1211.5,278.4 1213.9,297.4 1216.3,306.3 1218.7,307.6 1221.1,306.3 1223.5,300.3 1225.5,283.8 1228.3,301.9 1230.7,303.4 1233.1,291 1234.2,287.5 1235.5,296.7 1237.9,307.3 1240.3,302.8 1242.7,307.8 1245.1,307.8 1247.5,307.1 1249.9,304.3 1252.3,306.8 1254.7,293.6 1257.1,294.7 1259.2,280 1261.9,296.6 1263,280 1264.3,302.6 1266.7,306.5 1269.1,304.7 1271.5,306.1 1273.9,301.1 1276.3,302.1 1278.7,294.3 1281.1,288.3 1283,245 1285.9,265.9 1288.3,289.7 1290.7,285.8 1293.1,301.8 1295.5,303.1 1297.9,307.5 1300.3,289.3 1302.7,267.6 1305.1,236.1 1307.5,241.6 1308.5,120 1309.2,117.5 1310,120 1312.3,226.7 1314.7,241 1316.5,285.5 1316.5,311.8 1313.6,311.6 1310.6,311.9 1307.6,311.6 1304.6,311.6 1301.6,314.6 1298.7,311.5 1295.7,311.4 1292.7,311.7 1289.7,311.6 1286.7,311.4 1283.7,311.7 1280.8,311.5 1277.8,313.3 1274.8,311.7 1271.8,311.4 1268.8,311.5 1265.9,311.7 1262.9,311.6 1259.9,311.4 1256.9,311.6 1253.9,311.4 1250.9,314.7 1248,311.7 1245,313 1242,311.7 1239,311.4 1236,311.3 1233.1,311.6 1230.1,314.6 1227.1,311.8 1224.1,314.6 1221.1,311.4 1218.1,311.9 1215.2,311.4 1212.2,312.8 1209.2,311.7 1206.2,311.6 1203.2,311.6 1200.3,311.3 1197.3,311.3 1194.3,313.2 1191.3,312.9 1188.3,311.6 1185.3,314.4 1182.4,311.5 1179.4,314.6 1176.4,311.9 1173.4,314.4 1170.4,314.6 1167.5,311.8 1164.5,313 1161.5,311.9 1158.5,311.7 1155.5,313 1152.5,311.5 1149.6,311.4 1146.6,311.9 1143.6,311.6 1140.6,311.8 1137.6,311.5 1134.7,311.4 1131.7,311.3 1128.7,312.8 1125.7,311.7 1122.7,314.8 1119.7,314.9 1116.8,311.7 1113.8,311.9 1110.8,311.8 1107.8,314.8 1104.8,311.8 1101.9,312.7 1098.9,311.7 1095.9,311.4 1092.9,311.9 1089.9,313.2 1086.9,311.7 1084,311.6 1081,311.4 1078,314.5 1075,313.2 1072,311.8" fill="#00BFC4" stroke="#00BFC4" stroke-width="2.5" stroke-linejoin="round"/>
<polygon points="102,561.9 103.3,558.3 105.7,556 108.1,531.8 110.5,499.5 112.9,567.3 115.3,558.9 117.7,556.6 120.1,562 122.5,562.7 124.9,563.8 127.3,563 129.7,558.1 132.1,565.3 134.5,534 136.9,556.8 139.3,544.2 141.7,568 144.1,565.8 146.5,578.1 148.9,575.4 151.3,550.1 153.7,558.4 156.1,567.9 158.5,561.8 160.9,549.5 163.3,558.5 165.7,546.3 168.1,553.5 170.5,579.6 172.9,564.2 175.3,576.1 177.7,545.2 180.1,548.1 182.5,560.9 184.9,516.1 187.3,561.7 189.7,558.4 192.1,546.6 194.5,534.7 196.9,568.4 199.3,574.8 201.7,544.6 204.1,567.3 206.5,531.8 208.9,561.7 211.3,546.1 213.7,544.3 216.1,510.9 218.5,566 220.9,563.6 223.3,567.2 225.7,538.9 228.1,534 230.5,567.3 232.9,538.9 235.3,549.7 237.7,564.1 240.1,561.1 242.5,564.1 244.9,560.1 247.3,573.2 249.7,563.7 252.1,578.6 254.5,542.4 256.9,554.9 259.3,550 261.7,539.8 264.1,531.8 266.5,565.9 268.9,576.1 271.3,575.5 273.7,561.6 276.1,573.1 278.5,570.4 280.9,556.6 283.3,544.1 285.7,550.2 288.1,539.9 290.5,536 292.9,576.9 295.3,569.8 297.7,567.2 300.1,574.6 302.5,573.5 304.9,538.6 307.3,528.9 309.7,498.7 312.1,540.9 314.5,523.8 316.9,501.4 319.3,532.9 321.7,545.5 324.1,568.3 326.5,546.9 328.9,572.1 331.3,525.3 333.7,524.6 336.1,540.9 338.5,526.8 340.9,541.4 343.3,539.1 345.7,548.3 346.5,570.3 346.5,586.3 102,586.3" fill="#F8766D" stroke="#F8766D" stroke-width="2.3" stroke-linejoin="round"/>
<polygon points="102,571.1 103.5,563.6 105.9,557.4 108.3,542 110.7,526.7 113.1,560.8 115.5,565.3 117.9,571 120.3,573.1 122.7,572.5 125.1,558.6 127.5,553 129.9,526.1 132.3,520.2 134.7,510.8 137.1,559.7 139.5,544 141.9,561.6 144.3,571.5 146.7,560.3 149.1,565.7 151.5,570.7 153.9,564.1 156.3,535 158.7,551.8 161.1,532.3 163.5,569.1 165.9,555.9 168.3,576.2 170.7,568 173.1,555.2 175.5,571 177.9,564.8 180.3,508.6 182.7,488.9 185.1,524.2 187.5,538.1 189.9,545.2 192.3,552.3 194.7,541.7 197.1,573.8 199.5,569.2 201.9,540.2 204.3,564.8 206.7,561.2 209.1,555.2 211.5,510.1 213.9,480.6 216.3,545.4 218.7,564.7 221.1,561.5 223.5,568.4 225.9,558.7 228.3,516.8 230.7,524.5 233.1,519.3 235.5,506 237.9,523.7 240.3,543.4 242.7,570.7 245.1,578.4 247.5,568.3 249.9,572.3 252.3,574 254.7,571.4 257.1,552 259.5,575.3 261.9,564.4 264.3,574.6 266.7,576.5 269.1,567.9 271.5,573 273.9,571.6 276.3,565.6 278.7,578.8 281.1,557.8 283.5,554.4 285.9,563.1 288.3,566.1 290.7,549.9 293.1,567.4 295.5,567.8 297.9,566.1 300.3,564.5 302.7,552.3 305.1,568 307.5,518.9 309.9,538.4 312.3,505.5 314.7,507.7 317.1,460.2 319.5,487.9 321.9,538.2 324.3,565.2 326.7,575.6 329.1,561.3 331.5,525.4 333.9,560.6 336.3,522.6 338.7,485.8 341.1,558.4 343.5,511.1 345.9,558.7 346.5,550.4 346.5,586.8 102,586.8" fill="#E58700" stroke="#E58700" stroke-width="2.3" stroke-linejoin="round"/>
<polygon points="102,571.7 102.4,565.9 104.8,550.3 107.2,552.4 109.6,556.5 112,555.6 114.4,547.1 116.8,553.6 119.2,563.6 121.6,568.6 124,572.7 126.4,536.3 128.8,529.4 131.2,564.3 133.6,569.5 136,572.8 138.4,576.9 140.8,555.5 143.2,575.7 145.6,576.2 148,561.5 150.4,566.9 152.8,565 155.2,546.1 157.6,495.4 160,560 162.4,547.6 164.8,576.8 167.2,555.8 169.6,581.3 172,581.8 174.4,566.1 176.8,556.2 179.2,507.2 181.6,526.5 184,547.7 186.4,545.1 188.8,559 191.2,544.6 193.6,551.4 196,560.1 198.4,547.3 200.8,567.4 203.2,561 205.6,560.3 208,566.6 210.4,540.9 212.8,516.4 215.2,559.8 217.6,575.9 220,574.7 222.4,582 224.8,572.4 227.2,576.8 229.6,538.3 232,537.7 234.4,544.6 236.8,537.5 239.2,545 241.6,562.6 244,559 246.4,565.3 248.8,556.3 251.2,561.7 253.6,564.5 256,560.2 258.4,551 260.8,568 263.2,552.9 265.6,560.6 268,567.4 270.4,567.4 272.8,563.9 275.2,571.7 277.6,554.5 280,566.1 282.4,543 284.8,563.6 287.2,553 289.6,570.5 292,548.7 294.4,577.1 296.8,577.9 299.2,576.8 301.6,561.3 304,554.4 306.4,530.7 308.8,522.6 311.2,551.7 313.6,509.4 316,534.9 318.4,553.7 320.8,562.8 323.2,570.3 325.6,570.5 328,570 330.4,550.3 332.8,553.8 335.2,513.2 337.6,499.1 340,548.9 342.4,559.2 344.8,505.6 346.5,569.7 346.5,586.9 102,586.9" fill="#CD9600" stroke="#CD9600" stroke-width="2.3" stroke-linejoin="round"/>
<polygon points="102,565.8 104.2,572.9 106.6,553.1 109,547.2 111.4,548.3 113.8,564.4 116.2,570.9 118.6,553.1 121,564.8 123.4,565.8 125.8,553.5 128.2,554.7 130.6,574 133,554.7 135.4,532 137.8,564.1 140.2,574.3 142.6,574.2 145,569 147.4,582.1 149.8,552 152.2,540.4 154.6,555 157,550.3 159.4,560.1 161.8,559.4 164.2,561.8 166.6,568 169,566.8 171.4,554.9 173.8,566.2 176.2,553.1 178.6,549.2 181,558.9 183.4,516.5 185.8,558.6 188.2,498.6 190.6,564.8 193,567.5 195.4,546.1 197.8,574 200.2,573.5 202.6,562.9 205,555.8 207.4,550.4 209.8,540.6 212.2,504.7 214.6,506.6 217,525.9 219.4,570.5 221.8,572.5 224.2,558.6 226.6,573.4 229,559.4 231.4,540.3 233.8,526.5 236.2,572.9 238.6,555 241,566 243.4,573.1 245.8,570.8 248.2,576.5 250.6,573.8 253,575.3 255.4,548.9 257.8,563.6 260.2,559.6 262.6,580.1 265,566.7 267.4,570 269.8,576.6 272.2,570.3 274.6,558.9 277,580.7 279.4,576.7 281.8,561.4 284.2,552.9 286.6,530.6 289,563.7 291.4,563.7 293.8,572.1 296.2,557.9 298.6,563.4 301,554.9 303.4,574 305.8,559.5 308.2,514.9 310.6,468 313,517.2 315.4,427.2 317.8,557.3 320.2,552.7 322.6,570.7 325,567.2 327.4,578 329.8,571.7 332.2,540.3 334.6,528.3 337,547 339.4,523.1 341.8,549.9 344.2,533.2 346.5,558.3 346.5,586.6 102,586.6" fill="#93AA00" stroke="#93AA00" stroke-width="2.3" stroke-linejoin="round"/>
<polygon points="102,551.5 103.2,561.7 105.6,559.3 108,565.5 110.4,566.2 112.8,554.3 115.2,573.6 117.6,565.7 120,559.8 122.4,574 124.8,550.9 127.2,536.8 129.6,566.6 132,551.4 134.4,517 136.8,557 139.2,560.5 141.6,570.1 144,561.6 146.4,577.7 148.8,574.5 151.2,555 153.6,529.8 156,493.9 158.4,548.3 160.8,537.3 163.2,567.8 165.6,568.4 168,575.9 170.4,568.7 172.8,581.6 175.2,552.6 177.6,556.6 180,507.2 182.4,561.5 184.8,537 187.2,555.7 189.6,552.6 192,544.5 194.4,550 196.8,554.2 199.2,573.4 201.6,572.5 204,555.4 206.4,566.1 208.8,503.7 211.2,526.1 213.6,531.1 216,564.3 218.4,561.7 220.8,569.4 223.2,579.7 225.6,560.6 228,553.5 230.4,539.5 232.8,524.6 235.2,526.4 237.6,563.1 240,555.4 242.4,562.3 244.8,576.1 247.2,570 249.6,573.4 252,562 254.4,541.6 256.8,544.6 259.2,554.9 261.6,572.5 264,570.1 266.4,579.4 268.8,567.8 271.2,571.8 273.6,568.9 276,576.5 278.4,576.2 280.8,555 283.2,569.3 285.6,569.6 288,558.8 290.4,550.2 292.8,559.4 295.2,557.9 297.6,579.4 300,580.7 302.4,576.9 304.8,535.4 307.2,557.4 309.6,530.7 312,514.4 314.4,484.8 316.8,546.7 319.2,549.2 321.6,544.4 324,548.6 326.4,569.6 328.8,571.9 331.2,564.3 333.6,553.3 336,558.4 338.4,558.6 340.8,523.5 343.2,553.3 345.6,541.8 346.5,550.9 346.5,586.7 102,586.7" fill="#39B600" stroke="#39B600" stroke-width="2.3" stroke-linejoin="round"/>
<polygon points="102,556.7 103.3,558.2 105.7,508.5 108.1,539.2 110.5,541.2 112.9,536.1 115.3,568.2 117.7,573.8 120.1,561.5 122.5,570.1 124.9,556.2 127.3,553.1 129.7,525.4 132.1,547.7 134.5,559.7 136.9,575.8 139.3,563.9 141.7,561.1 144.1,574.7 146.5,572 148.9,565.3 151.3,562.1 153.7,541.7 156.1,535.7 158.5,550.8 160.9,550.4 163.3,567.2 165.7,567.1 168.1,558 170.5,574.5 172.9,576.8 175.3,560.9 177.7,540.3 180.1,498.5 182.5,553.9 184.9,513.2 187.3,550 189.7,544 192.1,558.1 194.5,566.3 196.9,560.5 199.3,578.7 201.7,564.1 204.1,567.7 206.5,568.9 208.9,547.7 211.3,522.5 213.7,500.1 216.1,549.6 218.5,558 220.9,578 223.3,573.8 225.7,562.4 228.1,552.3 230.5,532 232.9,545.1 235.3,518.8 237.7,557.1 240.1,558.9 242.5,569.7 244.9,574.1 247.3,576.5 249.7,570.3 252.1,544.9 254.5,558.3 256.9,533.3 259.3,552.8 261.7,575.3 264.1,568.8 266.5,564.2 268.9,573.7 271.3,574.2 273.7,570.7 276.1,562.3 278.5,562.4 280.9,558.5 283.3,540.9 285.7,552.7 288.1,530.5 290.5,534.8 292.9,571.9 295.3,572.5 297.7,575.8 300.1,575.4 302.5,577.4 304.9,557.8 307.3,509.7 309.7,548.6 312.1,494.9 314.5,507.5 316.9,484.6 319.3,545.1 321.7,538.8 324.1,571 326.5,564.4 328.9,535.9 331.3,549.8 333.7,543.7 336.1,495.3 338.5,546.5 340.9,545.2 343.3,565.9 345.7,558.5 346.5,545.7 346.5,586.5 102,586.5" fill="#00BA38" stroke="#00BA38" stroke-width="2.3" stroke-linejoin="round"/>
<polygon points="102,550.7 104.3,558.7 106.7,562.3 109.1,571.6 111.5,552.8 113.9,565.6 116.3,566.2 118.7,567.1 121.1,568.3 123.5,575.6 125.9,535.5 128.3,510.4 130.7,560.8 133.1,566.6 135.5,565.8 137.9,562.9 140.3,577.2 142.7,573 145.1,563.9 147.5,571.8 149.9,575.1 152.3,555.8 154.7,519.5 157.1,539.1 159.5,521.4 161.9,551.8 164.3,532 166.7,556 169.1,577.4 171.5,573.7 173.9,572.9 176.3,575.7 178.7,560.4 181.1,541.5 183.5,548.6 185.9,508 188.3,543.3 190.7,546.9 193.1,568 195.5,565.3 197.9,563.5 200.3,581 202.7,553.1 205.1,533.3 207.5,526.8 209.9,544.4 212.3,565.5 214.7,572.9 217.1,542.8 219.5,567.6 221.9,574.2 224.3,562.9 226.7,556.5 229.1,555.5 231.5,549.7 233.9,488.8 236.3,499.7 238.7,522.7 241.1,569.1 243.5,577.4 245.9,579 248.3,578.7 250.7,578.5 253.1,564.5 255.5,560.8 257.9,577.4 260.3,569 262.7,564.6 265.1,575.6 267.5,579.1 269.9,578.1 272.3,581.5 274.7,576.1 277.1,575.5 279.5,577.9 281.9,563.1 284.3,545.5 286.7,565.8 289.1,549.8 291.5,551.9 293.9,557.1 296.3,553.7 298.7,555.9 301.1,574 303.5,567.1 305.9,556 308.3,500.8 310.7,537.3 313.1,534.3 315.5,503.9 317.9,515 320.3,498.8 322.7,563.1 325.1,571.6 327.5,573.9 329.9,520.2 332.3,560.8 334.7,532.3 337.1,519.7 339.5,515.5 341.9,559.9 344.3,547.5 346.5,546.8 346.5,586.4 102,586.4" fill="#00C08B" stroke="#00C08B" stroke-width="2.3" stroke-linejoin="round"/>
<polygon points="102,576.6 103,571.8 105.4,558.9 107.8,559.7 110.2,516.5 112.6,553.5 115,563.9 117.4,579.6 119.8,558.9 122.2,561.7 124.6,555.5 127,531.7 129.4,503.3 131.8,533.7 134.2,565.3 136.6,559.2 139,559.4 141.4,574.6 143.8,579.9 146.2,570.9 148.6,563.6 151,556 153.4,564.4 155.8,563.5 158.2,550.4 160.6,564.1 163,548.3 165.4,558.6 167.8,555.1 170.2,569.9 172.6,569.7 175,573.5 177.4,548 179.8,551.3 182.2,554.3 184.6,509.2 187,499.1 189.4,493.2 191.8,536.2 194.2,560.8 196.6,564.4 199,569.2 201.4,574.2 203.8,567 206.2,554.8 208.6,562.8 211,542.3 213.4,520 215.8,558.8 218.2,552.1 220.6,568 223,578.1 225.4,550.4 227.8,532.5 230.2,525.4 232.6,533.8 235,507.2 237.4,533.6 239.8,567 242.2,570.3 244.6,581.1 247,570.5 249.4,576.4 251.8,576.3 254.2,563 256.6,569.7 259,570 261.4,545.1 263.8,557.9 266.2,561.4 268.6,571.4 271,578.7 273.4,559.9 275.8,574.5 278.2,574.8 280.6,561.3 283,559.7 285.4,544.2 287.8,568.2 290.2,568.3 292.6,558.7 295,563.7 297.4,569.2 299.8,573 302.2,570.5 304.6,566.4 307,556.8 309.4,489 311.8,472.2 314.2,507.5 316.6,477.6 319,511.2 321.4,551.1 323.8,565.8 326.2,568.1 328.6,569.1 331,550.1 333.4,547.1 335.8,511.3 338.2,508.3 340.6,554.6 343,525.5 345.4,558.8 346.5,537.2 346.5,586.4 102,586.4" fill="#00BFC4" stroke="#00BFC4" stroke-width="2.3" stroke-linejoin="round"/>
<path d="M107.5 585.6V480.8" stroke="#F8766D" stroke-width="2.6" stroke-linecap="round" fill="none"/>
<path d="M128.8 585.6V518.8" stroke="#F8766D" stroke-width="2.6" stroke-linecap="round" fill="none"/>
<path d="M163.2 585.6V510.1" stroke="#F8766D" stroke-width="2.6" stroke-linecap="round" fill="none"/>
<path d="M167 585.6V547.5" stroke="#F8766D" stroke-width="2.6" stroke-linecap="round" fill="none"/>
<path d="M222 585.6V535" stroke="#F8766D" stroke-width="2.6" stroke-linecap="round" fill="none"/>
<path d="M258.8 585.6V547.5" stroke="#F8766D" stroke-width="2.6" stroke-linecap="round" fill="none"/>
<path d="M288 585.6V486.3" stroke="#F8766D" stroke-width="2.6" stroke-linecap="round" fill="none"/>
<path d="M345.5 585.6V492.1" stroke="#F8766D" stroke-width="2.6" stroke-linecap="round" fill="none"/>
<path d="M347.5 585.6V527.5" stroke="#F8766D" stroke-width="2.6" stroke-linecap="round" fill="none"/>
<path d="M102.5 585.6V530" stroke="#E58700" stroke-width="2.6" stroke-linecap="round" fill="none"/>
<path d="M119.2 585.6V522.3" stroke="#E58700" stroke-width="2.6" stroke-linecap="round" fill="none"/>
<path d="M135.5 585.6V492.6" stroke="#E58700" stroke-width="2.6" stroke-linecap="round" fill="none"/>
<path d="M147.5 585.6V567.5" stroke="#E58700" stroke-width="2.6" stroke-linecap="round" fill="none"/>
<path d="M150 585.6V566.3" stroke="#E58700" stroke-width="2.6" stroke-linecap="round" fill="none"/>
<path d="M160.5 585.6V496.8" stroke="#E58700" stroke-width="2.6" stroke-linecap="round" fill="none"/>
<path d="M175.8 585.6V542" stroke="#E58700" stroke-width="2.6" stroke-linecap="round" fill="none"/>
<path d="M190.5 585.6V499.3" stroke="#E58700" stroke-width="2.6" stroke-linecap="round" fill="none"/>
<path d="M192.5 585.6V513.8" stroke="#E58700" stroke-width="2.6" stroke-linecap="round" fill="none"/>
<path d="M217.5 585.6V526.3" stroke="#E58700" stroke-width="2.6" stroke-linecap="round" fill="none"/>
<path d="M226.2 585.6V484.3" stroke="#E58700" stroke-width="2.6" stroke-linecap="round" fill="none"/>
<path d="M243.2 585.6V521.3" stroke="#E58700" stroke-width="2.6" stroke-linecap="round" fill="none"/>
<path d="M247.5 585.6V536.3" stroke="#E58700" stroke-width="2.6" stroke-linecap="round" fill="none"/>
<path d="M246.2 585.6V546.3" stroke="#E58700" stroke-width="2.6" stroke-linecap="round" fill="none"/>
<path d="M249.2 585.6V548.8" stroke="#E58700" stroke-width="2.6" stroke-linecap="round" fill="none"/>
<path d="M252 585.6V553.8" stroke="#E58700" stroke-width="2.6" stroke-linecap="round" fill="none"/>
<path d="M278.8 585.6V525.5" stroke="#E58700" stroke-width="2.6" stroke-linecap="round" fill="none"/>
<path d="M294.5 585.6V522.5" stroke="#E58700" stroke-width="2.6" stroke-linecap="round" fill="none"/>
<path d="M297.5 585.6V526.3" stroke="#E58700" stroke-width="2.6" stroke-linecap="round" fill="none"/>
<path d="M301.5 585.6V513" stroke="#E58700" stroke-width="2.6" stroke-linecap="round" fill="none"/>
<path d="M299.5 585.6V533.8" stroke="#E58700" stroke-width="2.6" stroke-linecap="round" fill="none"/>
<path d="M316.8 585.6V394.3" stroke="#E58700" stroke-width="2.6" stroke-linecap="round" fill="none"/>
<path d="M324.5 585.6V491.3" stroke="#E58700" stroke-width="2.6" stroke-linecap="round" fill="none"/>
<path d="M328.8 585.6V528.8" stroke="#E58700" stroke-width="2.6" stroke-linecap="round" fill="none"/>
<path d="M117 585.6V552.5" stroke="#CD9600" stroke-width="2.6" stroke-linecap="round" fill="none"/>
<path d="M145 585.6V556.3" stroke="#CD9600" stroke-width="2.6" stroke-linecap="round" fill="none"/>
<path d="M168.8 585.6V561.3" stroke="#CD9600" stroke-width="2.6" stroke-linecap="round" fill="none"/>
<path d="M201.2 585.6V568.8" stroke="#CD9600" stroke-width="2.6" stroke-linecap="round" fill="none"/>
<path d="M267.5 585.6V551.3" stroke="#CD9600" stroke-width="2.6" stroke-linecap="round" fill="none"/>
<path d="M281.2 585.6V533.8" stroke="#CD9600" stroke-width="2.6" stroke-linecap="round" fill="none"/>
<path d="M322.5 585.6V486.3" stroke="#CD9600" stroke-width="2.6" stroke-linecap="round" fill="none"/>
<path d="M312.5 585.6V438.1" stroke="#B79F00" stroke-width="2.6" stroke-linecap="round" fill="none"/>
<path d="M132.5 585.6V520.8" stroke="#93AA00" stroke-width="2.6" stroke-linecap="round" fill="none"/>
<path d="M142 585.6V521.3" stroke="#93AA00" stroke-width="2.6" stroke-linecap="round" fill="none"/>
<path d="M158 585.6V515" stroke="#93AA00" stroke-width="2.6" stroke-linecap="round" fill="none"/>
<path d="M187 585.6V510.8" stroke="#93AA00" stroke-width="2.6" stroke-linecap="round" fill="none"/>
<path d="M272.5 585.6V544.5" stroke="#93AA00" stroke-width="2.6" stroke-linecap="round" fill="none"/>
<path d="M307.5 585.6V426.8" stroke="#93AA00" stroke-width="2.6" stroke-linecap="round" fill="none"/>
<path d="M320 585.6V467.6" stroke="#93AA00" stroke-width="2.6" stroke-linecap="round" fill="none"/>
<path d="M338 585.6V493.8" stroke="#93AA00" stroke-width="2.6" stroke-linecap="round" fill="none"/>
<path d="M205.8 585.6V483.8" stroke="#6BB100" stroke-width="2.6" stroke-linecap="round" fill="none"/>
<path d="M238.2 585.6V489.3" stroke="#6BB100" stroke-width="2.6" stroke-linecap="round" fill="none"/>
<path d="M111.2 585.6V514.3" stroke="#00BA38" stroke-width="2.6" stroke-linecap="round" fill="none"/>
<path d="M138 585.6V535" stroke="#00BA38" stroke-width="2.6" stroke-linecap="round" fill="none"/>
<path d="M155 585.6V513.3" stroke="#00BA38" stroke-width="2.6" stroke-linecap="round" fill="none"/>
<path d="M182.5 585.6V480.6" stroke="#00BA38" stroke-width="2.6" stroke-linecap="round" fill="none"/>
<path d="M184.2 585.6V511.3" stroke="#00BA38" stroke-width="2.6" stroke-linecap="round" fill="none"/>
<path d="M195 585.6V551.3" stroke="#00BA38" stroke-width="2.6" stroke-linecap="round" fill="none"/>
<path d="M208 585.6V511.3" stroke="#00BA38" stroke-width="2.6" stroke-linecap="round" fill="none"/>
<path d="M225 585.6V510.1" stroke="#00BA38" stroke-width="2.6" stroke-linecap="round" fill="none"/>
<path d="M232 585.6V477.6" stroke="#00BA38" stroke-width="2.6" stroke-linecap="round" fill="none"/>
<path d="M264.2 585.6V507.1" stroke="#00BA38" stroke-width="2.6" stroke-linecap="round" fill="none"/>
<path d="M275.5 585.6V551.3" stroke="#00BA38" stroke-width="2.6" stroke-linecap="round" fill="none"/>
<path d="M290 585.6V478.3" stroke="#00BA38" stroke-width="2.6" stroke-linecap="round" fill="none"/>
<path d="M310 585.6V462.6" stroke="#00BA38" stroke-width="2.6" stroke-linecap="round" fill="none"/>
<path d="M332.5 585.6V521.3" stroke="#00BA38" stroke-width="2.6" stroke-linecap="round" fill="none"/>
<path d="M334.2 585.6V484.3" stroke="#00BA38" stroke-width="2.6" stroke-linecap="round" fill="none"/>
<path d="M341.2 585.6V501.3" stroke="#00BA38" stroke-width="2.6" stroke-linecap="round" fill="none"/>
<path d="M233.2 585.6V465.8" stroke="#00BE67" stroke-width="2.6" stroke-linecap="round" fill="none"/>
<path d="M198 585.6V556.3" stroke="#00C08B" stroke-width="2.6" stroke-linecap="round" fill="none"/>
<path d="M213 585.6V491.3" stroke="#00C08B" stroke-width="2.6" stroke-linecap="round" fill="none"/>
<path d="M160 585.6V501.3" stroke="#00BFC4" stroke-width="2.6" stroke-linecap="round" fill="none"/>
<polygon points="102,571.2 103,572.9 105.4,556.3 106.2,520 107,490 107.8,525 110.2,559.9 111.2,520 112.6,557.4 115,566 117.4,575.4 120,556.2 122.2,567.2 124.6,567.8 127,531.8 128.8,521.2 131.8,565.7 134.2,557.4 136.6,558.2 139,570.9 141.4,574.7 143.8,577.9 146.2,580.1 148.6,574.9 151,568.5 153.4,561.4 155.8,548.1 158.2,548.8 160,510 163,546.7 165.4,571.4 167.8,567.3 170.2,573.9 172.6,575.5 175,575.5 177.4,566 178.5,520 179.2,450.5 180,520 182.2,558.8 184.6,540.1 187,556.8 188.8,515 191.8,568.8 194.2,575.2 196.6,570 199,577.3 201.4,574.6 203.8,552.8 206.2,543.1 208.6,552.2 210.5,490.5 213.4,543.2 215.8,550.1 218.2,569.6 220.6,576.5 223,579.9 225.4,576.4 227.8,569.9 230.2,536.4 232.6,551.1 233.8,510 235,486.2 235.8,510 237.4,532.6 239.8,556.6 242.2,574.4 244.6,571.5 247,574.4 249.4,576.6 251.8,577.1 254.2,563.5 256.6,563.7 257.5,550 259,573 261.4,573 263.8,568.8 266.2,573.8 268.6,572.4 271,576.5 273.4,574 275,570 275.8,570.3 278.2,578.1 280.6,566.8 283,569.2 285.5,515 287.8,565 290.2,565.3 292.6,572.3 295,577.8 297.4,576.9 299.8,573.5 302.2,577.8 304.6,565.6 307,525.7 309.4,518.1 311.8,532.4 314.2,432.5 315,399.5 315.8,440 316.6,465.8 319,544.9 321.4,558.1 323.8,566.9 326.2,567.5 328.6,564.8 331,559.1 333.4,541 335.8,555.3 338.2,552.1 339.5,498.8 340.6,546.9 343,541.4 345,510 346.5,567.3 346.5,585.4 343.5,588.4 340.5,588.5 337.6,585.7 334.6,587 331.6,585.6 328.6,587.1 325.6,588.9 322.6,587 319.7,587 316.7,587.1 313.7,585.8 310.7,585.6 307.7,585.5 304.8,587 301.8,585.3 298.8,585.5 295.8,585.5 292.8,585.6 289.8,585.6 286.9,588.4 283.9,585.3 280.9,585.7 277.9,588.9 274.9,587.3 272,585.7 269,585.4 266,585.7 263,585.7 260,585.4 257,585.6 254.1,588.8 251.1,587 248.1,586.8 245.1,585.7 242.1,585.7 239.2,585.8 236.2,588.5 233.2,587.1 230.2,585.9 227.2,586.9 224.2,585.7 221.3,585.5 218.3,585.4 215.3,585.4 212.3,585.3 209.3,585.8 206.4,588.4 203.4,585.8 200.4,587.2 197.4,585.4 194.4,585.5 191.4,587.2 188.5,585.4 185.5,585.7 182.5,585.5 179.5,585.9 176.5,588.5 173.6,585.9 170.6,585.3 167.6,585.4 164.6,586.8 161.6,585.9 158.6,585.5 155.7,585.7 152.7,588.8 149.7,587.3 146.7,587.2 143.7,585.6 140.8,587 137.8,585.6 134.8,585.6 131.8,585.4 128.8,585.7 125.8,585.5 122.9,585.8 119.9,586.9 116.9,585.7 113.9,585.3 110.9,585.5 108,586.9 105,587.2 102,585.9" fill="#00ACFC" stroke="#00ACFC" stroke-width="2.5" stroke-linejoin="round"/>
<polygon points="425.3,564 427,550.1 429.4,563 431.8,556.1 434.2,572.5 436.6,577.1 439,556.7 441.4,564 443.8,579.5 446.2,582.3 448.6,579.6 451,559.1 453.4,560 455.8,560.5 458.2,572.8 460.6,568.9 463,542.4 465.4,574.1 467.8,571.8 470.2,574.3 472.6,557.9 475,534.8 477.4,489.5 479.8,493.8 482.2,494.1 484.6,566 487,568 489.4,575 491.8,563.4 494.2,568.9 496.6,560 499,569.8 501.4,578.7 503.8,556.5 506.2,573.5 508.6,553.8 511,560.2 513.4,565.5 515.8,572.9 518.2,577 520.6,570.4 523,579.4 525.4,551.2 527.8,546.5 530.2,517.9 532.6,526.7 535,518 537.4,499.3 539.8,553.4 542.2,560.5 544.6,574 547,576.8 549.4,563 551.8,542.6 554.2,545.2 556.6,545 559,540.4 561.4,552.6 563.8,572.7 566.2,582.5 568.6,563.2 571,579.6 573.4,573.1 575.8,576.5 578.2,568.9 580.6,564.7 583,567.2 585.4,572.3 587.8,579.2 590.2,558.8 592.6,572 595,572.2 597.4,581.7 599.8,563.1 602.2,571.6 604.6,567.3 607,554.3 609.4,568.7 611.8,563.1 614.2,543.4 616.6,565 619,572.5 621.4,583.2 623.8,580 626.2,561 628.6,568.6 631,555.9 633.4,574.6 635.8,544.7 638.2,551.5 640.6,557.9 643,564 645.4,571.2 647.8,564.4 650.2,552 652.6,516.7 655,543.2 657.4,442.3 659.8,489 662.2,494 664.6,570.1 667,565.7 669.4,563.8 669.9,555.2 669.9,586.9 425.3,586.9" fill="#F8766D" stroke="#F8766D" stroke-width="2.3" stroke-linejoin="round"/>
<polygon points="425.3,545.9 427.1,542 429.5,544.6 431.9,578.3 434.3,575.2 436.7,579 439.1,566 441.5,576.3 443.9,579.5 446.3,582.8 448.7,564.3 451.1,574.5 453.5,561.1 455.9,567 458.3,513.4 460.7,530.4 463.1,535.6 465.5,574.3 467.9,573.8 470.3,554.1 472.7,563.1 475.1,551 477.5,507.1 479.9,528.3 482.3,557.6 484.7,566 487.1,573.8 489.5,571.1 491.9,570.7 494.3,578.3 496.7,576.6 499.1,574.4 501.5,575.6 503.9,569.5 506.3,544.5 508.7,545.7 511.1,566.1 513.5,564.4 515.9,565.6 518.3,561.6 520.7,574 523.1,548.1 525.5,560.3 527.9,558.5 530.3,528.4 532.7,525.7 535.1,487.7 537.5,557.3 539.9,554 542.3,567.5 544.7,555.3 547.1,577.5 549.5,557.3 551.9,560.7 554.3,509.2 556.7,539.7 559.1,555.6 561.5,556 563.9,571.1 566.3,573.5 568.7,570.1 571.1,572.1 573.5,562.1 575.9,573.4 578.3,563.4 580.7,580.8 583.1,568.7 585.5,559.2 587.9,561.3 590.3,556.2 592.7,569.6 595.1,569.1 597.5,562.4 599.9,576 602.3,561.3 604.7,571.5 607.1,573.4 609.5,559.3 611.9,562.9 614.3,562.8 616.7,556.2 619.1,575.1 621.5,574.4 623.9,577.9 626.3,574 628.7,540.2 631.1,545.9 633.5,527.8 635.9,532.6 638.3,561.4 640.7,559.3 643.1,561.4 645.5,570.6 647.9,564.2 650.3,568.7 652.7,571.4 655.1,559.1 657.5,484.9 659.9,560.6 662.3,563.3 664.7,569.1 667.1,572.3 669.5,569.3 669.9,560.3 669.9,587.2 425.3,587.2" fill="#F07F4A" stroke="#F07F4A" stroke-width="2.3" stroke-linejoin="round"/>
<polygon points="425.3,573 426.1,559.7 428.5,561 430.9,570.6 433.3,579 435.7,575.2 438.1,576 440.5,570.4 442.9,577.5 445.3,581 447.7,576.4 450.1,575 452.5,578 454.9,564.1 457.3,571.5 459.7,554.2 462.1,541.3 464.5,565.2 466.9,572 469.3,576.3 471.7,577.9 474.1,575.9 476.5,570.6 478.9,563.7 481.3,562.7 483.7,569.9 486.1,567.9 488.5,578.8 490.9,578.3 493.3,581.4 495.7,572.7 498.1,564.3 500.5,574.7 502.9,575.9 505.3,567 507.7,568.4 510.1,569.9 512.5,567.3 514.9,546.2 517.3,572.9 519.7,576.9 522.1,565 524.5,568 526.9,520.5 529.3,537.5 531.7,495.5 534.1,485.2 536.5,545.9 538.9,558.1 541.3,523.5 543.7,569.7 546.1,573.3 548.5,558.6 550.9,545 553.3,546.6 555.7,486.6 558.1,505.8 560.5,533.6 562.9,570.1 565.3,575.9 567.7,567.7 570.1,580.4 572.5,574.8 574.9,571.6 577.3,558.5 579.7,557.5 582.1,561.4 584.5,547.3 586.9,557.8 589.3,579.7 591.7,574.8 594.1,576.9 596.5,579.1 598.9,581 601.3,560.7 603.7,568 606.1,564.8 608.5,533.7 610.9,544 613.3,552.7 615.7,557.5 618.1,551.1 620.5,579.5 622.9,575.3 625.3,578.4 627.7,564.5 630.1,543.4 632.5,542.1 634.9,532.9 637.3,526.3 639.7,560.5 642.1,567.4 644.5,575.5 646.9,580.3 649.3,573.8 651.7,530.3 654.1,479.9 656.5,426.6 658.9,523.5 661.3,489.6 663.7,527.9 666.1,556 668.5,579.5 669.9,578.2 669.9,587.2 425.3,587.2" fill="#E58700" stroke="#E58700" stroke-width="2.3" stroke-linejoin="round"/>
<polygon points="425.3,551.6 427.1,558.7 429.5,557 431.9,578.9 434.3,574 436.7,564.2 439.1,577.7 441.5,573.3 443.9,578.4 446.3,560.9 448.7,572.4 451.1,559.5 453.5,565 455.9,550.1 458.3,548.4 460.7,558.7 463.1,528.6 465.5,566.5 467.9,570.2 470.3,550.9 472.7,546 475.1,498.5 477.5,548.6 479.9,517 482.3,563.5 484.7,572.2 487.1,569.9 489.5,578.5 491.9,575.2 494.3,577.8 496.7,556.1 499.1,572.5 501.5,574.1 503.9,556.5 506.3,568.7 508.7,549.2 511.1,566.7 513.5,572.2 515.9,568.9 518.3,575.9 520.7,559.3 523.1,579.4 525.5,567.4 527.9,565.9 530.3,556.3 532.7,472.9 535.1,515.9 537.5,544.9 539.9,553.6 542.3,565.2 544.7,576 547.1,579.5 549.5,574.8 551.9,556.9 554.3,537.2 556.7,552.3 559.1,549.1 561.5,574.6 563.9,566.6 566.3,575.2 568.7,578 571.1,581 573.5,578.3 575.9,578.8 578.3,581.3 580.7,571 583.1,577.5 585.5,574.8 587.9,568 590.3,580.2 592.7,579 595.1,560.8 597.5,566.1 599.9,572.1 602.3,575.8 604.7,567.8 607.1,563.5 609.5,563.6 611.9,544.6 614.3,541.9 616.7,555.9 619.1,562.3 621.5,563.2 623.9,576.2 626.3,570.5 628.7,557.2 631.1,532.6 633.5,539.2 635.9,506.5 638.3,558.8 640.7,549.2 643.1,578.1 645.5,574.1 647.9,565.6 650.3,566.9 652.7,535.1 655.1,553.6 657.5,549 659.9,474 662.3,557 664.7,563.4 667.1,564 669.5,562.9 669.9,570.3 669.9,586.8 425.3,586.8" fill="#CD9600" stroke="#CD9600" stroke-width="2.3" stroke-linejoin="round"/>
<path d="M432 586.1V535.5" stroke="#F8766D" stroke-width="2.6" stroke-linecap="round" fill="none"/>
<path d="M439 586.1V566.3" stroke="#F8766D" stroke-width="2.6" stroke-linecap="round" fill="none"/>
<path d="M449 586.1V553.8" stroke="#F8766D" stroke-width="2.6" stroke-linecap="round" fill="none"/>
<path d="M469 586.1V566.3" stroke="#F8766D" stroke-width="2.6" stroke-linecap="round" fill="none"/>
<path d="M497.8 586.1V535.8" stroke="#F8766D" stroke-width="2.6" stroke-linecap="round" fill="none"/>
<path d="M500.8 586.1V505.8" stroke="#F8766D" stroke-width="2.6" stroke-linecap="round" fill="none"/>
<path d="M503.5 586.1V546.3" stroke="#F8766D" stroke-width="2.6" stroke-linecap="round" fill="none"/>
<path d="M517.8 586.1V553.8" stroke="#F8766D" stroke-width="2.6" stroke-linecap="round" fill="none"/>
<path d="M520.5 586.1V524.8" stroke="#F8766D" stroke-width="2.6" stroke-linecap="round" fill="none"/>
<path d="M526 586.1V547.5" stroke="#F8766D" stroke-width="2.6" stroke-linecap="round" fill="none"/>
<path d="M540.2 586.1V543.8" stroke="#F8766D" stroke-width="2.6" stroke-linecap="round" fill="none"/>
<path d="M543.2 586.1V550" stroke="#F8766D" stroke-width="2.6" stroke-linecap="round" fill="none"/>
<path d="M575.2 586.1V566.3" stroke="#F8766D" stroke-width="2.6" stroke-linecap="round" fill="none"/>
<path d="M581 586.1V551.8" stroke="#F8766D" stroke-width="2.6" stroke-linecap="round" fill="none"/>
<path d="M587.2 586.1V542.5" stroke="#F8766D" stroke-width="2.6" stroke-linecap="round" fill="none"/>
<path d="M589.5 586.1V551.3" stroke="#F8766D" stroke-width="2.6" stroke-linecap="round" fill="none"/>
<path d="M596.5 586.1V571.3" stroke="#F8766D" stroke-width="2.6" stroke-linecap="round" fill="none"/>
<path d="M605.2 586.1V553.8" stroke="#F8766D" stroke-width="2.6" stroke-linecap="round" fill="none"/>
<path d="M607.2 586.1V524.8" stroke="#F8766D" stroke-width="2.6" stroke-linecap="round" fill="none"/>
<path d="M610.2 586.1V546.3" stroke="#F8766D" stroke-width="2.6" stroke-linecap="round" fill="none"/>
<path d="M619.5 586.1V535.5" stroke="#F8766D" stroke-width="2.6" stroke-linecap="round" fill="none"/>
<path d="M626 586.1V549.3" stroke="#F8766D" stroke-width="2.6" stroke-linecap="round" fill="none"/>
<path d="M646.5 586.1V561.3" stroke="#F8766D" stroke-width="2.6" stroke-linecap="round" fill="none"/>
<path d="M652.8 586.1V467.1" stroke="#F8766D" stroke-width="2.6" stroke-linecap="round" fill="none"/>
<path d="M665.2 586.1V510.8" stroke="#F8766D" stroke-width="2.6" stroke-linecap="round" fill="none"/>
<path d="M667.8 586.1V546.3" stroke="#F8766D" stroke-width="2.6" stroke-linecap="round" fill="none"/>
<path d="M670.2 586.1V567.5" stroke="#F8766D" stroke-width="2.6" stroke-linecap="round" fill="none"/>
<path d="M456 586.1V504.6" stroke="#F07F4A" stroke-width="2.6" stroke-linecap="round" fill="none"/>
<path d="M529 586.1V486.8" stroke="#F07F4A" stroke-width="2.6" stroke-linecap="round" fill="none"/>
<path d="M556.8 586.1V450.8" stroke="#F07F4A" stroke-width="2.6" stroke-linecap="round" fill="none"/>
<path d="M639.5 586.1V508.8" stroke="#F07F4A" stroke-width="2.6" stroke-linecap="round" fill="none"/>
<path d="M659 586.1V399.3" stroke="#F07F4A" stroke-width="2.6" stroke-linecap="round" fill="none"/>
<path d="M429.8 586.1V520.5" stroke="#E58700" stroke-width="2.6" stroke-linecap="round" fill="none"/>
<path d="M434 586.1V534.3" stroke="#E58700" stroke-width="2.6" stroke-linecap="round" fill="none"/>
<path d="M436 586.1V546.3" stroke="#E58700" stroke-width="2.6" stroke-linecap="round" fill="none"/>
<path d="M486.5 586.1V511.3" stroke="#E58700" stroke-width="2.6" stroke-linecap="round" fill="none"/>
<path d="M511 586.1V521.3" stroke="#E58700" stroke-width="2.6" stroke-linecap="round" fill="none"/>
<path d="M533.2 586.1V479.3" stroke="#E58700" stroke-width="2.6" stroke-linecap="round" fill="none"/>
<path d="M554.5 586.1V488.8" stroke="#E58700" stroke-width="2.6" stroke-linecap="round" fill="none"/>
<path d="M560.2 586.1V505.1" stroke="#E58700" stroke-width="2.6" stroke-linecap="round" fill="none"/>
<path d="M570.2 586.1V570" stroke="#E58700" stroke-width="2.6" stroke-linecap="round" fill="none"/>
<path d="M614 586.1V526.3" stroke="#E58700" stroke-width="2.6" stroke-linecap="round" fill="none"/>
<path d="M635.2 586.1V518.8" stroke="#E58700" stroke-width="2.6" stroke-linecap="round" fill="none"/>
<path d="M655.2 586.1V431.3" stroke="#E58700" stroke-width="2.6" stroke-linecap="round" fill="none"/>
<path d="M484.5 586.1V486.8" stroke="#DE8C00" stroke-width="2.6" stroke-linecap="round" fill="none"/>
<path d="M657 586.1V393.8" stroke="#DE8C00" stroke-width="2.6" stroke-linecap="round" fill="none"/>
<path d="M481 586.1V463.8" stroke="#B79F00" stroke-width="2.6" stroke-linecap="round" fill="none"/>
<polygon points="425.3,565.2 425.8,558.9 427.8,521.2 430.6,567.9 433,572.9 435.4,573 437.8,580.4 440.2,581.4 442.6,581.2 445,577.8 447.4,578 449.8,577 452.2,568.1 454.6,557.8 457,558.6 457.8,525 459,515 461.8,562.2 464,545 466.6,577.6 469,574.9 471.4,569.1 473.8,559.5 476.2,551.7 478.6,537.9 479.5,480 480.2,465 481,480 483.4,549.1 485.8,552.2 488.2,573.7 490.6,577 493,581.4 495.4,582.7 497.8,579.5 500.2,572.5 502.6,560.9 505,550.5 507.4,546.4 508.2,520 509,475 509.8,520 512.2,563.8 514.6,557.6 517,575.6 519.4,578.2 521.8,579.9 524.2,568.2 526.6,556.1 529,532.5 531.4,550.7 533.8,545.2 535.2,485 536,470.8 536.8,490 538.6,563.7 541,554.4 543.4,567.5 545.8,577.2 548.2,579 550.6,561.1 553,535.8 555.4,544.3 556.5,490 557.8,525.7 560.2,545.4 562.6,556.3 565,574.1 567.4,576.1 570.2,570 572.2,573.3 574.6,578.2 577,578 579.4,579.6 581.8,579.3 584.2,574.1 586.5,562.5 589,569.3 591.4,581.2 593.8,577.1 596.2,581.7 598.6,581.2 601.5,565 603.4,576.2 605.8,565.2 608.2,568.3 610.6,571 613,565.9 614,540 615.4,571 617.8,574.4 620.2,578.6 622.6,580.8 625,574.3 627.4,574 629.8,563.6 632.2,561.6 634.6,563.1 637,538.1 639,525 641.8,571 644.2,578.1 646.6,570.7 649,573.8 651.4,544.7 653.8,500.2 656.2,530.8 657.2,427.5 658.6,456.7 661,532.8 663.4,536.9 665.8,561.1 668.2,576.2 669.9,569.5 669.9,586.1 666.9,587.3 663.9,589.1 660.9,585.9 657.9,585.8 654.9,586.2 652,587.5 649,587.7 646,587.8 643,586.4 640,587.6 637,589.4 634.1,585.8 631.1,587.3 628.1,586.4 625.1,586 622.1,585.8 619.2,586 616.2,589.4 613.2,586.4 610.2,586.2 607.2,587.5 604.2,586.1 601.3,586.1 598.3,585.8 595.3,587.3 592.3,588.8 589.3,586.4 586.4,586.3 583.4,587.7 580.4,586.3 577.4,587.4 574.4,585.9 571.4,587.6 568.5,586.4 565.5,586 562.5,586 559.5,586.2 556.5,586.4 553.6,586.4 550.6,586.1 547.6,589 544.6,585.8 541.6,585.9 538.6,587.7 535.7,585.9 532.7,586.1 529.7,589 526.7,586.1 523.7,585.8 520.8,586.2 517.8,587.5 514.8,586.3 511.8,586.1 508.8,586.1 505.8,586 502.9,586.2 499.9,586.2 496.9,586 493.9,586.1 490.9,586 488,587.6 485,585.9 482,586.1 479,586.2 476,585.8 473,586.1 470.1,586.4 467.1,586.2 464.1,586.3 461.1,587.7 458.1,586.1 455.2,586.1 452.2,585.9 449.2,589.2 446.2,587.3 443.2,586.1 440.2,587.4 437.3,587.4 434.3,587.8 431.3,586 428.3,587.8 425.3,585.9" fill="#ACA000" stroke="#ACA000" stroke-width="2.5" stroke-linejoin="round"/>
<polygon points="748.7,522.7 750.8,536.9 753.2,541.1 755.6,504.5 758,555.8 760.4,563.5 762.8,559.4 765.2,573.6 767.6,573.5 770,558.5 772.4,562.5 774.8,546.9 777.2,571.7 779.6,539.9 782,563.8 784.4,560.1 786.8,561.8 789.2,571.7 791.6,567.2 794,519.9 796.4,552.4 798.8,524.8 801.2,469.9 803.6,548 806,461.2 808.4,506.6 810.8,518.3 813.2,558.9 815.6,573 818,560.3 820.4,553 822.8,573.2 825.2,531 827.6,569.3 830,560.4 832.4,542 834.8,551.6 837.2,546.9 839.6,545.2 842,576.6 844.4,575.8 846.8,565.1 849.2,542.6 851.6,557.2 854,546.2 856.4,563 858.8,559.8 861.2,568.3 863.6,569.8 866,549.2 868.4,573.7 870.8,558 873.2,549.7 875.6,545.2 878,556.5 880.4,551 882.8,554.7 885.2,564.5 887.6,561.3 890,575 892.4,576.4 894.8,570.7 897.2,551.8 899.6,570.6 902,550.6 904.4,572.9 906.8,558.1 909.2,565.4 911.6,559.1 914,560.8 916.4,565.9 918.8,557.7 921.2,578 923.6,561.2 926,573.6 928.4,538.6 930.8,554.2 933.2,514.6 935.6,537.2 938,565.1 940.4,560.2 942.8,551.1 945.2,567.2 947.6,550.9 950,521.6 952.4,527.9 954.8,536.7 957.2,486 959.6,548.1 962,511.6 964.4,546.9 966.8,567.3 969.2,577.8 971.6,577.2 974,565.9 976.4,568.5 978.8,536.5 981.2,507 983.6,557.3 986,546 988.4,561.6 990.8,571.2 993.2,579.7 993.2,586.3 748.7,586.3" fill="#F8766D" stroke="#F8766D" stroke-width="2.3" stroke-linejoin="round"/>
<polygon points="748.7,547 750.5,561.6 752.9,553.9 755.3,555 757.7,544 760.1,544.5 762.5,567.5 764.9,572.3 767.3,570.6 769.7,578.6 772.1,567.5 774.5,535.5 776.9,527.9 779.3,530.7 781.7,532.7 784.1,561.7 786.5,550.2 788.9,559 791.3,546.3 793.7,498.8 796.1,472.9 798.5,518.9 800.9,530.8 803.3,501.1 805.7,520.7 808.1,488.2 810.5,525.9 812.9,563.5 815.3,578.8 817.7,565 820.1,579.1 822.5,559 824.9,535.1 827.3,545.5 829.7,556.7 832.1,561.9 834.5,497.2 836.9,548.7 839.3,569.2 841.7,572.6 844.1,553.1 846.5,569.3 848.9,566.9 851.3,549.2 853.7,557.5 856.1,565.2 858.5,548.8 860.9,549.6 863.3,560.9 865.7,550 868.1,558.6 870.5,561.1 872.9,559.1 875.3,554.9 877.7,543.5 880.1,543.2 882.5,540 884.9,561.6 887.3,530.4 889.7,566.4 892.1,578.7 894.5,581.7 896.9,576.3 899.3,551.7 901.7,543.7 904.1,529.8 906.5,511.6 908.9,534.8 911.3,566.9 913.7,576.8 916.1,569.1 918.5,570.3 920.9,580.7 923.3,576.3 925.7,576.1 928.1,557.3 930.5,547 932.9,517.2 935.3,533.9 937.7,561.8 940.1,571.4 942.5,551.5 944.9,576.6 947.3,553.6 949.7,535.5 952.1,491.6 954.5,515.1 956.9,558 959.3,510.2 961.7,520.4 964.1,569.1 966.5,550.3 968.9,559.5 971.3,573.2 973.7,568.1 976.1,571.7 978.5,553.5 980.9,560.6 983.3,512.3 985.7,528.9 988.1,559.2 990.5,560.4 992.9,561.2 993.2,575 993.2,585.6 748.7,585.6" fill="#E58700" stroke="#E58700" stroke-width="2.3" stroke-linejoin="round"/>
<polygon points="748.7,546.5 749.6,504.4 752,564.4 754.4,540.8 756.8,551.6 759.2,508.2 761.6,530.4 764,560.6 766.4,571.9 768.8,545.3 771.2,554.8 773.6,552.5 776,556.5 778.4,514.4 780.8,532.2 783.2,559.7 785.6,538.3 788,541.8 790.4,535.6 792.8,561.7 795.2,508.2 797.6,474.5 800,520.3 802.4,528.6 804.8,525.3 807.2,556.4 809.6,562.2 812,550.7 814.4,547.4 816.8,568.2 819.2,550.1 821.6,564.6 824,565.7 826.4,572 828.8,576.8 831.2,562.4 833.6,568.6 836,559.8 838.4,565.6 840.8,562.6 843.2,567 845.6,572.1 848,575.3 850.4,552.3 852.8,534.3 855.2,550.1 857.6,529.1 860,549.5 862.4,551.6 864.8,548.8 867.2,519.7 869.6,561.8 872,555.1 874.4,510.1 876.8,561.2 879.2,547.1 881.6,552.3 884,559.9 886.4,569.3 888.8,565 891.2,567 893.6,579.2 896,568.8 898.4,555.1 900.8,567.8 903.2,558 905.6,548.6 908,535.4 910.4,561.6 912.8,557 915.2,568.4 917.6,567.4 920,567.8 922.4,578.1 924.8,572.5 927.2,536.1 929.6,563.2 932,547.4 934.4,541.5 936.8,542.3 939.2,571.3 941.6,574.4 944,573.6 946.4,573 948.8,561.9 951.2,497.2 953.6,549.8 956,544 958.4,557.5 960.8,537.9 963.2,562.8 965.6,541.8 968,529.2 970.4,578.5 972.8,581.3 975.2,578.8 977.6,538.5 980,516.6 982.4,544 984.8,486.1 987.2,546 989.6,550.2 992,562.5 993.2,571.8 993.2,585.6 748.7,585.6" fill="#CD9600" stroke="#CD9600" stroke-width="2.3" stroke-linejoin="round"/>
<polygon points="748.7,567.6 749,561.3 751.4,561.6 753.8,575.1 756.2,549.2 758.6,560.8 761,571.4 763.4,559.9 765.8,577.7 768.2,569.3 770.6,559.4 773,533.2 775.4,561.9 777.8,566.3 780.2,540.6 782.6,541.9 785,566.7 787.4,551.7 789.8,549.9 792.2,533.7 794.6,560.5 797,530.7 799.4,525.5 801.8,453.7 804.2,438.1 806.6,492.5 809,506.5 811.4,550.9 813.8,566.9 816.2,557.1 818.6,561.1 821,572.2 823.4,555 825.8,506.3 828.2,549.3 830.6,499.5 833,534.3 835.4,542.5 837.8,568.2 840.2,561.8 842.6,569.1 845,562.3 847.4,568.7 849.8,543.8 852.2,548 854.6,541.5 857,550.9 859.4,519.3 861.8,551.9 864.2,559.4 866.6,551.8 869,572.6 871.4,565.2 873.8,575.7 876.2,559 878.6,529.3 881,519.8 883.4,554.9 885.8,553.1 888.2,567.6 890.6,574.8 893,572.6 895.4,564.3 897.8,575.2 900.2,580.3 902.6,563.8 905,558.6 907.4,532.7 909.8,539.3 912.2,572.9 914.6,575.2 917,580.9 919.4,575 921.8,579.9 924.2,565.6 926.6,556.6 929,539.9 931.4,544.6 933.8,540.9 936.2,567.4 938.6,557.5 941,553.3 943.4,569.8 945.8,579.6 948.2,547 950.6,554.6 953,539.9 955.4,548.4 957.8,558.6 960.2,549.1 962.6,535.9 965,529.1 967.4,555.1 969.8,565.2 972.2,554.6 974.6,565.8 977,562.8 979.4,550.9 981.8,497 984.2,495.7 986.6,543.2 989,531.9 991.4,558.6 993.2,570.1 993.2,585.9 748.7,585.9" fill="#93AA00" stroke="#93AA00" stroke-width="2.3" stroke-linejoin="round"/>
<polygon points="748.7,571.6 750.1,568.7 752.5,547.6 754.9,570 757.3,505.6 759.7,555.5 762.1,549.6 764.5,552.3 766.9,572 769.3,565.5 771.7,561.6 774.1,560.5 776.5,549.9 778.9,545.5 781.3,538.2 783.7,559.2 786.1,572.4 788.5,548.9 790.9,518.6 793.3,532.9 795.7,553.6 798.1,534.7 800.5,534.7 802.9,529.1 805.3,543.9 807.7,516.4 810.1,527.9 812.5,571.8 814.9,563.2 817.3,574.7 819.7,557.8 822.1,562.6 824.5,558.6 826.9,547.7 829.3,573.6 831.7,555.3 834.1,568.5 836.5,548.9 838.9,558.1 841.3,570.3 843.7,571.9 846.1,566.8 848.5,543.6 850.9,536 853.3,519.8 855.7,552 858.1,530 860.5,556.2 862.9,542.3 865.3,572.9 867.7,566.1 870.1,571.1 872.5,552.9 874.9,573.8 877.3,534.4 879.7,560.8 882.1,543.8 884.5,556.2 886.9,576.7 889.3,571.5 891.7,574.1 894.1,574.2 896.5,578.9 898.9,560.3 901.3,539 903.7,528.7 906.1,555.2 908.5,570.4 910.9,574.5 913.3,578.8 915.7,565.9 918.1,579.5 920.5,575.8 922.9,577.1 925.3,568.3 927.7,573.5 930.1,541.2 932.5,545.9 934.9,571.5 937.3,558.9 939.7,562.4 942.1,564.6 944.5,563.7 946.9,565.5 949.3,565.8 951.7,554.8 954.1,571.4 956.5,545.4 958.9,553.1 961.3,533.1 963.7,541.3 966.1,529.9 968.5,550.4 970.9,559.8 973.3,571.6 975.7,558 978.1,554 980.5,535.7 982.9,499.9 985.3,513.5 987.7,558 990.1,561 992.5,554.1 993.2,566.9 993.2,585.9 748.7,585.9" fill="#39B600" stroke="#39B600" stroke-width="2.3" stroke-linejoin="round"/>
<polygon points="748.7,539.6 749.5,534.6 751.9,557.1 754.3,520.6 756.7,558.1 759.1,552 761.5,548.2 763.9,541.2 766.3,576.1 768.7,571.5 771.1,576.6 773.5,574 775.9,553.2 778.3,560.7 780.7,571.5 783.1,555.7 785.5,571.2 787.9,578.1 790.3,576.4 792.7,560.2 795.1,542.6 797.5,515.4 799.9,482.8 802.3,549.3 804.7,566.2 807.1,565.1 809.5,532.2 811.9,545.8 814.3,565.6 816.7,558.7 819.1,577.1 821.5,555.1 823.9,553.6 826.3,525.3 828.7,570.5 831.1,564.7 833.5,561.4 835.9,566.6 838.3,577.2 840.7,566.3 843.1,569.1 845.5,557.1 847.9,551.9 850.3,507.5 852.7,496.9 855.1,555.1 857.5,554.4 859.9,567.8 862.3,540.2 864.7,555.4 867.1,562 869.5,568.1 871.9,542.2 874.3,533.3 876.7,538.2 879.1,540.7 881.5,529.8 883.9,529.2 886.3,532.8 888.7,565.1 891.1,564.8 893.5,564.1 895.9,579.3 898.3,574.7 900.7,572.3 903.1,538.8 905.5,549.2 907.9,571.5 910.3,568.6 912.7,570.1 915.1,558.5 917.5,572.7 919.9,577.4 922.3,578.8 924.7,563.6 927.1,556.2 929.5,542.2 931.9,539.7 934.3,549.5 936.7,545.8 939.1,575.8 941.5,559.1 943.9,581.9 946.3,573.7 948.7,530 951.1,552.3 953.5,540.9 955.9,560.1 958.3,510.3 960.7,488.9 963.1,560.8 965.5,571 967.9,554 970.3,571.6 972.7,579.2 975.1,564.7 977.5,541.1 979.9,563.6 982.3,539 984.7,522.8 987.1,543.2 989.5,559.7 991.9,565.6 993.2,563.8 993.2,586.2 748.7,586.2" fill="#00BA38" stroke="#00BA38" stroke-width="2.3" stroke-linejoin="round"/>
<polygon points="748.7,559.6 750.6,544.7 753,569.7 755.4,569 757.8,555 760.2,557.5 762.6,543 765,573.5 767.4,567.9 769.8,575.8 772.2,551.7 774.6,549.6 777,543.4 779.4,521.2 781.8,546.9 784.2,550.1 786.6,571.4 789,575.3 791.4,576.4 793.8,573.1 796.2,562.1 798.6,518.7 801,507.6 803.4,442.9 805.8,507.8 808.2,549.9 810.6,554.3 813,536.6 815.4,546 817.8,570 820.2,578.4 822.6,568.2 825,542.7 827.4,552.7 829.8,562.9 832.2,556.7 834.6,566.9 837,548.5 839.4,549.4 841.8,566.6 844.2,573.9 846.6,570.4 849,575.1 851.4,566.9 853.8,571.1 856.2,555.4 858.6,520.2 861,534.6 863.4,557.6 865.8,551.9 868.2,556.4 870.6,562.8 873,560.2 875.4,519.9 877.8,548.2 880.2,489 882.6,530.4 885,569.6 887.4,549.5 889.8,572.9 892.2,566.5 894.6,578.1 897,574.4 899.4,574.2 901.8,572.1 904.2,573.7 906.6,564.2 909,534.9 911.4,565.6 913.8,572.7 916.2,572.5 918.6,575.4 921,575.4 923.4,577.3 925.8,572.3 928.2,551.4 930.6,535.8 933,531.4 935.4,563.8 937.8,570.7 940.2,567.9 942.6,563.8 945,562.2 947.4,564.1 949.8,513.5 952.2,555.8 954.6,545.6 957,527.3 959.4,525.1 961.8,490.4 964.2,557.6 966.6,547.1 969,561.8 971.4,568.6 973.8,581.7 976.2,574.3 978.6,541.3 981,552.7 983.4,563.5 985.8,562.7 988.2,533.2 990.6,551 993.2,563.5 993.2,586.3 748.7,586.3" fill="#00C08B" stroke="#00C08B" stroke-width="2.3" stroke-linejoin="round"/>
<polygon points="748.7,537.7 750.6,545 753,557.2 755.4,547.8 757.8,521.6 760.2,549.6 762.6,560.4 765,559.1 767.4,575.1 769.8,549.1 772.2,560.2 774.6,550.6 777,544.5 779.4,559.1 781.8,552.1 784.2,557.8 786.6,557 789,550.6 791.4,556.7 793.8,532 796.2,553.3 798.6,551.3 801,494.5 803.4,529.9 805.8,504.5 808.2,541.6 810.6,564.9 813,574.3 815.4,558.5 817.8,578.4 820.2,576.2 822.6,571.8 825,547.9 827.4,570.6 829.8,571.1 832.2,523.9 834.6,532.7 837,571.6 839.4,553.1 841.8,576.7 844.2,577.2 846.6,579 849,570.1 851.4,547.8 853.8,546.2 856.2,551.2 858.6,539.1 861,558.2 863.4,525.1 865.8,572.5 868.2,566.4 870.6,568.2 873,548.6 875.4,562.4 877.8,543.9 880.2,564.8 882.6,561 885,560.5 887.4,553.2 889.8,562.6 892.2,562 894.6,573.5 897,562.1 899.4,557.9 901.8,533 904.2,550.2 906.6,540.2 909,534 911.4,550.1 913.8,551.3 916.2,558 918.6,574.3 921,574.6 923.4,582.1 925.8,563 928.2,537.3 930.6,571.5 933,547.6 935.4,559.8 937.8,556.6 940.2,570.2 942.6,560.9 945,574.7 947.4,560.4 949.8,567 952.2,527.9 954.6,528.2 957,542.4 959.4,509 961.8,533.9 964.2,538 966.6,562.3 969,565 971.4,576.3 973.8,554.7 976.2,568.8 978.6,547.8 981,484.4 983.4,552.2 985.8,527.9 988.2,530.3 990.6,570.6 993.2,570.6 993.2,585.6 748.7,585.6" fill="#00BFC4" stroke="#00BFC4" stroke-width="2.3" stroke-linejoin="round"/>
<path d="M775 585.1V533.8" stroke="#F8766D" stroke-width="2.6" stroke-linecap="round" fill="none"/>
<path d="M780.5 585.1V528.3" stroke="#F8766D" stroke-width="2.6" stroke-linecap="round" fill="none"/>
<path d="M808.5 585.1V420.8" stroke="#F8766D" stroke-width="2.6" stroke-linecap="round" fill="none"/>
<path d="M890.5 585.1V538.8" stroke="#F8766D" stroke-width="2.6" stroke-linecap="round" fill="none"/>
<path d="M899.2 585.1V553.8" stroke="#F8766D" stroke-width="2.6" stroke-linecap="round" fill="none"/>
<path d="M905 585.1V493.1" stroke="#F8766D" stroke-width="2.6" stroke-linecap="round" fill="none"/>
<path d="M911.8 585.1V546.3" stroke="#F8766D" stroke-width="2.6" stroke-linecap="round" fill="none"/>
<path d="M968 585.1V485.1" stroke="#F8766D" stroke-width="2.6" stroke-linecap="round" fill="none"/>
<path d="M974.2 585.1V556.3" stroke="#F8766D" stroke-width="2.6" stroke-linecap="round" fill="none"/>
<path d="M977.5 585.1V533.8" stroke="#F8766D" stroke-width="2.6" stroke-linecap="round" fill="none"/>
<path d="M752.5 585.1V465.8" stroke="#E58700" stroke-width="2.6" stroke-linecap="round" fill="none"/>
<path d="M755 585.1V474.6" stroke="#E58700" stroke-width="2.6" stroke-linecap="round" fill="none"/>
<path d="M761.2 585.1V527.5" stroke="#E58700" stroke-width="2.6" stroke-linecap="round" fill="none"/>
<path d="M764.2 585.1V526.8" stroke="#E58700" stroke-width="2.6" stroke-linecap="round" fill="none"/>
<path d="M768 585.1V563.8" stroke="#E58700" stroke-width="2.6" stroke-linecap="round" fill="none"/>
<path d="M790.5 585.1V516.3" stroke="#E58700" stroke-width="2.6" stroke-linecap="round" fill="none"/>
<path d="M792.5 585.1V517.5" stroke="#E58700" stroke-width="2.6" stroke-linecap="round" fill="none"/>
<path d="M795.5 585.1V491.3" stroke="#E58700" stroke-width="2.6" stroke-linecap="round" fill="none"/>
<path d="M815.5 585.1V444.6" stroke="#E58700" stroke-width="2.6" stroke-linecap="round" fill="none"/>
<path d="M819.2 585.1V528.8" stroke="#E58700" stroke-width="2.6" stroke-linecap="round" fill="none"/>
<path d="M823 585.1V535" stroke="#E58700" stroke-width="2.6" stroke-linecap="round" fill="none"/>
<path d="M879.2 585.1V496.3" stroke="#E58700" stroke-width="2.6" stroke-linecap="round" fill="none"/>
<path d="M918 585.1V556.3" stroke="#E58700" stroke-width="2.6" stroke-linecap="round" fill="none"/>
<path d="M921.2 585.1V570" stroke="#E58700" stroke-width="2.6" stroke-linecap="round" fill="none"/>
<path d="M944.2 585.1V515" stroke="#E58700" stroke-width="2.6" stroke-linecap="round" fill="none"/>
<path d="M984.8 585.1V513.8" stroke="#E58700" stroke-width="2.6" stroke-linecap="round" fill="none"/>
<path d="M989.2 585.1V508.3" stroke="#E58700" stroke-width="2.6" stroke-linecap="round" fill="none"/>
<path d="M749.2 585.1V510.1" stroke="#CD9600" stroke-width="2.6" stroke-linecap="round" fill="none"/>
<path d="M845 585.1V545" stroke="#CD9600" stroke-width="2.6" stroke-linecap="round" fill="none"/>
<path d="M870.5 585.1V543.8" stroke="#CD9600" stroke-width="2.6" stroke-linecap="round" fill="none"/>
<path d="M893 585.1V566.3" stroke="#CD9600" stroke-width="2.6" stroke-linecap="round" fill="none"/>
<path d="M993.8 585.1V556.3" stroke="#CD9600" stroke-width="2.6" stroke-linecap="round" fill="none"/>
<path d="M803.5 585.1V394.3" stroke="#B79F00" stroke-width="2.6" stroke-linecap="round" fill="none"/>
<path d="M805.5 585.1V398.8" stroke="#B79F00" stroke-width="2.6" stroke-linecap="round" fill="none"/>
<path d="M907.5 585.1V448.8" stroke="#B79F00" stroke-width="2.6" stroke-linecap="round" fill="none"/>
<path d="M756.8 585.1V486.3" stroke="#93AA00" stroke-width="2.6" stroke-linecap="round" fill="none"/>
<path d="M777.2 585.1V512.5" stroke="#93AA00" stroke-width="2.6" stroke-linecap="round" fill="none"/>
<path d="M783.5 585.1V517.5" stroke="#93AA00" stroke-width="2.6" stroke-linecap="round" fill="none"/>
<path d="M816.8 585.1V511.3" stroke="#93AA00" stroke-width="2.6" stroke-linecap="round" fill="none"/>
<path d="M827.5 585.1V537.5" stroke="#93AA00" stroke-width="2.6" stroke-linecap="round" fill="none"/>
<path d="M833.8 585.1V519.3" stroke="#93AA00" stroke-width="2.6" stroke-linecap="round" fill="none"/>
<path d="M842.2 585.1V538" stroke="#93AA00" stroke-width="2.6" stroke-linecap="round" fill="none"/>
<path d="M945.5 585.1V536.3" stroke="#93AA00" stroke-width="2.6" stroke-linecap="round" fill="none"/>
<path d="M961 585.1V451.8" stroke="#93AA00" stroke-width="2.6" stroke-linecap="round" fill="none"/>
<path d="M963 585.1V446.3" stroke="#93AA00" stroke-width="2.6" stroke-linecap="round" fill="none"/>
<path d="M991.8 585.1V528.8" stroke="#93AA00" stroke-width="2.6" stroke-linecap="round" fill="none"/>
<path d="M941 585.1V508.3" stroke="#6BB100" stroke-width="2.6" stroke-linecap="round" fill="none"/>
<path d="M786.8 585.1V526.3" stroke="#00BA38" stroke-width="2.6" stroke-linecap="round" fill="none"/>
<path d="M862.2 585.1V513.8" stroke="#00BA38" stroke-width="2.6" stroke-linecap="round" fill="none"/>
<path d="M886.8 585.1V502.1" stroke="#00BA38" stroke-width="2.6" stroke-linecap="round" fill="none"/>
<path d="M900.5 585.1V563.8" stroke="#00BA38" stroke-width="2.6" stroke-linecap="round" fill="none"/>
<path d="M908.8 585.1V508.8" stroke="#00BA38" stroke-width="2.6" stroke-linecap="round" fill="none"/>
<path d="M914.2 585.1V549.3" stroke="#00BA38" stroke-width="2.6" stroke-linecap="round" fill="none"/>
<path d="M935 585.1V504.3" stroke="#00BA38" stroke-width="2.6" stroke-linecap="round" fill="none"/>
<path d="M937.5 585.1V521.3" stroke="#00BA38" stroke-width="2.6" stroke-linecap="round" fill="none"/>
<path d="M965 585.1V506.3" stroke="#00BA38" stroke-width="2.6" stroke-linecap="round" fill="none"/>
<path d="M970.5 585.1V546.3" stroke="#00BA38" stroke-width="2.6" stroke-linecap="round" fill="none"/>
<path d="M800.5 585.1V415.1" stroke="#00C08B" stroke-width="2.6" stroke-linecap="round" fill="none"/>
<path d="M810 585.1V458.8" stroke="#00C08B" stroke-width="2.6" stroke-linecap="round" fill="none"/>
<path d="M880.5 585.1V503.8" stroke="#00C08B" stroke-width="2.6" stroke-linecap="round" fill="none"/>
<path d="M883.5 585.1V500.1" stroke="#00C08B" stroke-width="2.6" stroke-linecap="round" fill="none"/>
<path d="M954.2 585.1V488.8" stroke="#00C08B" stroke-width="2.6" stroke-linecap="round" fill="none"/>
<path d="M801.8 585.1V416.3" stroke="#00BFC4" stroke-width="2.6" stroke-linecap="round" fill="none"/>
<path d="M857.5 585.1V461.3" stroke="#00BFC4" stroke-width="2.6" stroke-linecap="round" fill="none"/>
<path d="M956.2 585.1V468.8" stroke="#00BFC4" stroke-width="2.6" stroke-linecap="round" fill="none"/>
<path d="M959.2 585.1V488.8" stroke="#00BFC4" stroke-width="2.6" stroke-linecap="round" fill="none"/>
<polygon points="748.7,554.2 749.8,515 752.2,564.4 754.6,561.8 757.5,505 759.4,555.3 761.8,550.7 764.2,567.5 766.6,577.9 769,573.2 771.4,573.4 773.8,565.2 776.2,561.1 778,530 781,565.3 783.4,566.7 785.5,540 788.2,561.6 790.6,559.7 793,544.9 795.4,545.6 797.8,538.5 800.2,499.1 801.8,432.5 802.6,516 805,526.9 807.4,524.4 809.8,499.5 812.2,547.3 814.6,561 817,576.2 819.4,573.1 821.8,567.1 824.2,537.5 826.6,557.4 829,570.8 831.4,537.5 834.2,531.2 836.2,558.1 838.6,572.8 841,571.7 843.4,573.6 845.8,576.4 848.2,575.2 850.6,553.2 851.5,525 852.2,489.5 853,525 855.4,556.5 857.8,559.8 859.2,520 860.2,555.1 862.5,520 865,559.2 866.5,540 867.2,527 868,545 869.8,572.2 872.2,552.6 874.6,558.4 877,545.4 878,517.5 879.4,529.7 881.8,545.9 884.2,544.3 886.6,550.2 889,575.5 891.4,578.4 893.8,574.2 896.2,573.2 898.6,577.3 901,559.3 903.4,568 905.8,561.8 908.5,525 910.6,568.5 913,563 915.4,577.3 917.8,575.2 920.2,581.7 922.6,578.5 925,575 927.8,535 928.5,515 929.5,530 931.8,527.5 934.6,550.9 937,550.4 939.4,565.3 941.8,574.2 944.2,570.5 946.6,577.1 949,564.3 951.8,498 953.8,532.6 956.2,527.8 958,510 961,556.6 963.4,557.9 965.8,548.1 968.2,569.1 970.6,570.4 973,580.9 975.4,567.4 977.8,564.6 980,490 981.2,474.5 982.5,505 985.5,505 986.5,477 987.5,510 989.8,557.6 992.2,562.1 993.2,575.4 993.2,585 990.2,588 987.2,585.2 984.3,588.3 981.3,585.2 978.3,584.8 975.3,585.3 972.3,586.4 969.3,586.8 966.4,585.3 963.4,586.6 960.4,585 957.4,586.3 954.4,585 951.5,586.4 948.5,584.9 945.5,584.9 942.5,586.4 939.5,585.2 936.5,586.7 933.6,585 930.6,585.2 927.6,585.3 924.6,585.2 921.6,585.1 918.7,586.2 915.7,585.1 912.7,585.4 909.7,586.3 906.7,584.8 903.7,586.2 900.8,586.5 897.8,586.6 894.8,585.3 891.8,585.3 888.8,585.2 885.9,585.1 882.9,584.9 879.9,584.8 876.9,584.9 873.9,584.9 870.9,586.7 868,585.4 865,585.2 862,585.2 859,584.9 856,585 853.1,586.3 850.1,585.4 847.1,584.9 844.1,586.4 841.1,585.3 838.1,585.1 835.2,584.9 832.2,585.1 829.2,588 826.2,585.2 823.2,586.2 820.3,584.9 817.3,588.4 814.3,585.4 811.3,585.3 808.3,585.2 805.3,588 802.4,585.1 799.4,584.9 796.4,586.2 793.4,584.9 790.4,586.2 787.5,584.9 784.5,585.1 781.5,588.1 778.5,588.1 775.5,584.9 772.5,585.2 769.6,585 766.6,585.2 763.6,585.2 760.6,585.3 757.6,584.9 754.7,586.4 751.7,584.8 748.7,584.9" fill="#00ACFC" stroke="#00ACFC" stroke-width="2.5" stroke-linejoin="round"/>
<polygon points="1072,572.1 1073.3,563.1 1075.7,528.1 1078.1,551.4 1080.5,550.8 1082.9,559 1085.3,578.4 1087.7,568.4 1090.1,570.2 1092.5,579.5 1094.9,558.7 1097.3,553.7 1099.7,564.2 1102.1,563.2 1104.5,524.1 1106.9,533.9 1109.3,557.3 1111.7,544.8 1114.1,578.1 1116.5,567 1118.9,540.7 1121.3,557.3 1123.7,542.1 1126.1,529.7 1128.5,538.7 1130.9,551 1133.3,506.6 1135.7,544.4 1138.1,557.9 1140.5,574.6 1142.9,570.4 1145.3,571.6 1147.7,558.4 1150.1,569.6 1152.5,535.7 1154.9,541.3 1157.3,548.2 1159.7,545.9 1162.1,564.8 1164.5,563.8 1166.9,559.3 1169.3,573.9 1171.7,560.4 1174.1,566.6 1176.5,533.7 1178.9,553.8 1181.3,555.4 1183.7,548.1 1186.1,547.7 1188.5,562.7 1190.9,556.5 1193.3,543.4 1195.7,557.2 1198.1,527.6 1200.5,545 1202.9,543.3 1205.3,538.3 1207.7,492 1210.1,548.4 1212.5,562 1214.9,572.5 1217.3,566.9 1219.7,557.4 1222.1,555.2 1224.5,535.8 1226.9,553.3 1229.3,530.3 1231.7,566.4 1234.1,529.7 1236.5,544.2 1238.9,563.5 1241.3,526.3 1243.7,568.9 1246.1,558.5 1248.5,575.7 1250.9,569.4 1253.3,567.5 1255.7,564.8 1258.1,567.9 1260.5,559.8 1262.9,576.3 1265.3,558.2 1267.7,571 1270.1,577.8 1272.5,562 1274.9,560 1277.3,542.7 1279.7,545.3 1282.1,544.8 1284.5,532.7 1286.9,551.7 1289.3,535.2 1291.7,561.5 1294.1,553 1296.5,542 1298.9,550.9 1301.3,506.2 1303.7,543.6 1306.1,550.1 1308.5,523.9 1310.9,544 1313.3,564.9 1315.7,555 1316.5,578.2 1316.5,586.5 1072,586.5" fill="#F8766D" stroke="#F8766D" stroke-width="2.3" stroke-linejoin="round"/>
<polygon points="1072,550.9 1073.8,563.2 1076.2,538.1 1078.6,551.4 1081,504.6 1083.4,562 1085.8,565.4 1088.2,571.1 1090.6,570.3 1093,565 1095.4,538.2 1097.8,527.6 1100.2,525.4 1102.6,537.9 1105,569.3 1107.4,539.3 1109.8,565.2 1112.2,561.5 1114.6,579.6 1117,579 1119.4,573.5 1121.8,537.5 1124.2,478.1 1126.6,550.2 1129,534.2 1131.4,516.6 1133.8,532.3 1136.2,566.5 1138.6,577.7 1141,569.2 1143.4,560.7 1145.8,568.3 1148.2,558.8 1150.6,537.8 1153,509.8 1155.4,541.9 1157.8,554.1 1160.2,543.7 1162.6,530.2 1165,553.3 1167.4,579.9 1169.8,565.4 1172.2,562.5 1174.6,525.3 1177,518 1179.4,551.8 1181.8,504.3 1184.2,521 1186.6,536.4 1189,570.8 1191.4,524.9 1193.8,547.3 1196.2,481.2 1198.6,544.8 1201,511.7 1203.4,516.8 1205.8,431.6 1208.2,461.9 1210.6,540.6 1213,572 1215.4,571.8 1217.8,561.2 1220.2,574.9 1222.6,545.1 1225,522.5 1227.4,557.7 1229.8,556 1232.2,562.9 1234.6,552.3 1237,533 1239.4,571.7 1241.8,531.9 1244.2,547.9 1246.6,563.7 1249,575.9 1251.4,577.8 1253.8,556.2 1256.2,576 1258.6,548 1261,571.4 1263.4,559.6 1265.8,561.2 1268.2,560.6 1270.6,556.8 1273,569.1 1275.4,551.1 1277.8,570.6 1280.2,553.9 1282.6,561 1285,564.2 1287.4,546.8 1289.8,545.6 1292.2,545 1294.6,572.3 1297,565.5 1299.4,506.9 1301.8,516.7 1304.2,504 1306.6,561.7 1309,494.1 1311.4,555.2 1313.8,555 1316.2,572.8 1316.5,569.9 1316.5,586.4 1072,586.4" fill="#E58700" stroke="#E58700" stroke-width="2.3" stroke-linejoin="round"/>
<polygon points="1072,563.6 1074.1,535.9 1076.5,566.7 1078.9,536.5 1081.3,545.6 1083.7,558 1086.1,564.5 1088.5,551.5 1090.9,575.4 1093.3,566.4 1095.7,568.3 1098.1,543.6 1100.5,551.8 1102.9,563.1 1105.3,565.1 1107.7,568 1110.1,555.9 1112.5,570.2 1114.9,551.3 1117.3,574.9 1119.7,530.5 1122.1,551.3 1124.5,492.5 1126.9,483.3 1129.3,527.1 1131.7,536.1 1134.1,538.4 1136.5,569.9 1138.9,575.3 1141.3,565.9 1143.7,553 1146.1,566.1 1148.5,563.2 1150.9,527.7 1153.3,539.1 1155.7,558.3 1158.1,553.3 1160.5,547.8 1162.9,571.2 1165.3,563.8 1167.7,569.1 1170.1,560.3 1172.5,570.2 1174.9,545.9 1177.3,547.7 1179.7,546.1 1182.1,556.2 1184.5,525.5 1186.9,545.7 1189.3,560.1 1191.7,546.5 1194.1,499.6 1196.5,515.5 1198.9,541 1201.3,471.6 1203.7,538.1 1206.1,393.5 1208.5,482.9 1210.9,568.3 1213.3,577.4 1215.7,557.9 1218.1,559.9 1220.5,553.3 1222.9,558.7 1225.3,576.9 1227.7,563.7 1230.1,557.4 1232.5,554.3 1234.9,557.5 1237.3,546 1239.7,539.4 1242.1,552.3 1244.5,543.2 1246.9,561 1249.3,567 1251.7,557.3 1254.1,563.2 1256.5,542.9 1258.9,531.1 1261.3,553.1 1263.7,545 1266.1,578.1 1268.5,554.5 1270.9,557 1273.3,553 1275.7,532.5 1278.1,561.7 1280.5,530.1 1282.9,534 1285.3,530 1287.7,535.6 1290.1,550.6 1292.5,568.6 1294.9,574.7 1297.3,570.8 1299.7,567.9 1302.1,559 1304.5,542.7 1306.9,558.2 1309.3,526.6 1311.7,549.4 1314.1,569.8 1316.5,576.3 1316.5,586.8 1072,586.8" fill="#CD9600" stroke="#CD9600" stroke-width="2.3" stroke-linejoin="round"/>
<polygon points="1072,541.7 1074.2,552.6 1076.6,530.8 1079,559.8 1081.4,553.3 1083.8,572.4 1086.2,573.3 1088.6,577.7 1091,575.4 1093.4,575.3 1095.8,545.1 1098.2,564.8 1100.6,521.4 1103,572.3 1105.4,575.7 1107.8,557.5 1110.2,551.3 1112.6,534.5 1115,575.9 1117.4,565.3 1119.8,560.5 1122.2,532.1 1124.6,483.7 1127,510.5 1129.4,541.5 1131.8,542.8 1134.2,550.4 1136.6,569.5 1139,575.6 1141.4,566.3 1143.8,578.8 1146.2,565.9 1148.6,567.1 1151,558.8 1153.4,548 1155.8,514.5 1158.2,555.5 1160.6,573.4 1163,578.4 1165.4,565.3 1167.8,573.7 1170.2,559 1172.6,561 1175,544.1 1177.4,552.9 1179.8,522.8 1182.2,488 1184.6,554.2 1187,530.6 1189.4,552.1 1191.8,507.5 1194.2,492.1 1196.6,550.3 1199,465.2 1201.4,485.2 1203.8,507.2 1206.2,483.7 1208.6,442.6 1211,527.3 1213.4,560.9 1215.8,565.3 1218.2,577.1 1220.6,561.3 1223,558.3 1225.4,543.3 1227.8,557.9 1230.2,555.8 1232.6,562.2 1235,519.7 1237.4,533 1239.8,542.5 1242.2,521.8 1244.6,549.5 1247,571.8 1249.4,580 1251.8,572.3 1254.2,562.2 1256.6,565.6 1259,568.3 1261.4,561.4 1263.8,564.2 1266.2,568 1268.6,537.5 1271,553 1273.4,563.3 1275.8,573.9 1278.2,559.9 1280.6,561.4 1283,493.7 1285.4,534 1287.8,532 1290.2,563.6 1292.6,568.8 1295,567.2 1297.4,533.4 1299.8,558 1302.2,515.5 1304.6,564.2 1307,551.6 1309.4,543.2 1311.8,547.9 1314.2,572 1316.5,559.6 1316.5,586.1 1072,586.1" fill="#93AA00" stroke="#93AA00" stroke-width="2.3" stroke-linejoin="round"/>
<polygon points="1072,573.8 1073.4,569.3 1075.8,557.3 1078.2,545 1080.6,531.5 1083,547.8 1085.4,539.6 1087.8,549.5 1090.2,557.8 1092.6,570.4 1095,533 1097.4,560.8 1099.8,535.7 1102.2,524.3 1104.6,520.5 1107,561.3 1109.4,530.4 1111.8,566.3 1114.2,554.5 1116.6,565.5 1119,546.9 1121.4,554 1123.8,449.6 1126.2,517.2 1128.6,547.5 1131,479.1 1133.4,500.4 1135.8,536.2 1138.2,573.4 1140.6,567.8 1143,565.1 1145.4,555.4 1147.8,550.5 1150.2,535.2 1152.6,562.3 1155,540.5 1157.4,538.4 1159.8,536.5 1162.2,558.8 1164.6,567 1167,575.9 1169.4,569.2 1171.8,578.1 1174.2,562.1 1176.6,556.1 1179,550.5 1181.4,549.8 1183.8,539.9 1186.2,530.1 1188.6,568.9 1191,546.3 1193.4,549.4 1195.8,501.3 1198.2,462.2 1200.6,469 1203,447.6 1205.4,539.6 1207.8,498.1 1210.2,541.9 1212.6,570 1215,566.3 1217.4,564.8 1219.8,569.6 1222.2,568.2 1224.6,523.1 1227,532.7 1229.4,568.1 1231.8,546.4 1234.2,565.8 1236.6,556.3 1239,557.4 1241.4,572 1243.8,551.2 1246.2,575.2 1248.6,558 1251,563.2 1253.4,562.6 1255.8,574.4 1258.2,518 1260.6,549.2 1263,575.6 1265.4,579.3 1267.8,567.3 1270.2,546.9 1272.6,562.3 1275,544.5 1277.4,549.1 1279.8,553.1 1282.2,564 1284.6,548.7 1287,550.4 1289.4,551.2 1291.8,572.2 1294.2,541.9 1296.6,565.9 1299,562.7 1301.4,558.8 1303.8,539.3 1306.2,534.7 1308.6,534.2 1311,495.4 1313.4,518.2 1315.8,564.2 1316.5,576.5 1316.5,586.7 1072,586.7" fill="#39B600" stroke="#39B600" stroke-width="2.3" stroke-linejoin="round"/>
<polygon points="1072,574.7 1072.5,562.2 1074.9,548.3 1077.3,544.8 1079.7,507.8 1082.1,551.9 1084.5,551.1 1086.9,568.2 1089.3,579.6 1091.7,560.8 1094.1,573 1096.5,539.2 1098.9,561 1101.3,563.6 1103.7,573.8 1106.1,540.3 1108.5,563.3 1110.9,566.7 1113.3,570.5 1115.7,575.3 1118.1,576.4 1120.5,539.5 1122.9,535.3 1125.3,554.9 1127.7,476.6 1130.1,551.4 1132.5,502.1 1134.9,529.9 1137.3,557.9 1139.7,563.7 1142.1,575.7 1144.5,570.3 1146.9,534.4 1149.3,545.5 1151.7,563.9 1154.1,548.1 1156.5,563.3 1158.9,525.8 1161.3,537.6 1163.7,568.3 1166.1,571.7 1168.5,574.2 1170.9,567.1 1173.3,561.6 1175.7,568.9 1178.1,522.8 1180.5,492.1 1182.9,560.5 1185.3,555.1 1187.7,558.8 1190.1,554.5 1192.5,531.4 1194.9,561.1 1197.3,529.5 1199.7,544.4 1202.1,470.2 1204.5,488.9 1206.9,489.4 1209.3,500.3 1211.7,568.6 1214.1,569.5 1216.5,572.8 1218.9,561.5 1221.3,526.1 1223.7,550.2 1226.1,560.7 1228.5,570.5 1230.9,540.9 1233.3,546 1235.7,558.9 1238.1,563.9 1240.5,573.2 1242.9,550.9 1245.3,571.2 1247.7,566.7 1250.1,541.3 1252.5,572.5 1254.9,561.4 1257.3,540.3 1259.7,552 1262.1,569.7 1264.5,567.3 1266.9,558.6 1269.3,560.2 1271.7,574.5 1274.1,559.2 1276.5,571.6 1278.9,550.4 1281.3,554.1 1283.7,557.2 1286.1,558.4 1288.5,560.1 1290.9,566 1293.3,563.1 1295.7,576.4 1298.1,551.9 1300.5,547.6 1302.9,559.9 1305.3,557.7 1307.7,563.5 1310.1,540.6 1312.5,566.2 1314.9,561.9 1316.5,578.3 1316.5,586.1 1072,586.1" fill="#00BA38" stroke="#00BA38" stroke-width="2.3" stroke-linejoin="round"/>
<polygon points="1072,560.4 1073.3,567.2 1075.7,526.4 1078.1,524.3 1080.5,494 1082.9,517 1085.3,555 1087.7,526.5 1090.1,554.1 1092.5,574.9 1094.9,574.2 1097.3,544.8 1099.7,528 1102.1,515 1104.5,522.5 1106.9,543.6 1109.3,538.7 1111.7,514.7 1114.1,559.6 1116.5,555.1 1118.9,541.7 1121.3,530 1123.7,470.4 1126.1,539.6 1128.5,503.8 1130.9,540.8 1133.3,551.8 1135.7,552.3 1138.1,558.8 1140.5,565.9 1142.9,568.9 1145.3,570.8 1147.7,545.8 1150.1,538 1152.5,527.1 1154.9,503.8 1157.3,552.9 1159.7,530.4 1162.1,543.8 1164.5,572.3 1166.9,579.4 1169.3,553.8 1171.7,561.2 1174.1,551.6 1176.5,498 1178.9,542.9 1181.3,520.5 1183.7,557 1186.1,529.8 1188.5,553.4 1190.9,568.2 1193.3,541 1195.7,552.3 1198.1,478.7 1200.5,455.2 1202.9,480.8 1205.3,554.2 1207.7,530 1210.1,506.3 1212.5,533.7 1214.9,553.7 1217.3,563.6 1219.7,563.8 1222.1,549.7 1224.5,564.1 1226.9,551.6 1229.3,520.9 1231.7,532.4 1234.1,557.6 1236.5,560.5 1238.9,568.5 1241.3,558.3 1243.7,573.2 1246.1,565.3 1248.5,561.3 1250.9,574.6 1253.3,571.1 1255.7,572.8 1258.1,548.2 1260.5,575.8 1262.9,572.2 1265.3,568.7 1267.7,576.9 1270.1,574.9 1272.5,570.5 1274.9,537.5 1277.3,555.2 1279.7,551.6 1282.1,570.2 1284.5,552.1 1286.9,545.6 1289.3,529.2 1291.7,555.6 1294.1,563.9 1296.5,552.8 1298.9,560.5 1301.3,537.3 1303.7,568.3 1306.1,562.6 1308.5,551.6 1310.9,532.5 1313.3,567.6 1315.7,555.7 1316.5,568.2 1316.5,586.4 1072,586.4" fill="#00C08B" stroke="#00C08B" stroke-width="2.3" stroke-linejoin="round"/>
<polygon points="1072,559.2 1073.3,554.8 1075.7,562.3 1078.1,529.3 1080.5,485.3 1082.9,543 1085.3,553.6 1087.7,557.3 1090.1,566.8 1092.5,569.9 1094.9,552.1 1097.3,544.6 1099.7,510.5 1102.1,544.4 1104.5,540.6 1106.9,566.4 1109.3,570.8 1111.7,565.6 1114.1,567.5 1116.5,574.4 1118.9,560.9 1121.3,534.8 1123.7,489.2 1126.1,542.5 1128.5,557.2 1130.9,505.5 1133.3,552.2 1135.7,570.3 1138.1,570.6 1140.5,568 1142.9,579.9 1145.3,560 1147.7,568.2 1150.1,549.2 1152.5,554 1154.9,546.6 1157.3,555.9 1159.7,528.4 1162.1,534.8 1164.5,562.2 1166.9,556.3 1169.3,578.3 1171.7,568.9 1174.1,569.8 1176.5,537.1 1178.9,501.6 1181.3,501.9 1183.7,540.2 1186.1,547.4 1188.5,557.5 1190.9,571.9 1193.3,554.2 1195.7,497.8 1198.1,547.1 1200.5,537 1202.9,493.2 1205.3,469.2 1207.7,512 1210.1,546.1 1212.5,562.3 1214.9,566.5 1217.3,537.8 1219.7,567.5 1222.1,560.8 1224.5,558.7 1226.9,562.5 1229.3,563.9 1231.7,560.5 1234.1,571.7 1236.5,553.7 1238.9,563.2 1241.3,563.7 1243.7,570 1246.1,570.9 1248.5,567 1250.9,558.9 1253.3,557.9 1255.7,543.3 1258.1,537.5 1260.5,549.8 1262.9,562.7 1265.3,551.9 1267.7,568.5 1270.1,560 1272.5,569 1274.9,572.6 1277.3,546.4 1279.7,554.1 1282.1,561.9 1284.5,561.8 1286.9,562.6 1289.3,562.9 1291.7,543.5 1294.1,569 1296.5,572.9 1298.9,553.8 1301.3,498.2 1303.7,499.3 1306.1,552.3 1308.5,554.6 1310.9,571.8 1313.3,552.9 1315.7,571.6 1316.5,572.6 1316.5,586.2 1072,586.2" fill="#00BFC4" stroke="#00BFC4" stroke-width="2.3" stroke-linejoin="round"/>
<path d="M1096.8 585.6V531.3" stroke="#F8766D" stroke-width="2.6" stroke-linecap="round" fill="none"/>
<path d="M1114.2 585.6V543.8" stroke="#F8766D" stroke-width="2.6" stroke-linecap="round" fill="none"/>
<path d="M1120.5 585.6V521.3" stroke="#F8766D" stroke-width="2.6" stroke-linecap="round" fill="none"/>
<path d="M1177.5 585.6V500.1" stroke="#F8766D" stroke-width="2.6" stroke-linecap="round" fill="none"/>
<path d="M1215.5 585.6V561.3" stroke="#F8766D" stroke-width="2.6" stroke-linecap="round" fill="none"/>
<path d="M1219.8 585.6V527" stroke="#F8766D" stroke-width="2.6" stroke-linecap="round" fill="none"/>
<path d="M1245.5 585.6V551.3" stroke="#F8766D" stroke-width="2.6" stroke-linecap="round" fill="none"/>
<path d="M1257.2 585.6V532" stroke="#F8766D" stroke-width="2.6" stroke-linecap="round" fill="none"/>
<path d="M1278.5 585.6V511.8" stroke="#F8766D" stroke-width="2.6" stroke-linecap="round" fill="none"/>
<path d="M1208 585.6V403.3" stroke="#F07F4A" stroke-width="2.6" stroke-linecap="round" fill="none"/>
<path d="M1210.5 585.6V447.6" stroke="#F07F4A" stroke-width="2.6" stroke-linecap="round" fill="none"/>
<path d="M1082.2 585.6V488.8" stroke="#E58700" stroke-width="2.6" stroke-linecap="round" fill="none"/>
<path d="M1084.2 585.6V541.3" stroke="#E58700" stroke-width="2.6" stroke-linecap="round" fill="none"/>
<path d="M1087.5 585.6V550" stroke="#E58700" stroke-width="2.6" stroke-linecap="round" fill="none"/>
<path d="M1100 585.6V517" stroke="#E58700" stroke-width="2.6" stroke-linecap="round" fill="none"/>
<path d="M1111.5 585.6V488.3" stroke="#E58700" stroke-width="2.6" stroke-linecap="round" fill="none"/>
<path d="M1116.5 585.6V535.5" stroke="#E58700" stroke-width="2.6" stroke-linecap="round" fill="none"/>
<path d="M1136 585.6V533.8" stroke="#E58700" stroke-width="2.6" stroke-linecap="round" fill="none"/>
<path d="M1139.8 585.6V523.8" stroke="#E58700" stroke-width="2.6" stroke-linecap="round" fill="none"/>
<path d="M1151.8 585.6V520.8" stroke="#E58700" stroke-width="2.6" stroke-linecap="round" fill="none"/>
<path d="M1161 585.6V506.3" stroke="#E58700" stroke-width="2.6" stroke-linecap="round" fill="none"/>
<path d="M1203.5 585.6V394.3" stroke="#E58700" stroke-width="2.6" stroke-linecap="round" fill="none"/>
<path d="M1236.8 585.6V533.3" stroke="#E58700" stroke-width="2.6" stroke-linecap="round" fill="none"/>
<path d="M1253.8 585.6V530" stroke="#E58700" stroke-width="2.6" stroke-linecap="round" fill="none"/>
<path d="M1270 585.6V557.5" stroke="#E58700" stroke-width="2.6" stroke-linecap="round" fill="none"/>
<path d="M1305.5 585.6V497.6" stroke="#E58700" stroke-width="2.6" stroke-linecap="round" fill="none"/>
<path d="M1164.2 585.6V473.3" stroke="#DE8C00" stroke-width="2.6" stroke-linecap="round" fill="none"/>
<path d="M1102.5 585.6V531.3" stroke="#CD9600" stroke-width="2.6" stroke-linecap="round" fill="none"/>
<path d="M1146.2 585.6V558.3" stroke="#CD9600" stroke-width="2.6" stroke-linecap="round" fill="none"/>
<path d="M1166.8 585.6V543.8" stroke="#CD9600" stroke-width="2.6" stroke-linecap="round" fill="none"/>
<path d="M1186 585.6V517.5" stroke="#CD9600" stroke-width="2.6" stroke-linecap="round" fill="none"/>
<path d="M1317.5 585.6V548" stroke="#CD9600" stroke-width="2.6" stroke-linecap="round" fill="none"/>
<path d="M1107.5 585.6V505.6" stroke="#B79F00" stroke-width="2.6" stroke-linecap="round" fill="none"/>
<path d="M1193 585.6V464.8" stroke="#B79F00" stroke-width="2.6" stroke-linecap="round" fill="none"/>
<path d="M1197.2 585.6V409.3" stroke="#B79F00" stroke-width="2.6" stroke-linecap="round" fill="none"/>
<path d="M1266.8 585.6V510.8" stroke="#B79F00" stroke-width="2.6" stroke-linecap="round" fill="none"/>
<path d="M1072.5 585.6V492.3" stroke="#93AA00" stroke-width="2.6" stroke-linecap="round" fill="none"/>
<path d="M1091.2 585.6V565" stroke="#93AA00" stroke-width="2.6" stroke-linecap="round" fill="none"/>
<path d="M1104.5 585.6V486.8" stroke="#93AA00" stroke-width="2.6" stroke-linecap="round" fill="none"/>
<path d="M1180 585.6V486.8" stroke="#93AA00" stroke-width="2.6" stroke-linecap="round" fill="none"/>
<path d="M1190.5 585.6V543.8" stroke="#93AA00" stroke-width="2.6" stroke-linecap="round" fill="none"/>
<path d="M1227 585.6V518.3" stroke="#93AA00" stroke-width="2.6" stroke-linecap="round" fill="none"/>
<path d="M1249.2 585.6V561.3" stroke="#93AA00" stroke-width="2.6" stroke-linecap="round" fill="none"/>
<path d="M1260.5 585.6V517" stroke="#93AA00" stroke-width="2.6" stroke-linecap="round" fill="none"/>
<path d="M1263 585.6V541.3" stroke="#93AA00" stroke-width="2.6" stroke-linecap="round" fill="none"/>
<path d="M1273.5 585.6V549.3" stroke="#93AA00" stroke-width="2.6" stroke-linecap="round" fill="none"/>
<path d="M1308 585.6V511.3" stroke="#93AA00" stroke-width="2.6" stroke-linecap="round" fill="none"/>
<path d="M1182 585.6V474.3" stroke="#6BB100" stroke-width="2.6" stroke-linecap="round" fill="none"/>
<path d="M1075 585.6V537.5" stroke="#00BA38" stroke-width="2.6" stroke-linecap="round" fill="none"/>
<path d="M1078 585.6V508.8" stroke="#00BA38" stroke-width="2.6" stroke-linecap="round" fill="none"/>
<path d="M1127.5 585.6V488.8" stroke="#00BA38" stroke-width="2.6" stroke-linecap="round" fill="none"/>
<path d="M1143 585.6V556.3" stroke="#00BA38" stroke-width="2.6" stroke-linecap="round" fill="none"/>
<path d="M1157 585.6V463.3" stroke="#00BA38" stroke-width="2.6" stroke-linecap="round" fill="none"/>
<path d="M1169.8 585.6V543.3" stroke="#00BA38" stroke-width="2.6" stroke-linecap="round" fill="none"/>
<path d="M1171.8 585.6V563.8" stroke="#00BA38" stroke-width="2.6" stroke-linecap="round" fill="none"/>
<path d="M1229.2 585.6V541.3" stroke="#00BA38" stroke-width="2.6" stroke-linecap="round" fill="none"/>
<path d="M1291.8 585.6V526.3" stroke="#00BA38" stroke-width="2.6" stroke-linecap="round" fill="none"/>
<path d="M1295.5 585.6V546.3" stroke="#00BA38" stroke-width="2.6" stroke-linecap="round" fill="none"/>
<path d="M1311.2 585.6V511.3" stroke="#00BA38" stroke-width="2.6" stroke-linecap="round" fill="none"/>
<path d="M1313.5 585.6V536.3" stroke="#00BA38" stroke-width="2.6" stroke-linecap="round" fill="none"/>
<path d="M1286.2 585.6V464.3" stroke="#00BE67" stroke-width="2.6" stroke-linecap="round" fill="none"/>
<path d="M1303.5 585.6V486.3" stroke="#00BE67" stroke-width="2.6" stroke-linecap="round" fill="none"/>
<path d="M1131.8 585.6V490.1" stroke="#00C08B" stroke-width="2.6" stroke-linecap="round" fill="none"/>
<path d="M1200.5 585.6V397.6" stroke="#00C08B" stroke-width="2.6" stroke-linecap="round" fill="none"/>
<path d="M1211.8 585.6V491.3" stroke="#00C08B" stroke-width="2.6" stroke-linecap="round" fill="none"/>
<path d="M1231.8 585.6V535" stroke="#00C08B" stroke-width="2.6" stroke-linecap="round" fill="none"/>
<path d="M1282.5 585.6V490.1" stroke="#00C08B" stroke-width="2.6" stroke-linecap="round" fill="none"/>
<path d="M1288.8 585.6V493.1" stroke="#00C08B" stroke-width="2.6" stroke-linecap="round" fill="none"/>
<polygon points="1072,565.6 1073.3,568.7 1075.7,544.1 1078.1,526.8 1079.2,510 1080,468.8 1080.8,510 1082.9,564.2 1085.3,574.6 1088,557.5 1090.1,577.1 1092.5,575.8 1094.9,569.7 1097.3,559.3 1099.2,532.5 1102.1,536.8 1103,532.5 1104.5,546 1106.9,563.5 1109.3,557.7 1111,536.2 1111.7,568.1 1114.1,576.8 1116.5,571.3 1118.9,572.9 1121.3,549.9 1123.2,490 1124,451.2 1124.8,490 1126.1,545.9 1128.5,487.5 1129.2,475 1130,487.5 1130.9,543.6 1133.3,522.9 1135.7,568.9 1138.1,573.5 1140.5,576.8 1142.9,565.3 1145.3,563.3 1147.7,568.6 1150.1,543.7 1152.5,543.8 1154.9,528.8 1158,511.2 1159.7,562.1 1162.1,569.9 1164.5,565 1166.9,569.6 1169.3,578.2 1171.7,570.8 1174.1,555.5 1176.5,555.5 1179.2,490 1181.3,517 1183.7,535.1 1186.1,561.7 1188.5,573.3 1190.9,567.3 1193.3,563.3 1195.7,538.7 1198.1,527.7 1200.5,508.2 1202.9,505.5 1205.5,400 1207.7,511.5 1210.1,522.8 1212.5,574 1214.9,568.3 1217.3,562.7 1219.7,565.8 1222.1,565.8 1223,540 1224.5,557.8 1226.9,553.8 1229.3,548.6 1231.7,563.3 1234,530 1234.8,513.2 1235.5,530 1236.5,564.1 1238.9,556 1241,545 1241.8,505 1242.5,545 1244.2,545 1246.1,563.1 1248.5,576.9 1250.9,568.3 1253.3,574.5 1255.7,569.4 1258,540 1260.5,559.4 1262.9,574.6 1265.3,568.8 1267.7,567.9 1269.2,560 1270.1,575.8 1272.5,576.8 1274.9,564.4 1277.3,558.9 1279.7,559.1 1282.1,557.4 1283,510 1284.5,555.9 1286.9,557.4 1289.3,563.2 1291.7,568.3 1294.1,566.9 1296.5,564.8 1299.2,513.8 1301.3,546 1303.7,542.9 1306.1,556.7 1308.5,555 1309.8,507 1310.9,545.4 1313.3,560.5 1315.7,559.4 1316.5,574.8 1316.5,585.5 1313.6,585.8 1310.6,586.9 1307.6,585.7 1304.6,585.4 1301.6,585.6 1298.7,585.4 1295.7,585.8 1292.7,585.4 1289.7,585.5 1286.7,585.4 1283.7,585.5 1280.8,585.7 1277.8,588.4 1274.8,588.6 1271.8,585.8 1268.8,585.4 1265.9,585.3 1262.9,587.1 1259.9,585.5 1256.9,585.6 1253.9,585.5 1250.9,585.4 1248,585.4 1245,585.9 1242,585.8 1239,587.2 1236,588.4 1233.1,587.1 1230.1,585.4 1227.1,585.5 1224.1,585.3 1221.1,585.5 1218.1,587.2 1215.2,585.8 1212.2,585.6 1209.2,585.8 1206.2,585.4 1203.2,585.6 1200.3,585.8 1197.3,585.3 1194.3,585.6 1191.3,588.5 1188.3,588.7 1185.3,586.8 1182.4,585.5 1179.4,585.7 1176.4,585.3 1173.4,587.2 1170.4,585.5 1167.5,585.3 1164.5,585.8 1161.5,585.5 1158.5,585.9 1155.5,585.6 1152.5,585.6 1149.6,585.6 1146.6,586.9 1143.6,585.8 1140.6,585.5 1137.6,585.3 1134.7,586.9 1131.7,585.6 1128.7,585.8 1125.7,587.2 1122.7,588.7 1119.7,585.7 1116.8,586.8 1113.8,585.5 1110.8,585.6 1107.8,587.1 1104.8,585.7 1101.9,588.5 1098.9,585.8 1095.9,588.6 1092.9,585.7 1089.9,585.5 1086.9,585.6 1084,588.5 1081,586.9 1078,585.5 1075,585.7 1072,587.3" fill="#00ACFC" stroke="#00ACFC" stroke-width="2.5" stroke-linejoin="round"/>
<polygon points="1072,581.2 1074,579.7 1076,579.1 1078,578.9 1080,578.9 1082,579.1 1084,579.5 1086,580.4 1088,581.8 1090,582 1092,581.8 1094,581.4 1096,580.9 1098,580.4 1100,579.9 1102,579.7 1104,579.6 1106,579.8 1108,580.3 1110,580.9 1112,581.5 1114,581.4 1116,580.8 1118,579.4 1120,578.5 1122,577.2 1124,575.8 1126,574.6 1128,574.5 1130,575.3 1132,577.3 1134,578.5 1136,579.8 1138,581.1 1140,582.1 1142,582.1 1144,582.1 1146,581.8 1148,581.1 1150,580.3 1152,579.4 1154,578.9 1156,578.8 1158,579.1 1160,579.7 1162,580.5 1164,581.4 1166,582.1 1168,582.1 1170,582.1 1172,581.5 1174,580.2 1176,579 1178,578 1180,577.4 1182,577.3 1184,577.7 1186,578.4 1188,579 1190,579 1192,578.2 1194,576.6 1196,574.3 1198,571.9 1200,569.5 1202,567.8 1204,567.7 1206,569 1208,571.2 1210,573.7 1212,576.3 1214,578.7 1216,580.7 1218,581.6 1220,581.6 1222,581.3 1224,580.8 1226,580.4 1228,580.1 1230,579.9 1232,580 1234,580 1236,579.6 1238,579.7 1240,580.1 1242,580.8 1244,581.3 1246,581.6 1248,581.6 1250,582.1 1252,582.1 1254,582 1256,581.9 1258,581.9 1260,582 1262,582.1 1264,582.1 1266,582.1 1268,582.1 1270,582.1 1272,582.1 1274,581.8 1276,581.1 1278,580.3 1280,579.5 1282,579 1284,579 1286,579.3 1288,579.8 1290,580.5 1292,580.9 1294,580.8 1296,580.5 1298,579.9 1300,579.1 1302,578.2 1304,577.4 1306,577.3 1308,577.7 1310,578.4 1312,579.1 1314,579.8 1316,580.6 1316,585.6 1072,585.6" fill="#40A0FF" stroke="#40A0FF" stroke-width="2.0" stroke-linejoin="round"/>
<polyline points="1072,574.8 1074,574.5 1076,574.7 1078,575.2 1080,576.8 1082,579 1084,582.1 1086,582.5 1088,582.2 1090,581.3 1092,580.4 1094,579.3 1096,578 1098,577.3 1100,577.1 1102,577.3 1104,578.5 1106,579.8 1108,581 1110,580.7 1112,579.1 1114,574.7 1116,572.7 1118,570.6 1120,568.5 1122,566.6 1124,566.9 1126,568.6 1128,572.1 1130,573.8 1132,576.8 1134,580 1136,582.2 1138,582.9 1140,582.6 1142,581.2 1144,579.7 1146,577.9 1148,575.9 1150,575.1 1152,575.4 1154,576.5 1156,578.5 1158,580 1160,581.6 1162,583.1 1164,583.1 1166,582.9 1168,580.9 1170,577.5 1172,573.4 1174,571.5 1176,570.1 1178,569.9 1180,570.5 1182,571.7 1184,572.7 1186,573.2 1188,572.2 1190,570 1192,567 1194,564 1196,561.5 1198,560.3 1200,559.2 1202,560.4 1204,563 1206,566.4 1208,570 1210,573.7 1212,579 1214,581.2 1216,581.4 1218,580.8 1220,580 1222,579.4 1224,578.9 1226,578.7 1228,578.5 1230,578.4 1232,577.1 1234,577.1 1236,577.9 1238,579.4 1240,580.5 1242,581 1244,581.1 1246,582.1 1248,581.9 1250,581.7 1252,581.4 1254,581.3 1256,581.5 1258,581.7 1260,582.1 1262,582.9 1264,583.1 1266,583.1 1268,582.5 1270,581.6 1272,580.2 1274,578.5 1276,576.8 1278,576 1280,576.3 1282,577.5 1284,578.8 1286,580.3 1288,580.9 1290,580.8 1292,580.2 1294,579.1 1296,577.2 1298,575.7 1300,574.4 1302,574 1304,574.5 1306,575.2 1308,576.2 1310,578 1312,580 1314,581.2 1316,578.1" fill="none" stroke="#40A0FF" stroke-width="2.8" stroke-linejoin="round" stroke-linecap="round"/>
<polyline points="1072,575.8 1074,577.9 1076,579.2 1078,574.1 1080,571.5 1082,570.4 1084,570 1086,570 1088,571.8 1090,575 1092,579.6 1094,580.2 1096,579.6 1098,578 1100,576.3 1102,574.2 1104,571.9 1106,570.6 1108,570.2 1110,570.9 1112,573.3 1114,575.7 1116,578.1 1118,578 1120,575.9 1122,570 1124,567.3 1126,564.5 1128,561.6 1130,559.2 1132,559.9 1134,562.5 1136,567.5 1138,570.7 1140,575.1 1142,579.3 1144,581.7 1146,582.4 1148,581.9 1150,580.2 1152,577.7 1154,574.5 1156,570.3 1158,568.2 1160,568 1162,569 1164,572 1166,575.5 1168,578.7 1170,581.5 1172,582.4 1174,581.7 1176,579.2 1178,575.1 1180,570.2 1182,568.2 1184,567 1186,567.2 1188,568.5 1190,570.3 1192,571.8 1194,572.1 1196,570.7 1198,567.9 1200,563.3 1202,558.3 1204,553.3 1206,549.5 1208,548.9 1210,551.5 1212,555.7 1214,560.3 1216,565.2 1218,570.2 1220,577 1222,579.6 1224,579.5 1226,578.3 1228,577 1230,575.8 1232,574.8 1234,574.3 1236,574.7 1238,575.2 1240,573.9 1242,574.1 1244,575.2 1246,577.2 1248,578.8 1250,579.4 1252,579.5 1254,580.9 1256,580.6 1258,580.4 1260,580 1262,580 1264,580.2 1266,580.4 1268,580.8 1270,582 1272,582.5 1274,582.3 1276,581.6 1278,580.3 1280,578.2 1282,575.6 1284,572.9 1286,571.2 1288,571.3 1290,572.7 1292,574.9 1294,577.3 1296,578.5 1298,577.9 1300,576.7 1302,574.4 1304,570.6 1306,567.5 1308,564.9 1310,563.9 1312,565.7 1314,567.9 1316,570.2" fill="none" stroke="#40A0FF" stroke-width="2.8" stroke-linejoin="round" stroke-linecap="round"/>
<polyline points="1072,573.5 1074,565.3 1076,562.7 1078,562.6 1080,563.6 1082,565.3 1084,568.9 1086,573.6 1088,578.7 1090,579.3 1092,578.4 1094,576.4 1096,574.1 1098,571.2 1100,567.9 1102,566.8 1104,566.8 1106,568.1 1108,571.3 1110,574.4 1112,577.2 1114,577.1 1116,574.6 1118,567.6 1120,564.1 1122,560.5 1124,556.6 1126,553.1 1128,553.2 1130,554.6 1132,559.8 1134,563 1136,568.7 1138,574.8 1140,579.1 1142,580.3 1144,579.9 1146,577.7 1148,574.9 1150,571.4 1152,567.2 1154,565.1 1156,565.3 1158,566.5 1160,570 1162,574 1164,577.6 1166,580.8 1168,581.9 1170,581 1172,577.9 1174,572.6 1176,565.9 1178,562.7 1180,560.3 1182,559.8 1184,560.6 1186,562.8 1188,564.7 1190,564.7 1192,562.2 1194,557.2 1196,550.1 1198,542.5 1200,536.3 1202,532.4 1204,533.2 1206,538.5 1208,545.7 1210,553.5 1212,561.1 1214,566.2 1216,574.3 1218,577.4 1220,576.9 1222,575 1224,572 1226,569.1 1228,567.7 1230,567 1232,567.9 1234,568.9 1236,567.2 1238,568.5 1240,571.2 1242,574.3 1244,576.6 1246,577.6 1248,578 1250,579.8 1252,579.6 1254,579.3 1256,579 1258,579.1 1260,579.5 1262,579.8 1264,580.4 1266,581.7 1268,582.2 1270,582 1272,581.1 1274,579.5 1276,576.9 1278,573.7 1280,570.1 1282,567.8 1284,567.5 1286,569 1288,571.6 1290,574.5 1292,575.9 1294,575.5 1296,574.3 1298,572 1300,568.1 1302,565.5 1304,563.5 1306,563.4 1308,564.9 1310,566.8 1312,568.1 1314,571.2 1316,574.4" fill="none" stroke="#40A0FF" stroke-width="2.8" stroke-linejoin="round" stroke-linecap="round"/>
<polyline points="1072,573.9 1074,564.4 1076,559.7 1078,557.4 1080,556.4 1082,556.3 1084,559.4 1086,565.1 1088,574.4 1090,575.7 1092,574.7 1094,572.1 1096,569.4 1098,566 1100,562.3 1102,561.4 1104,561.9 1106,564.1 1108,568.5 1110,572.6 1112,576.1 1114,576.3 1116,573.3 1118,565.2 1120,560.8 1122,556.1 1124,550.9 1126,545.9 1128,545.3 1130,548.3 1132,555.4 1134,559.9 1136,566.9 1138,574 1140,578.8 1142,580.2 1144,579.4 1146,576.3 1148,572 1150,566.4 1152,558.8 1154,553.8 1156,551.9 1158,553.9 1160,559.6 1162,566.3 1164,572.4 1166,577.7 1168,579.4 1170,578 1172,573.6 1174,566.4 1176,558.3 1178,555.7 1180,554.7 1182,556.1 1184,559.1 1186,561 1188,562.6 1190,562.3 1192,559.1 1194,552.9 1196,544.2 1198,534.5 1200,526.1 1202,520.2 1204,520 1206,525.4 1208,533.7 1210,543 1212,552.3 1214,560.1 1216,571.2 1218,575.4 1220,575.2 1222,573.1 1224,570 1226,567 1228,565 1230,563.9 1232,564.5 1234,565.2 1236,562.5 1238,563.6 1240,566.6 1242,570.1 1244,572.9 1246,573.9 1248,574 1250,576.5 1252,575.8 1254,575.1 1256,574.5 1258,574.5 1260,575 1262,575.5 1264,576.5 1266,578.6 1268,579.5 1270,579.2 1272,577.9 1274,575.6 1276,572 1278,567.5 1280,563 1282,560.7 1284,560.4 1286,562.6 1288,566.2 1290,570.3 1292,572.3 1294,571.8 1296,570.1 1298,566.6 1300,560.6 1302,556.1 1304,552.4 1306,551.4 1308,552.9 1310,555.2 1312,558.5 1314,564.2 1316,569.7" fill="none" stroke="#40A0FF" stroke-width="2.8" stroke-linejoin="round" stroke-linecap="round"/>
<polyline points="1072,562.3 1074,557.5 1076,555.6 1078,555.1 1080,555.4 1082,559 1084,565.1 1086,574.1 1088,575.4 1090,574.3 1092,571.5 1094,568.6 1096,564.8 1098,560.7 1100,558.5 1102,558.3 1104,560.2 1106,564.7 1108,569.3 1110,573.2 1112,573 1114,569.5 1116,558.5 1118,552.3 1120,545.6 1122,538.1 1124,530.8 1126,529.5 1128,532.7 1130,542.8 1132,549.3 1134,559.3 1136,569.3 1138,576 1140,578.1 1142,577.3 1144,573.6 1146,568.8 1148,562.5 1150,554.5 1152,549.7 1154,548.6 1156,550.3 1158,556.2 1160,563.4 1162,570.1 1164,576.2 1166,578.1 1168,576.2 1170,570 1172,559.4 1174,546.1 1176,539.7 1178,535.2 1180,534.3 1182,536.2 1184,540 1186,543.8 1188,544 1190,539.1 1192,529.2 1194,515.4 1196,500.6 1198,500.6 1200,500.6 1202,500.6 1204,500.6 1206,511.5 1208,527.4 1210,542.2 1212,555.3 1214,569 1216,574.1 1218,574.1 1220,572.2 1222,569.2 1224,566.5 1226,564 1228,561.4 1230,560.6 1232,560 1234,555 1236,555 1238,557.6 1240,562.8 1242,567.7 1244,569.7 1246,570.5 1248,574.3 1250,573.8 1252,573.4 1254,572.8 1256,573 1258,573.8 1260,574.5 1262,575.7 1264,578.1 1266,579.2 1268,578.9 1270,577.3 1272,574.5 1274,569.9 1276,564.1 1278,558 1280,554 1282,553.8 1284,557 1286,561.8 1288,567.2 1290,569.7 1292,569.4 1294,567.8 1296,564.4 1298,557.1 1300,551.3 1302,546.1 1304,544.2 1306,545.3 1308,547.5 1310,550.4 1312,557.3 1314,564 1316,567.9" fill="none" stroke="#40A0FF" stroke-width="2.8" stroke-linejoin="round" stroke-linecap="round"/>
<polygon points="102,798 104.4,735.8 106.8,779.2 109.2,815.4 111.6,782.3 114,792 116.4,850.7 118.8,853.5 121.2,856.3 123.6,848.1 126,839.5 128.4,817.3 130.8,830.5 133.2,829.7 135.6,805.3 138,833.7 140.4,828.5 142.8,843.7 145.2,831.2 147.6,844 150,826.7 152.4,809.1 154.8,825.3 157.2,820.2 159.6,833.2 162,802.2 164.4,843.3 166.8,843.2 169.2,854.1 171.6,841.7 174,823.8 176.4,849.2 178.8,850.6 181.2,824.7 183.6,836.2 186,837.5 188.4,841.7 190.8,841.2 193.2,845.3 195.6,853 198,837.1 200.4,849.7 202.8,848.5 205.2,845.8 207.6,836.5 210,840.3 212.4,822.1 214.8,831.1 217.2,818.8 219.6,822.9 222,821.4 224.4,829.8 226.8,820.6 229.2,824.8 231.6,819.5 234,848.5 236.4,841.9 238.8,840.7 241.2,825.7 243.6,852.2 246,848.5 248.4,850.4 250.8,839.8 253.2,854.5 255.6,827.8 258,849.2 260.4,839.9 262.8,840 265.2,841.2 267.6,853.3 270,847.4 272.4,853.4 274.8,852 277.2,856.6 279.6,841.1 282,844.9 284.4,851.2 286.8,843.7 289.2,857.4 291.6,850.7 294,846.5 296.4,845.7 298.8,843.5 301.2,834.3 303.6,836.6 306,841.6 308.4,847.5 310.8,840 313.2,838.4 315.6,820.1 318,836.9 320.4,828.6 322.8,821.6 325.2,834.1 327.6,837.9 330,844.5 332.4,801.6 334.8,811.6 337.2,834.1 339.6,842.5 342,845.8 344.4,823.7 346.5,803.7 346.5,862.3 102,862.3" fill="#F8766D" stroke="#F8766D" stroke-width="2.3" stroke-linejoin="round"/>
<polygon points="102,809.4 104.2,785.8 106.6,802.7 109,826 111.4,792.2 113.8,824 116.2,831.5 118.6,824.2 121,847.3 123.4,851.9 125.8,836.5 128.2,817.2 130.6,825.7 133,814.2 135.4,807.2 137.8,843.4 140.2,849.9 142.6,838.4 145,854.2 147.4,842.5 149.8,830.6 152.2,832.3 154.6,836.4 157,816.6 159.4,814.1 161.8,770.1 164.2,825.1 166.6,849 169,849.2 171.4,852.8 173.8,848.8 176.2,851.7 178.6,841 181,840.6 183.4,829.1 185.8,829.9 188.2,821.4 190.6,829.5 193,830.1 195.4,853 197.8,841.9 200.2,846.9 202.6,842.5 205,844.7 207.4,795.5 209.8,823.1 212.2,793.6 214.6,827.6 217,827.1 219.4,813 221.8,848.5 224.2,852.5 226.6,815.9 229,849.1 231.4,813 233.8,792.4 236.2,830.9 238.6,844.9 241,847 243.4,838.5 245.8,849.6 248.2,841.8 250.6,843.8 253,829.6 255.4,844.7 257.8,847 260.2,846.2 262.6,828 265,838.5 267.4,839.4 269.8,847.1 272.2,846.9 274.6,842.1 277,841.5 279.4,838.4 281.8,850.6 284.2,839.5 286.6,849.6 289,856.1 291.4,841.4 293.8,842.7 296.2,848.9 298.6,846.8 301,850.3 303.4,826.4 305.8,847.6 308.2,801.7 310.6,792.6 313,829.6 315.4,815.9 317.8,841.6 320.2,836.2 322.6,827.3 325,839 327.4,852.4 329.8,834.3 332.2,836.8 334.6,835 337,776.4 339.4,801.4 341.8,837.4 344.2,808.3 346.5,804.3 346.5,862.2 102,862.2" fill="#E58700" stroke="#E58700" stroke-width="2.3" stroke-linejoin="round"/>
<polygon points="102,778.6 102.6,812.9 105,735.2 107.4,748.6 109.8,797.9 112.2,746.8 114.6,766.4 117,834.8 119.4,821.8 121.8,849.1 124.2,846.1 126.6,836.2 129,835.4 131.4,839.2 133.8,839.6 136.2,837.8 138.6,837.8 141,824.4 143.4,838.4 145.8,851.2 148.2,842.6 150.6,830.2 153,827.7 155.4,774.8 157.8,782.2 160.2,809.2 162.6,812 165,797 167.4,820.6 169.8,851.8 172.2,847.8 174.6,847 177,829.3 179.4,846.2 181.8,845.9 184.2,812.3 186.6,832.2 189,814.8 191.4,831.5 193.8,842.7 196.2,849.5 198.6,850.5 201,854.2 203.4,838.4 205.8,842.2 208.2,838.8 210.6,834.1 213,828.1 215.4,839.2 217.8,840.3 220.2,830.9 222.6,849.9 225,835.6 227.4,831.6 229.8,842.3 232.2,815.8 234.6,825.6 237,818.5 239.4,835.2 241.8,841.3 244.2,844.9 246.6,848.2 249,834.1 251.4,842.3 253.8,851.7 256.2,837.1 258.6,838.1 261,831.1 263.4,825 265.8,833.8 268.2,844.8 270.6,844.1 273,843.9 275.4,832.6 277.8,848 280.2,840.8 282.6,850.3 285,849.2 287.4,852.2 289.8,850.5 292.2,854.7 294.6,839.9 297,841.8 299.4,842.2 301.8,827.2 304.2,821.5 306.6,794.3 309,822 311.4,790.8 313.8,801.2 316.2,822.6 318.6,806.5 321,831 323.4,849.2 325.8,835.6 328.2,837 330.6,844.2 333,830.6 335.4,812 337.8,821.3 340.2,804.2 342.6,811.2 345,796.5 346.5,826.1 346.5,861.9 102,861.9" fill="#CD9600" stroke="#CD9600" stroke-width="2.3" stroke-linejoin="round"/>
<polygon points="102,798.6 103.6,818.1 106,770.1 108.4,803.8 110.8,819.5 113.2,793.7 115.6,842.5 118,823 120.4,835.3 122.8,842.7 125.2,844.1 127.6,852.7 130,849.6 132.4,826.3 134.8,826.5 137.2,838.8 139.6,832.6 142,832.8 144.4,824.6 146.8,818.9 149.2,828.4 151.6,833.2 154,833.6 156.4,779.9 158.8,811.6 161.2,789.6 163.6,847.6 166,829.9 168.4,849 170.8,841.2 173.2,824 175.6,840.2 178,850.8 180.4,833.7 182.8,824.3 185.2,828.4 187.6,826.9 190,822.4 192.4,842.4 194.8,843.4 197.2,835.6 199.6,832.9 202,833.2 204.4,844.3 206.8,821.8 209.2,833.9 211.6,832.5 214,798.2 216.4,825.7 218.8,792.5 221.2,815.7 223.6,833.6 226,795.9 228.4,827.8 230.8,828.6 233.2,832 235.6,822.7 238,817.5 240.4,810.3 242.8,851.5 245.2,844.6 247.6,830.3 250,857.2 252.4,846.3 254.8,844.7 257.2,842.9 259.6,823.5 262,851 264.4,842.7 266.8,841.8 269.2,852.5 271.6,848.4 274,855.8 276.4,858 278.8,854.6 281.2,831.9 283.6,843.6 286,844.2 288.4,843.5 290.8,840.4 293.2,851.6 295.6,834.9 298,848.5 300.4,839.6 302.8,849.8 305.2,835.5 307.6,815 310,796.3 312.4,838.9 314.8,826.6 317.2,771 319.6,804.3 322,826.1 324.4,841.7 326.8,845.2 329.2,820.3 331.6,823.7 334,841 336.4,801 338.8,797.5 341.2,823.6 343.6,822.6 346,793 346.5,769.1 346.5,861.6 102,861.6" fill="#93AA00" stroke="#93AA00" stroke-width="2.3" stroke-linejoin="round"/>
<polygon points="102,822 103.4,808.4 105.8,722.8 108.2,728.8 110.6,725.8 113,785.9 115.4,832.6 117.8,847.4 120.2,852.5 122.6,823 125,837.1 127.4,836.4 129.8,838.5 132.2,792.3 134.6,835.2 137,837.9 139.4,846.7 141.8,853.4 144.2,843.9 146.6,853.5 149,837.6 151.4,803.8 153.8,828 156.2,811.1 158.6,809.9 161,832.8 163.4,839.6 165.8,839.7 168.2,832.5 170.6,840.1 173,843.6 175.4,853.5 177.8,830.9 180.2,844.5 182.6,844.5 185,846.3 187.4,820.4 189.8,837.8 192.2,846.4 194.6,829.8 197,845.6 199.4,835.5 201.8,846.2 204.2,839.1 206.6,825.8 209,779 211.4,819.9 213.8,811.1 216.2,821.7 218.6,832 221,847.9 223.4,852.5 225.8,837.2 228.2,813.7 230.6,823.4 233,785.6 235.4,808.6 237.8,808.3 240.2,812.4 242.6,842.5 245,843.8 247.4,847.6 249.8,855.8 252.2,854 254.6,853.5 257,839.2 259.4,837.5 261.8,844.6 264.2,821.6 266.6,842.7 269,854.4 271.4,855 273.8,838.8 276.2,858.1 278.6,845.2 281,855.5 283.4,854.8 285.8,832.1 288.2,843.7 290.6,841 293,824.4 295.4,845.2 297.8,854.3 300.2,847 302.6,845.2 305,844.5 307.4,817.5 309.8,765 312.2,836.2 314.6,805.8 317,799.7 319.4,822.6 321.8,822.5 324.2,846.5 326.6,834.9 329,837.6 331.4,828.3 333.8,837.6 336.2,817.3 338.6,787 341,801.4 343.4,832.5 345.8,828.5 346.5,775.5 346.5,862.2 102,862.2" fill="#6BB100" stroke="#6BB100" stroke-width="2.3" stroke-linejoin="round"/>
<polygon points="102,807.7 102.4,746 104.8,729.1 107.2,698.9 109.6,806.9 112,738.8 114.4,827.8 116.8,847.8 119.2,844.4 121.6,848.9 124,819.6 126.4,833.7 128.8,846.3 131.2,842.2 133.6,830.9 136,811.9 138.4,815.7 140.8,850.8 143.2,854 145.6,828 148,832.2 150.4,801.9 152.8,791.4 155.2,800.5 157.6,794.9 160,831.2 162.4,813.9 164.8,825.5 167.2,825.7 169.6,840.6 172,851.7 174.4,845.4 176.8,843.4 179.2,847.8 181.6,826.4 184,833 186.4,841.2 188.8,833.2 191.2,825.2 193.6,837.8 196,841.7 198.4,845 200.8,838.4 203.2,825.2 205.6,836.6 208,790.5 210.4,797.6 212.8,800.1 215.2,831.7 217.6,815.8 220,846.8 222.4,828.3 224.8,832.8 227.2,837.1 229.6,815 232,845.5 234.4,830.9 236.8,841.6 239.2,833.3 241.6,849.3 244,837.6 246.4,829 248.8,844.3 251.2,846.6 253.6,844.1 256,842.6 258.4,844.9 260.8,840.2 263.2,829.2 265.6,836.3 268,827.6 270.4,855.3 272.8,838.1 275.2,856.6 277.6,858.1 280,841.8 282.4,853.8 284.8,827.3 287.2,836.5 289.6,845.8 292,835.8 294.4,848.5 296.8,827.8 299.2,830.5 301.6,851.7 304,842.7 306.4,792.2 308.8,792 311.2,816.3 313.6,770.1 316,817.5 318.4,792.7 320.8,836.3 323.2,827.4 325.6,845.7 328,843.4 330.4,818.2 332.8,834.6 335.2,784.7 337.6,784.6 340,796.7 342.4,816.1 344.8,817.4 346.5,786 346.5,861.6 102,861.6" fill="#39B600" stroke="#39B600" stroke-width="2.3" stroke-linejoin="round"/>
<polygon points="102,843.6 102.7,796.1 105.1,763.7 107.5,667.5 109.9,738.9 112.3,780 114.7,822.5 117.1,840.9 119.5,852.3 121.9,822.9 124.3,824.4 126.7,825.8 129.1,841 131.5,810.1 133.9,789.7 136.3,815.9 138.7,797 141.1,826.2 143.5,832.6 145.9,845.3 148.3,839.8 150.7,841 153.1,823.4 155.5,824.8 157.9,769.2 160.3,774.9 162.7,797 165.1,805.6 167.5,845.8 169.9,853.5 172.3,851 174.7,845.7 177.1,841.8 179.5,819.3 181.9,835.2 184.3,845.8 186.7,821 189.1,826.1 191.5,847.3 193.9,824 196.3,854.2 198.7,856.1 201.1,846.7 203.5,830 205.9,829.5 208.3,799.7 210.7,828 213.1,850.1 215.5,827.5 217.9,840.2 220.3,812.8 222.7,846.6 225.1,836.6 227.5,846.8 229.9,819.3 232.3,809.8 234.7,841.2 237.1,827.4 239.5,812 241.9,824.8 244.3,853.9 246.7,848.3 249.1,857.1 251.5,857 253.9,846.8 256.3,829.6 258.7,850 261.1,838.1 263.5,828.9 265.9,850.7 268.3,836.3 270.7,835.3 273.1,850 275.5,843.4 277.9,851.7 280.3,853.1 282.7,834.7 285.1,841.7 287.5,837 289.9,850 292.3,847.7 294.7,840.4 297.1,857.1 299.5,841.9 301.9,842.5 304.3,818.5 306.7,829.2 309.1,809 311.5,843.3 313.9,838.1 316.3,820 318.7,819 321.1,836.5 323.5,855.3 325.9,851.8 328.3,853.3 330.7,827.2 333.1,834.9 335.5,799.1 337.9,814.9 340.3,781.6 342.7,773.6 345.1,798.6 346.5,817.7 346.5,862.2 102,862.2" fill="#00BA38" stroke="#00BA38" stroke-width="2.3" stroke-linejoin="round"/>
<polygon points="102,762.6 102.1,816.9 104.5,784.5 106.9,686.3 109.3,833.3 111.7,829.5 114.1,808.4 116.5,837.5 118.9,829.3 121.3,843.1 123.7,832.1 126.1,850.8 128.5,842.8 130.9,825.6 133.3,829.2 135.7,835.7 138.1,836.8 140.5,822.8 142.9,831.4 145.3,845 147.7,831.4 150.1,843.4 152.5,825.5 154.9,842.8 157.3,822.9 159.7,829.5 162.1,776.2 164.5,821.8 166.9,833.8 169.3,836.4 171.7,847.3 174.1,856.1 176.5,850.8 178.9,845.5 181.3,844.4 183.7,824.7 186.1,832.3 188.5,836.8 190.9,817.6 193.3,836.6 195.7,834.9 198.1,836.4 200.5,835.8 202.9,822.8 205.3,831.9 207.7,818.6 210.1,839 212.5,793.7 214.9,839.5 217.3,831.7 219.7,815 222.1,820.9 224.5,848.2 226.9,815.1 229.3,824.5 231.7,838.4 234.1,791.4 236.5,793.3 238.9,845.9 241.3,849.6 243.7,845.6 246.1,829 248.5,829.6 250.9,848.6 253.3,854 255.7,829.2 258.1,845.9 260.5,837.8 262.9,839 265.3,842.1 267.7,853.6 270.1,848.6 272.5,845.2 274.9,853.1 277.3,848.3 279.7,851.7 282.1,852.2 284.5,850.5 286.9,838.5 289.3,853.1 291.7,847.1 294.1,834.6 296.5,837 298.9,842.3 301.3,845.1 303.7,845.2 306.1,842 308.5,802.7 310.9,831.4 313.3,829.1 315.7,813.6 318.1,820.5 320.5,820.3 322.9,854.3 325.3,847.9 327.7,855.3 330.1,839.8 332.5,805.8 334.9,783.5 337.3,810 339.7,828.4 342.1,834.6 344.5,793.3 346.5,824.8 346.5,862.2 102,862.2" fill="#00C08B" stroke="#00C08B" stroke-width="2.3" stroke-linejoin="round"/>
<path d="M103.8 861.1V732.5" stroke="#F8766D" stroke-width="2.6" stroke-linecap="round" fill="none"/>
<path d="M182.5 861.1V763.8" stroke="#F8766D" stroke-width="2.6" stroke-linecap="round" fill="none"/>
<path d="M185 861.1V798.8" stroke="#F8766D" stroke-width="2.6" stroke-linecap="round" fill="none"/>
<path d="M216.5 861.1V749.3" stroke="#F8766D" stroke-width="2.6" stroke-linecap="round" fill="none"/>
<path d="M218.2 861.1V778.8" stroke="#F8766D" stroke-width="2.6" stroke-linecap="round" fill="none"/>
<path d="M256.2 861.1V816.3" stroke="#F8766D" stroke-width="2.6" stroke-linecap="round" fill="none"/>
<path d="M277.5 861.1V843.8" stroke="#F8766D" stroke-width="2.6" stroke-linecap="round" fill="none"/>
<path d="M307.5 861.1V765.8" stroke="#F8766D" stroke-width="2.6" stroke-linecap="round" fill="none"/>
<path d="M326.2 861.1V795.8" stroke="#F8766D" stroke-width="2.6" stroke-linecap="round" fill="none"/>
<path d="M328.8 861.1V797" stroke="#F8766D" stroke-width="2.6" stroke-linecap="round" fill="none"/>
<path d="M341.8 861.1V795.8" stroke="#F8766D" stroke-width="2.6" stroke-linecap="round" fill="none"/>
<path d="M142.5 861.1V808.8" stroke="#F07F4A" stroke-width="2.6" stroke-linecap="round" fill="none"/>
<path d="M102 861.1V737.5" stroke="#E58700" stroke-width="2.6" stroke-linecap="round" fill="none"/>
<path d="M117 861.1V782.5" stroke="#E58700" stroke-width="2.6" stroke-linecap="round" fill="none"/>
<path d="M125.5 861.1V783.8" stroke="#E58700" stroke-width="2.6" stroke-linecap="round" fill="none"/>
<path d="M127.5 861.1V782.5" stroke="#E58700" stroke-width="2.6" stroke-linecap="round" fill="none"/>
<path d="M145.8 861.1V805" stroke="#E58700" stroke-width="2.6" stroke-linecap="round" fill="none"/>
<path d="M200.8 861.1V825" stroke="#E58700" stroke-width="2.6" stroke-linecap="round" fill="none"/>
<path d="M280 861.1V837.5" stroke="#E58700" stroke-width="2.6" stroke-linecap="round" fill="none"/>
<path d="M283.2 861.1V822.5" stroke="#E58700" stroke-width="2.6" stroke-linecap="round" fill="none"/>
<path d="M286.2 861.1V806.3" stroke="#E58700" stroke-width="2.6" stroke-linecap="round" fill="none"/>
<path d="M302.5 861.1V810" stroke="#E58700" stroke-width="2.6" stroke-linecap="round" fill="none"/>
<path d="M304.5 861.1V770.5" stroke="#E58700" stroke-width="2.6" stroke-linecap="round" fill="none"/>
<path d="M322.5 861.1V775" stroke="#E58700" stroke-width="2.6" stroke-linecap="round" fill="none"/>
<path d="M331.2 861.1V806.3" stroke="#E58700" stroke-width="2.6" stroke-linecap="round" fill="none"/>
<path d="M132.8 861.1V734.5" stroke="#CD9600" stroke-width="2.6" stroke-linecap="round" fill="none"/>
<path d="M148.2 861.1V803.3" stroke="#CD9600" stroke-width="2.6" stroke-linecap="round" fill="none"/>
<path d="M197.5 861.1V823.8" stroke="#CD9600" stroke-width="2.6" stroke-linecap="round" fill="none"/>
<path d="M208 861.1V787.5" stroke="#CD9600" stroke-width="2.6" stroke-linecap="round" fill="none"/>
<path d="M235 861.1V776.3" stroke="#CD9600" stroke-width="2.6" stroke-linecap="round" fill="none"/>
<path d="M257.5 861.1V796.3" stroke="#CD9600" stroke-width="2.6" stroke-linecap="round" fill="none"/>
<path d="M263.8 861.1V806.3" stroke="#CD9600" stroke-width="2.6" stroke-linecap="round" fill="none"/>
<path d="M267 861.1V808.3" stroke="#CD9600" stroke-width="2.6" stroke-linecap="round" fill="none"/>
<path d="M273.2 861.1V787" stroke="#CD9600" stroke-width="2.6" stroke-linecap="round" fill="none"/>
<path d="M119.5 861.1V739.3" stroke="#B79F00" stroke-width="2.6" stroke-linecap="round" fill="none"/>
<path d="M205.8 861.1V743.8" stroke="#B79F00" stroke-width="2.6" stroke-linecap="round" fill="none"/>
<path d="M260.5 861.1V757" stroke="#B79F00" stroke-width="2.6" stroke-linecap="round" fill="none"/>
<path d="M165 861.1V778.8" stroke="#93AA00" stroke-width="2.6" stroke-linecap="round" fill="none"/>
<path d="M177 861.1V808.8" stroke="#93AA00" stroke-width="2.6" stroke-linecap="round" fill="none"/>
<path d="M238.2 861.1V768.8" stroke="#93AA00" stroke-width="2.6" stroke-linecap="round" fill="none"/>
<path d="M240 861.1V772.5" stroke="#93AA00" stroke-width="2.6" stroke-linecap="round" fill="none"/>
<path d="M347 861.1V770.5" stroke="#93AA00" stroke-width="2.6" stroke-linecap="round" fill="none"/>
<path d="M110 861.1V722.5" stroke="#6BB100" stroke-width="2.6" stroke-linecap="round" fill="none"/>
<path d="M144.2 861.1V805" stroke="#6BB100" stroke-width="2.6" stroke-linecap="round" fill="none"/>
<path d="M188.8 861.1V787" stroke="#6BB100" stroke-width="2.6" stroke-linecap="round" fill="none"/>
<path d="M293.8 861.1V793.8" stroke="#6BB100" stroke-width="2.6" stroke-linecap="round" fill="none"/>
<path d="M320.5 861.1V736.3" stroke="#6BB100" stroke-width="2.6" stroke-linecap="round" fill="none"/>
<path d="M113.8 861.1V761.3" stroke="#00BA38" stroke-width="2.6" stroke-linecap="round" fill="none"/>
<path d="M120 861.1V818.8" stroke="#00BA38" stroke-width="2.6" stroke-linecap="round" fill="none"/>
<path d="M124.5 861.1V821.3" stroke="#00BA38" stroke-width="2.6" stroke-linecap="round" fill="none"/>
<path d="M135 861.1V775.8" stroke="#00BA38" stroke-width="2.6" stroke-linecap="round" fill="none"/>
<path d="M141.2 861.1V811.3" stroke="#00BA38" stroke-width="2.6" stroke-linecap="round" fill="none"/>
<path d="M167.5 861.1V790" stroke="#00BA38" stroke-width="2.6" stroke-linecap="round" fill="none"/>
<path d="M170 861.1V775" stroke="#00BA38" stroke-width="2.6" stroke-linecap="round" fill="none"/>
<path d="M173.8 861.1V805" stroke="#00BA38" stroke-width="2.6" stroke-linecap="round" fill="none"/>
<path d="M182.5 861.1V818.8" stroke="#00BA38" stroke-width="2.6" stroke-linecap="round" fill="none"/>
<path d="M191.2 861.1V810" stroke="#00BA38" stroke-width="2.6" stroke-linecap="round" fill="none"/>
<path d="M195 861.1V821.3" stroke="#00BA38" stroke-width="2.6" stroke-linecap="round" fill="none"/>
<path d="M200 861.1V831.3" stroke="#00BA38" stroke-width="2.6" stroke-linecap="round" fill="none"/>
<path d="M208.8 861.1V796.3" stroke="#00BA38" stroke-width="2.6" stroke-linecap="round" fill="none"/>
<path d="M214.5 861.1V793.8" stroke="#00BA38" stroke-width="2.6" stroke-linecap="round" fill="none"/>
<path d="M232.5 861.1V786.3" stroke="#00BA38" stroke-width="2.6" stroke-linecap="round" fill="none"/>
<path d="M236.2 861.1V775" stroke="#00BA38" stroke-width="2.6" stroke-linecap="round" fill="none"/>
<path d="M243.2 861.1V816.3" stroke="#00BA38" stroke-width="2.6" stroke-linecap="round" fill="none"/>
<path d="M247 861.1V833.8" stroke="#00BA38" stroke-width="2.6" stroke-linecap="round" fill="none"/>
<path d="M252 861.1V840" stroke="#00BA38" stroke-width="2.6" stroke-linecap="round" fill="none"/>
<path d="M257.5 861.1V836.3" stroke="#00BA38" stroke-width="2.6" stroke-linecap="round" fill="none"/>
<path d="M262 861.1V808.8" stroke="#00BA38" stroke-width="2.6" stroke-linecap="round" fill="none"/>
<path d="M265 861.1V821.3" stroke="#00BA38" stroke-width="2.6" stroke-linecap="round" fill="none"/>
<path d="M271.2 861.1V843.8" stroke="#00BA38" stroke-width="2.6" stroke-linecap="round" fill="none"/>
<path d="M282.5 861.1V826.3" stroke="#00BA38" stroke-width="2.6" stroke-linecap="round" fill="none"/>
<path d="M286.2 861.1V818.8" stroke="#00BA38" stroke-width="2.6" stroke-linecap="round" fill="none"/>
<path d="M297 861.1V791.3" stroke="#00BA38" stroke-width="2.6" stroke-linecap="round" fill="none"/>
<path d="M301.2 861.1V838.8" stroke="#00BA38" stroke-width="2.6" stroke-linecap="round" fill="none"/>
<path d="M313.8 861.1V796.3" stroke="#00BA38" stroke-width="2.6" stroke-linecap="round" fill="none"/>
<path d="M323.8 861.1V811.3" stroke="#00BA38" stroke-width="2.6" stroke-linecap="round" fill="none"/>
<path d="M328.8 861.1V831.3" stroke="#00BA38" stroke-width="2.6" stroke-linecap="round" fill="none"/>
<path d="M347.5 861.1V793.8" stroke="#00BA38" stroke-width="2.6" stroke-linecap="round" fill="none"/>
<path d="M138.8 861.1V780" stroke="#00BE67" stroke-width="2.6" stroke-linecap="round" fill="none"/>
<path d="M228.2 861.1V775" stroke="#00BE67" stroke-width="2.6" stroke-linecap="round" fill="none"/>
<path d="M289.5 861.1V782" stroke="#00BE67" stroke-width="2.6" stroke-linecap="round" fill="none"/>
<path d="M128.8 861.1V786.3" stroke="#00C08B" stroke-width="2.6" stroke-linecap="round" fill="none"/>
<path d="M132.5 861.1V781.3" stroke="#00C08B" stroke-width="2.6" stroke-linecap="round" fill="none"/>
<path d="M157 861.1V791.3" stroke="#00C08B" stroke-width="2.6" stroke-linecap="round" fill="none"/>
<path d="M212 861.1V777.5" stroke="#00C08B" stroke-width="2.6" stroke-linecap="round" fill="none"/>
<path d="M220 861.1V821.3" stroke="#00C08B" stroke-width="2.6" stroke-linecap="round" fill="none"/>
<path d="M225 861.1V823.8" stroke="#00C08B" stroke-width="2.6" stroke-linecap="round" fill="none"/>
<path d="M306.2 861.1V796.3" stroke="#00C08B" stroke-width="2.6" stroke-linecap="round" fill="none"/>
<path d="M315.8 861.1V754.3" stroke="#00C08B" stroke-width="2.6" stroke-linecap="round" fill="none"/>
<polygon points="102,825.8 102,802.9 104.4,820.4 106.8,812.9 109.2,814.2 111.6,820.6 114,792.2 116.4,824.4 118.8,844.6 121.2,839.2 123.6,835.8 126,836.2 128.4,832.9 130.8,834.8 133.2,832.9 135.6,825.6 138,834.3 140.4,831.4 142.8,817.1 145.2,843.4 147.6,832.5 150,832.8 152.4,805.1 154.8,810.1 157.2,820.1 159.6,837 162,797.1 164.4,830.8 166.8,817.5 169.2,807.4 171.6,838.4 174,809.1 176.4,844.8 178.8,845.3 181.2,846.8 183.6,844.1 186,822.1 188.4,805.2 190.8,809 193.2,843.6 195.6,841.9 198,837.7 200.4,845.7 202.8,844.2 205.2,836 207.6,812.6 210,804.6 212.4,822.1 214.8,818.7 217.2,827.5 219.6,848.2 222,837 224.4,843.6 226.8,840.1 229.2,810.6 231.6,785 234,806.1 236.4,833 238.8,828 241.2,831.3 243.6,841.2 246,850.6 248.4,835.3 250.8,846.6 253.2,854.1 255.6,852.1 258,833.1 260.4,845.7 262.8,844.6 265.2,822 267.6,835.6 270,853.3 272.4,855.4 274.8,843.7 277.2,843.3 279.6,851 282,836.1 284.4,843.1 286.8,843.6 289.2,832.6 291.6,826.4 294,836.2 296.4,817 298.8,840.1 301.2,841.2 303.6,840.5 306,815.9 308.4,794.5 310.8,793.6 313.2,809.3 315.6,820.9 318,780.6 320.4,822.8 322.8,835.4 325.2,847.5 327.6,847.6 330,843.9 332.4,816.6 334.8,833.5 337.2,822.5 339.6,838 342,812.2 344.4,837.1 346.5,817.6 346.5,861.6 102,861.6" fill="#6BB100" stroke="#6BB100" stroke-width="2.4" stroke-linejoin="round"/>
<polygon points="102,800.3 104.1,823.2 106.5,801 108.9,788.7 111.3,822.9 113.7,827.4 116.1,829 118.5,844.7 120.9,843.1 123.3,836 125.7,844.5 128.1,828.9 130.5,824.2 132.9,836.3 135.3,808.6 137.7,802.6 140.1,824.2 142.5,828.1 144.9,819.2 147.3,848.4 149.7,833.9 152.1,840 154.5,840.2 156.9,830.5 159.3,836.3 161.7,831.1 164.1,821.8 166.5,826.3 168.9,783.6 171.3,792.2 173.7,843.6 176.1,807.3 178.5,847.4 180.9,849 183.3,840.1 185.7,831.7 188.1,838.2 190.5,804.3 192.9,838.2 195.3,848.9 197.7,838.3 200.1,851.4 202.5,850.7 204.9,822.9 207.3,808.7 209.7,795.8 212.1,786.8 214.5,837.5 216.9,842.4 219.3,837.5 221.7,849 224.1,846.8 226.5,841.4 228.9,835.4 231.3,797.7 233.7,811.1 236.1,801.9 238.5,830.8 240.9,803.7 243.3,834 245.7,827.3 248.1,852.2 250.5,850.6 252.9,839.8 255.3,841.9 257.7,852.9 260.1,824.6 262.5,843.8 264.9,833.9 267.3,850.4 269.7,838.2 272.1,847.7 274.5,855.1 276.9,853.5 279.3,848.2 281.7,838.7 284.1,836.3 286.5,840.8 288.9,839.1 291.3,802.7 293.7,834.1 296.1,839 298.5,832.5 300.9,839.5 303.3,848.2 305.7,813.4 308.1,834.7 310.5,826.9 312.9,836.9 315.3,830.5 317.7,791.9 320.1,782.6 322.5,810.3 324.9,841.2 327.3,841.6 329.7,844.1 332.1,846.7 334.5,804.8 336.9,840.2 339.3,828.1 341.7,832.5 344.1,837.5 346.5,816.8 346.5,861.6 102,861.6" fill="#00BA38" stroke="#00BA38" stroke-width="2.4" stroke-linejoin="round"/>
<polygon points="102,825.6 103,796.5 105.4,801.7 107.8,749.9 110.2,807.4 112.6,799.2 115,808.6 117.4,827.9 119.8,847.5 122.2,832.9 124.6,840.1 127,841.3 129.4,830.3 131.8,826.4 134.2,793.8 136.6,835.3 139,835.7 141.4,818.5 143.8,841.7 146.2,840.1 148.6,847 151,823.6 153.4,839.7 155.8,837 158.2,838.9 160.6,830 163,835.4 165.4,797.2 167.8,823.5 170.2,818.1 172.6,805.9 175,821.6 177.4,845.6 179.8,844.1 182.2,826.1 184.6,835.6 187,833.6 189.4,832.3 191.8,843.6 194.2,822.5 196.6,847.7 199,850.8 201.4,841.6 203.8,850 206.2,845.6 208.6,838.8 211,833.3 213.4,836.9 215.8,834.6 218.2,841.9 220.6,836.1 223,834.4 225.4,833.3 227.8,833.4 230.2,810.4 232.6,806.6 235,825.3 237.4,798.2 239.8,827.4 242.2,842.3 244.6,847.6 247,843.9 249.4,840 251.8,843.1 254.2,844.7 256.6,842.7 259,850.3 261.4,828.5 263.8,846.5 266.2,847.4 268.6,852.2 271,843.3 273.4,847.5 275.8,846.8 278.2,844.3 280.6,852.2 283,850 285.4,829 287.8,819.1 290.2,835.5 292.6,819.8 295,838.5 297.4,839 299.8,845.1 302.2,832.8 304.6,814.8 307,800 309.4,833.4 311.8,810.6 314.2,805.8 316.6,752.4 319,758.6 321.4,780.2 323.8,844.1 326.2,841.9 328.6,847.3 331,843.4 333.4,844.2 335.8,842.7 338.2,839.7 340.6,836.1 343,797.5 345.4,820 346.5,822.2 346.5,861.6 102,861.6" fill="#00BE67" stroke="#00BE67" stroke-width="2.4" stroke-linejoin="round"/>
<polygon points="102,794.7 102.5,762.4 104.9,727.7 107.3,806.1 109.7,746.2 112.1,825.2 114.5,825.6 116.9,835.7 119.3,846.4 121.7,834 124.1,841.7 126.5,812 128.9,836.4 131.3,818.3 133.7,825.1 136.1,812 138.5,791.3 140.9,833.5 143.3,820.7 145.7,834.6 148.1,845.5 150.5,841.7 152.9,840.1 155.3,796.1 157.7,824.5 160.1,822.3 162.5,834.7 164.9,834.5 167.3,831.1 169.7,791.5 172.1,839 174.5,841.2 176.9,844.8 179.3,837.1 181.7,846.1 184.1,843.2 186.5,839.6 188.9,796.2 191.3,838.8 193.7,837 196.1,848.7 198.5,827.6 200.9,841.2 203.3,850.2 205.7,840.9 208.1,841.2 210.5,838.1 212.9,828.3 215.3,809.9 217.7,844.8 220.1,847.5 222.5,834.6 224.9,848.6 227.3,836.9 229.7,801.9 232.1,822.8 234.5,779.9 236.9,796.3 239.3,822.6 241.7,805.9 244.1,848.2 246.5,836.1 248.9,845.5 251.3,853.7 253.7,854 256.1,836.1 258.5,835.5 260.9,834.1 263.3,834.7 265.7,848 268.1,852 270.5,852.6 272.9,850.5 275.3,851.9 277.7,844.3 280.1,847 282.5,850.2 284.9,829.5 287.3,835.2 289.7,809.9 292.1,818.5 294.5,839.8 296.9,818.6 299.3,831 301.7,848.4 304.1,841 306.5,833.5 308.9,835 311.3,833.8 313.7,807.8 316.1,815.8 318.5,823.5 320.9,785 323.3,834.5 325.7,831.9 328.1,844.4 330.5,846.4 332.9,845.5 335.3,841.6 337.7,828.4 340.1,834.3 342.5,826.2 344.9,833.9 346.5,821 346.5,861.6 102,861.6" fill="#00C08B" stroke="#00C08B" stroke-width="2.4" stroke-linejoin="round"/>
<polygon points="102,832.2 102,823.6 105,670 106.2,667.5 109.2,801 111.6,826.6 114,832.7 116.4,849.8 118.8,835.8 121.2,855.5 123.6,855.2 126,854 128.4,848.2 130.8,841.7 133.8,810 135.6,836.5 138,831.8 140.4,832.4 142.8,844.6 145.2,854.3 147.6,843.1 150,838.9 153,800 153.8,785 154.5,800 157.2,825.3 160,775 162,837.6 164.4,818.1 166.8,839.6 169.2,855.4 171.6,853.6 174,855.8 176.4,849.2 178.8,853.4 181.2,853.6 183.6,837.7 186,849.2 188.8,820 190.8,845.9 193.2,851.6 195.6,847.6 198,846 200.4,851.4 202.8,851.5 205.2,831.2 207.6,840.4 210,844.4 211.2,795 212.4,840.4 214.8,844.7 217.2,842.6 219.6,843.8 222,850.5 224.4,852.3 226.8,835.9 229.2,821.1 231.6,831.2 234,831.1 235,805 236.4,846.3 238.8,838.8 241.2,854 243.6,854 246,856.6 248.4,856.7 250.8,850.8 253.2,846.8 255.6,854.6 258,847.3 260.4,853 262.5,835 265.2,844.9 267.6,856.3 270,851.7 272.4,857.9 274.8,857.3 277.2,858.1 279.6,855 282,853.3 284.4,853.9 286.8,854.1 289.2,846.3 290,845 291.6,856.4 294,848.9 296.4,853.1 298.8,854.1 301.2,854.8 303.6,851.5 306,846.7 308.4,825.6 309.2,785 310,750 310.8,785 313.2,841.8 315.5,785 318,842.4 320.4,847.3 322.8,836 325.2,846.4 327.6,853.1 330,847.3 332.4,839.3 334.8,800 335.5,785 336.2,800 337.2,834.5 339.6,798.2 342,811.8 344.4,819.8 346.2,792.5 346.5,841.8 346.5,864 343.5,861.4 340.5,861.4 337.6,862.7 334.6,861.4 331.6,863.9 328.6,861 325.6,860.8 322.6,861.3 319.7,862.7 316.7,862.7 313.7,861 310.7,861.3 307.7,860.9 304.8,861.2 301.8,863.9 298.8,861.3 295.8,861.3 292.8,864.1 289.8,864.3 286.9,861.1 283.9,860.9 280.9,862.6 277.9,861 274.9,861.1 272,861.3 269,861.1 266,860.9 263,860.8 260,861.4 257,861.1 254.1,861 251.1,860.9 248.1,860.9 245.1,860.8 242.1,861.1 239.2,861.3 236.2,861.3 233.2,860.9 230.2,860.9 227.2,862.8 224.2,860.8 221.3,861 218.3,860.9 215.3,863.8 212.3,861.2 209.3,864.2 206.4,861.3 203.4,862.3 200.4,862.7 197.4,861.2 194.4,862.4 191.4,861 188.5,861.4 185.5,861.3 182.5,864.2 179.5,861.1 176.5,861.3 173.6,861.1 170.6,862.6 167.6,861.1 164.6,861.3 161.6,863.9 158.6,861.1 155.7,861.2 152.7,861.1 149.7,861.2 146.7,861.1 143.7,862.2 140.8,862.4 137.8,861.2 134.8,860.9 131.8,862.2 128.8,861 125.8,861.3 122.9,860.9 119.9,862.2 116.9,861 113.9,861.3 110.9,861.3 108,861 105,862.5 102,861.1" fill="#00BFC4" stroke="#00BFC4" stroke-width="2.5" stroke-linejoin="round"/>
<polygon points="425.3,832.8 427.6,815.6 430,832.6 432.4,804.4 434.8,811 437.2,823.5 439.6,836.8 442,823.6 444.4,816.2 446.8,829.3 449.2,842.4 451.6,836 454,818.3 456.4,812.1 458.8,848.7 461.2,836.6 463.6,837.8 466,840.8 468.4,845.3 470.8,849.7 473.2,847.7 475.6,836.5 478,826.7 480.4,839.9 482.8,831.4 485.2,829.8 487.6,818 490,807.6 492.4,834.9 494.8,836.5 497.2,840.5 499.6,835.9 502,833.8 504.4,849.9 506.8,811.5 509.2,842.2 511.6,827 514,844.5 516.4,835.6 518.8,845.2 521.2,847.8 523.6,847.2 526,832.5 528.4,833.3 530.8,826.5 533.2,813.9 535.6,801.2 538,820.5 540.4,780.8 542.8,839.4 545.2,854.8 547.6,818.6 550,806.7 552.4,768.5 554.8,735.2 557.2,804.8 559.6,741 562,753.4 564.4,796.2 566.8,845.1 569.2,842.9 571.6,817.1 574,802.8 576.4,820.8 578.8,772.8 581.2,770 583.6,794.1 586,773.8 588.4,746.6 590.8,780.7 593.2,797.2 595.6,844.9 598,840.6 600.4,840.6 602.8,837.4 605.2,833.7 607.6,845.4 610,829.8 612.4,835.5 614.8,829.9 617.2,843.9 619.6,851.4 622,852.9 624.4,836.8 626.8,836.2 629.2,805.6 631.6,793.4 634,807.6 636.4,836.3 638.8,766.1 641.2,816.5 643.6,794.4 646,806.1 648.4,844.3 650.8,853.1 653.2,829.5 655.6,827.1 658,841.4 660.4,813.8 662.8,818.1 665.2,844.8 667.6,835.3 669.9,835.7 669.9,862.1 425.3,862.1" fill="#F8766D" stroke="#F8766D" stroke-width="2.3" stroke-linejoin="round"/>
<polygon points="425.3,827.1 426.9,823 429.3,817.7 431.7,840.8 434.1,828.3 436.5,851.6 438.9,850.1 441.3,850.4 443.7,820.4 446.1,834.6 448.5,847.8 450.9,844.5 453.3,825.5 455.7,793.7 458.1,837.9 460.5,843.6 462.9,825.7 465.3,847 467.7,851.3 470.1,846.3 472.5,842.6 474.9,807.3 477.3,814.6 479.7,804.7 482.1,828.7 484.5,843.5 486.9,822.3 489.3,826.1 491.7,825.2 494.1,846.7 496.5,849.7 498.9,833.9 501.3,836.8 503.7,826.5 506.1,845.4 508.5,847.3 510.9,809.5 513.3,835.8 515.7,842.6 518.1,856.8 520.5,839.1 522.9,842.2 525.3,843.3 527.7,837.2 530.1,849 532.5,838.2 534.9,840.2 537.3,826.1 539.7,823 542.1,847.8 544.5,852.1 546.9,823.5 549.3,826 551.7,815.4 554.1,710 556.5,684.7 558.9,742.4 561.3,667.8 563.7,763.2 566.1,811 568.5,816.6 570.9,851.2 573.3,828.8 575.7,765.3 578.1,807.2 580.5,760.1 582.9,816.4 585.3,825.5 587.7,775.2 590.1,824.6 592.5,771.5 594.9,820.2 597.3,839 599.7,834.4 602.1,844.3 604.5,855.7 606.9,842.1 609.3,814.2 611.7,831.7 614.1,825.9 616.5,847.4 618.9,822.9 621.3,839.4 623.7,845.4 626.1,827.8 628.5,826.2 630.9,783.9 633.3,813.6 635.7,709.5 638.1,830.6 640.5,834.4 642.9,783.4 645.3,822.4 647.7,826.7 650.1,845.8 652.5,829.5 654.9,839 657.3,820 659.7,823.6 662.1,798.3 664.5,835.4 666.9,827.6 669.3,830.6 669.9,847.6 669.9,862.3 425.3,862.3" fill="#F07F4A" stroke="#F07F4A" stroke-width="2.3" stroke-linejoin="round"/>
<polygon points="425.3,832.1 426.6,798.9 429,799.3 431.4,841.6 433.8,816.3 436.2,823.5 438.6,847.9 441,849.2 443.4,839.7 445.8,834 448.2,826.7 450.6,852.4 453,845.3 455.4,803.2 457.8,827.7 460.2,836.1 462.6,816.4 465,844.4 467.4,848.3 469.8,846.3 472.2,845.3 474.6,797.6 477,837 479.4,828.7 481.8,806.6 484.2,847.8 486.6,848.5 489,843.4 491.4,852.2 493.8,853.1 496.2,850 498.6,850.1 501,845.1 503.4,827.4 505.8,830 508.2,815.2 510.6,826.6 513,819.5 515.4,844.2 517.8,833.5 520.2,835.1 522.6,853.8 525,839.6 527.4,823 529.8,820.1 532.2,807.4 534.6,806.5 537,813.2 539.4,824.9 541.8,827.6 544.2,852.7 546.6,839.6 549,826.8 551.4,772.8 553.8,759.6 556.2,788.8 558.6,737.7 561,676.4 563.4,787.6 565.8,797.3 568.2,826.2 570.6,844.3 573,814.3 575.4,783.4 577.8,762 580.2,759.2 582.6,732.9 585,777.7 587.4,803.8 589.8,761.5 592.2,831.9 594.6,833.9 597,845.2 599.4,844 601.8,852 604.2,843.7 606.6,820.1 609,831.7 611.4,837.3 613.8,846.5 616.2,841 618.6,837.2 621,853.1 623.4,840.5 625.8,841 628.2,806.7 630.6,803.9 633,804.1 635.4,735.5 637.8,771.6 640.2,832.5 642.6,847.2 645,815.1 647.4,834 649.8,845.8 652.2,850.6 654.6,842.5 657,838.9 659.4,842 661.8,833.8 664.2,830.3 666.6,796.9 669,817.9 669.9,822.1 669.9,862 425.3,862" fill="#E58700" stroke="#E58700" stroke-width="2.3" stroke-linejoin="round"/>
<polygon points="425.3,826.8 427.6,761.2 430,788.8 432.4,829.1 434.8,811.7 437.2,827.2 439.6,815.9 442,822 444.4,837.8 446.8,839.4 449.2,851 451.6,844.9 454,835.1 456.4,808.1 458.8,810.1 461.2,812.5 463.6,813.6 466,830.8 468.4,825.2 470.8,829 473.2,824 475.6,814.5 478,821.5 480.4,831.6 482.8,821.5 485.2,809 487.6,816.8 490,827.1 492.4,831.9 494.8,845.2 497.2,831.8 499.6,841.2 502,836.5 504.4,842.1 506.8,830.8 509.2,839.5 511.6,817.7 514,839.4 516.4,830.6 518.8,845.2 521.2,844.2 523.6,844.8 526,840.8 528.4,807.2 530.8,834.6 533.2,804.6 535.6,789.1 538,799.6 540.4,813.8 542.8,846.4 545.2,839.2 547.6,829.6 550,815.2 552.4,796.9 554.8,814.6 557.2,756.7 559.6,711.3 562,708.8 564.4,786.3 566.8,820.9 569.2,831.6 571.6,847 574,834.3 576.4,777.4 578.8,800 581.2,772.1 583.6,767.6 586,740 588.4,811.2 590.8,830.2 593.2,825.7 595.6,827.6 598,855.5 600.4,839 602.8,841.8 605.2,841.1 607.6,845.4 610,836.2 612.4,823.6 614.8,834.3 617.2,825.4 619.6,839.1 622,839.5 624.4,843.9 626.8,824.8 629.2,791.2 631.6,832.4 634,778.7 636.4,808.1 638.8,834.5 641.2,774.7 643.6,787.6 646,822.5 648.4,834 650.8,837.3 653.2,840.7 655.6,826.4 658,812.6 660.4,809.9 662.8,823.2 665.2,835.8 667.6,804.6 669.9,832.4 669.9,862.3 425.3,862.3" fill="#CD9600" stroke="#CD9600" stroke-width="2.3" stroke-linejoin="round"/>
<polygon points="425.3,812.6 425.6,814.8 428,769.5 430.4,814.3 432.8,816.6 435.2,794.9 437.6,815.4 440,833.6 442.4,835.9 444.8,843.1 447.2,849.8 449.6,852.2 452,840.7 454.4,777.8 456.8,788.5 459.2,819 461.6,831.1 464,809.2 466.4,817.8 468.8,837.4 471.2,849 473.6,843.4 476,833.2 478.4,829.4 480.8,814.3 483.2,813.8 485.6,827.6 488,837 490.4,826.7 492.8,834 495.2,848.2 497.6,849.6 500,844.2 502.4,837.6 504.8,847.8 507.2,850.4 509.6,813.1 512,828.9 514.4,838.3 516.8,856.1 519.2,857 521.6,842.8 524,836 526.4,811.7 528.8,831.3 531.2,809.5 533.6,832.8 536,804.8 538.4,792 540.8,821.2 543.2,821.5 545.6,838.6 548,821.3 550.4,832.6 552.8,783.9 555.2,764 557.6,785.6 560,791.5 562.4,774 564.8,746.1 567.2,842.1 569.6,811.4 572,839.8 574.4,813.1 576.8,770.1 579.2,803 581.6,767.2 584,766.7 586.4,822.2 588.8,769.3 591.2,820.4 593.6,836.1 596,844.1 598.4,836.9 600.8,847.7 603.2,839.4 605.6,846.9 608,834.4 610.4,824.8 612.8,827 615.2,834.8 617.6,824.2 620,832.2 622.4,843.4 624.8,840.8 627.2,822.5 629.6,804.5 632,779.5 634.4,760.4 636.8,764.4 639.2,826.7 641.6,810.7 644,797.3 646.4,808.4 648.8,848.7 651.2,833.2 653.6,848.7 656,830 658.4,842.3 660.8,820.7 663.2,800.5 665.6,810.7 668,823.2 669.9,838.3 669.9,862.6 425.3,862.6" fill="#B79F00" stroke="#B79F00" stroke-width="2.3" stroke-linejoin="round"/>
<path d="M426 861.6V716.3" stroke="#F8766D" stroke-width="2.6" stroke-linecap="round" fill="none"/>
<path d="M448.5 861.6V796.3" stroke="#F8766D" stroke-width="2.6" stroke-linecap="round" fill="none"/>
<path d="M470.2 861.6V841.3" stroke="#F8766D" stroke-width="2.6" stroke-linecap="round" fill="none"/>
<path d="M476.5 861.6V803.8" stroke="#F8766D" stroke-width="2.6" stroke-linecap="round" fill="none"/>
<path d="M481 861.6V800" stroke="#F8766D" stroke-width="2.6" stroke-linecap="round" fill="none"/>
<path d="M483.5 861.6V796.3" stroke="#F8766D" stroke-width="2.6" stroke-linecap="round" fill="none"/>
<path d="M485.5 861.6V778.8" stroke="#F8766D" stroke-width="2.6" stroke-linecap="round" fill="none"/>
<path d="M494 861.6V836.3" stroke="#F8766D" stroke-width="2.6" stroke-linecap="round" fill="none"/>
<path d="M542.8 861.6V816.3" stroke="#F8766D" stroke-width="2.6" stroke-linecap="round" fill="none"/>
<path d="M550.2 861.6V796.3" stroke="#F8766D" stroke-width="2.6" stroke-linecap="round" fill="none"/>
<path d="M569 861.6V795.5" stroke="#F8766D" stroke-width="2.6" stroke-linecap="round" fill="none"/>
<path d="M597 861.6V774.5" stroke="#F8766D" stroke-width="2.6" stroke-linecap="round" fill="none"/>
<path d="M599 861.6V836.3" stroke="#F8766D" stroke-width="2.6" stroke-linecap="round" fill="none"/>
<path d="M602 861.6V774.5" stroke="#F8766D" stroke-width="2.6" stroke-linecap="round" fill="none"/>
<path d="M610.2 861.6V816.3" stroke="#F8766D" stroke-width="2.6" stroke-linecap="round" fill="none"/>
<path d="M621.5 861.6V836.3" stroke="#F8766D" stroke-width="2.6" stroke-linecap="round" fill="none"/>
<path d="M626 861.6V771.8" stroke="#F8766D" stroke-width="2.6" stroke-linecap="round" fill="none"/>
<path d="M654 861.6V779.5" stroke="#F8766D" stroke-width="2.6" stroke-linecap="round" fill="none"/>
<path d="M427 861.6V700" stroke="#E58700" stroke-width="2.6" stroke-linecap="round" fill="none"/>
<path d="M428.2 861.6V676.3" stroke="#E58700" stroke-width="2.6" stroke-linecap="round" fill="none"/>
<path d="M432.8 861.6V790" stroke="#E58700" stroke-width="2.6" stroke-linecap="round" fill="none"/>
<path d="M435.8 861.6V759.3" stroke="#E58700" stroke-width="2.6" stroke-linecap="round" fill="none"/>
<path d="M437.8 861.6V801.3" stroke="#E58700" stroke-width="2.6" stroke-linecap="round" fill="none"/>
<path d="M442 861.6V821.3" stroke="#E58700" stroke-width="2.6" stroke-linecap="round" fill="none"/>
<path d="M452.2 861.6V765" stroke="#E58700" stroke-width="2.6" stroke-linecap="round" fill="none"/>
<path d="M461.5 861.6V831.3" stroke="#E58700" stroke-width="2.6" stroke-linecap="round" fill="none"/>
<path d="M504 861.6V831.3" stroke="#E58700" stroke-width="2.6" stroke-linecap="round" fill="none"/>
<path d="M521.5 861.6V845" stroke="#E58700" stroke-width="2.6" stroke-linecap="round" fill="none"/>
<path d="M532.8 861.6V795.8" stroke="#E58700" stroke-width="2.6" stroke-linecap="round" fill="none"/>
<path d="M572.8 861.6V831.3" stroke="#E58700" stroke-width="2.6" stroke-linecap="round" fill="none"/>
<path d="M581.5 861.6V705.5" stroke="#E58700" stroke-width="2.6" stroke-linecap="round" fill="none"/>
<path d="M584 861.6V726.3" stroke="#E58700" stroke-width="2.6" stroke-linecap="round" fill="none"/>
<path d="M605.8 861.6V795.3" stroke="#E58700" stroke-width="2.6" stroke-linecap="round" fill="none"/>
<path d="M615.2 861.6V801.3" stroke="#E58700" stroke-width="2.6" stroke-linecap="round" fill="none"/>
<path d="M630.2 861.6V768" stroke="#E58700" stroke-width="2.6" stroke-linecap="round" fill="none"/>
<path d="M651 861.6V792.5" stroke="#E58700" stroke-width="2.6" stroke-linecap="round" fill="none"/>
<path d="M669 861.6V822.5" stroke="#E58700" stroke-width="2.6" stroke-linecap="round" fill="none"/>
<path d="M670.8 861.6V846.3" stroke="#E58700" stroke-width="2.6" stroke-linecap="round" fill="none"/>
<path d="M508.2 861.6V785" stroke="#DE8C00" stroke-width="2.6" stroke-linecap="round" fill="none"/>
<path d="M431 861.6V765" stroke="#CD9600" stroke-width="2.6" stroke-linecap="round" fill="none"/>
<path d="M439.8 861.6V792" stroke="#CD9600" stroke-width="2.6" stroke-linecap="round" fill="none"/>
<path d="M457.8 861.6V796.3" stroke="#CD9600" stroke-width="2.6" stroke-linecap="round" fill="none"/>
<path d="M516.5 861.6V838.8" stroke="#CD9600" stroke-width="2.6" stroke-linecap="round" fill="none"/>
<path d="M642.8 861.6V786.3" stroke="#CD9600" stroke-width="2.6" stroke-linecap="round" fill="none"/>
<path d="M548.2 861.6V733" stroke="#B79F00" stroke-width="2.6" stroke-linecap="round" fill="none"/>
<path d="M612.2 861.6V753.3" stroke="#B79F00" stroke-width="2.6" stroke-linecap="round" fill="none"/>
<path d="M646 861.6V763.3" stroke="#B79F00" stroke-width="2.6" stroke-linecap="round" fill="none"/>
<polygon points="425.6,747.5 427.7,747.5 428.3,761.3 430.4,761.3 431,825.2 433.1,825.2 433.7,838.3 435.8,838.3 436.4,845.7 438.5,845.7 439.1,829 441.2,829 441.8,825 443.9,825 444.5,834.6 446.6,834.6 447.2,840.2 449.3,840.2 449.9,855.3 452,855.3 452.6,723.8 454.7,723.8 455.3,723.8 457.4,723.8 458,819.7 460.1,819.7 460.7,824.9 462.8,824.9 463.4,815 465.5,815 466.1,852.8 468.2,852.8 468.8,849.6 470.9,849.6 471.5,835 473.6,835 474.2,786.8 476.3,786.8 476.9,807.5 479,807.5 479.6,807.5 481.7,807.5 482.3,807.5 484.4,807.5 485,848.1 487.1,848.1 487.7,821.2 489.8,821.2 490.4,851.3 492.5,851.3 493.1,855.8 495.2,855.8 495.8,856.9 497.9,856.9 498.5,850.2 500.6,850.2 501.2,852.5 503.3,852.5 503.9,850.2 506,850.2 506.6,841 508.7,841 509.3,807.5 511.4,807.5 512,832.9 514.1,832.9 514.7,838.5 516.8,838.5 517.4,842.3 519.5,842.3 520.1,845 522.2,845 522.8,834.6 524.9,834.6 525.5,786.8 527.6,786.8 528.2,814.4 530.3,814.4 530.9,846.2 533,846.2 533.6,773.2 535.7,773.2 536.3,836.9 538.4,836.9 539,791.2 541.1,791.2 541.7,834.8 543.8,834.8 544.4,853.6 546.5,853.6 547.1,826.6 549.2,826.6 549.8,767.9 551.9,767.9 552.5,667.5 554.6,667.5 555.2,667.5 557.3,667.5 557.9,667.5 560,667.5 560.6,667.5 562.7,667.5 563.3,723.8 565.4,723.8 566,803 568.1,803 568.7,824.9 570.8,824.9 571.4,841.1 573.5,841.1 574.1,723.8 576.2,723.8 576.8,723.8 578.9,723.8 579.5,723.8 581.6,723.8 582.2,723.8 584.3,723.8 584.9,723.8 587,723.8 587.6,723.8 589.7,723.8 590.3,787.7 592.4,787.7 593,840 595.1,840 595.7,854.5 597.8,854.5 598.4,843.2 600.5,843.2 601.1,848.5 603.2,848.5 603.8,846.1 605.9,846.1 606.5,852.8 608.6,852.8 609.2,815 611.3,815 611.9,842.7 614,842.7 614.6,851.3 616.7,851.3 617.3,807.5 619.4,807.5 620,855.3 622.1,855.3 622.7,845.1 624.8,845.1 625.4,845.7 627.5,845.7 628.1,828.8 630.2,828.8 630.8,723.8 632.9,723.8 633.5,703 635.6,703 636.2,747.5 638.3,747.5 638.9,816.6 641,816.6 641.6,845.4 643.7,845.4 644.3,823 646.4,823 647,840.4 649.1,840.4 649.7,846.4 651.8,846.4 652.4,837.5 654.5,837.5 655.1,849.8 657.2,849.8 657.8,818.7 659.9,818.7 660.5,773.2 662.6,773.2 663.2,788.1 665.3,788.1 665.9,839.3 668,839.3 668.6,838.5 669.6,838.5 669.6,861.5 666.6,863 663.6,861.5 660.6,861.6 657.7,861.7 654.7,863.1 651.7,863.3 648.7,861.7 645.8,864.6 642.8,861.8 639.8,861.3 636.8,864.5 633.9,861.5 630.9,863.3 627.9,861.7 624.9,861.7 622,861.5 619,861.7 616,861.9 613,861.4 610.1,861.4 607.1,861.6 604.1,861.5 601.1,864.8 598.2,861.4 595.2,861.7 592.2,861.5 589.2,861.7 586.3,861.6 583.3,861.9 580.3,861.4 577.3,864.8 574.4,861.8 571.4,864.5 568.4,861.7 565.4,861.4 562.5,861.4 559.5,861.8 556.5,861.8 553.5,861.7 550.6,862.8 547.6,864.3 544.6,861.9 541.6,861.7 538.7,864.7 535.7,863 532.7,861.5 529.7,861.6 526.8,861.7 523.8,863 520.8,862.9 517.8,863.2 514.9,864.4 511.9,861.7 508.9,861.8 506,861.7 503,861.4 500,864.5 497,861.4 494.1,864.8 491.1,861.4 488.1,861.5 485.1,861.8 482.2,864.4 479.2,863 476.2,863 473.2,861.6 470.3,861.7 467.3,861.4 464.3,861.3 461.3,863 458.4,861.7 455.4,861.6 452.4,861.3 449.4,862.9 446.5,863.2 443.5,861.4 440.5,863 437.5,863.1 434.6,861.8 431.6,861.3 428.6,863 425.6,861.5" fill="#94A600" stroke="#94A600" stroke-width="1.0" stroke-linejoin="round"/>
<rect x="90.9" y="109.4" width="268.1" height="213.4" fill="none" stroke="#333" stroke-width="1.5"/>
<rect x="90.9" y="64.1" width="268.1" height="43.6" fill="#D9D9D9" stroke="#333" stroke-width="1.5"/>
<text x="224.9" y="94.7" text-anchor="middle" font-size="23.47" fill="#1A1A1A">1</text>
<text x="76" y="316.1" text-anchor="end" font-size="23.47" fill="#4D4D4D">0</text>
<text x="76" y="273.6" text-anchor="end" font-size="23.47" fill="#4D4D4D">5</text>
<text x="76" y="231.2" text-anchor="end" font-size="23.47" fill="#4D4D4D">10</text>
<text x="76" y="188.7" text-anchor="end" font-size="23.47" fill="#4D4D4D">15</text>
<text x="76" y="146.3" text-anchor="end" font-size="23.47" fill="#4D4D4D">20</text>
<path d="M82.7 307.7H90.1M82.7 265.2H90.1M82.7 222.8H90.1M82.7 180.3H90.1M82.7 137.9H90.1" stroke="#333" stroke-width="2.6" fill="none"/>
<rect x="414.2" y="109.4" width="268.1" height="213.4" fill="none" stroke="#333" stroke-width="1.5"/>
<rect x="414.2" y="64.1" width="268.1" height="43.6" fill="#D9D9D9" stroke="#333" stroke-width="1.5"/>
<text x="548.3" y="94.7" text-anchor="middle" font-size="23.47" fill="#1A1A1A">2</text>
<text x="399.4" y="310.8" text-anchor="end" font-size="23.47" fill="#4D4D4D">0</text>
<text x="399.4" y="264.8" text-anchor="end" font-size="23.47" fill="#4D4D4D">5</text>
<text x="399.4" y="218.8" text-anchor="end" font-size="23.47" fill="#4D4D4D">10</text>
<text x="399.4" y="172.8" text-anchor="end" font-size="23.47" fill="#4D4D4D">15</text>
<text x="399.4" y="126.8" text-anchor="end" font-size="23.47" fill="#4D4D4D">20</text>
<path d="M406.1 302.4H413.4M406.1 256.4H413.4M406.1 210.4H413.4M406.1 164.4H413.4M406.1 118.4H413.4" stroke="#333" stroke-width="2.6" fill="none"/>
<rect x="737.6" y="109.4" width="268.1" height="213.4" fill="none" stroke="#333" stroke-width="1.5"/>
<rect x="737.6" y="64.1" width="268.1" height="43.6" fill="#D9D9D9" stroke="#333" stroke-width="1.5"/>
<text x="871.7" y="94.7" text-anchor="middle" font-size="23.47" fill="#1A1A1A">3</text>
<text x="722.7" y="312.9" text-anchor="end" font-size="23.47" fill="#4D4D4D">0</text>
<text x="722.7" y="257" text-anchor="end" font-size="23.47" fill="#4D4D4D">5</text>
<text x="722.7" y="201.1" text-anchor="end" font-size="23.47" fill="#4D4D4D">10</text>
<text x="722.7" y="145.2" text-anchor="end" font-size="23.47" fill="#4D4D4D">15</text>
<path d="M729.4 304.5H736.8M729.4 248.6H736.8M729.4 192.7H736.8M729.4 136.8H736.8" stroke="#333" stroke-width="2.6" fill="none"/>
<rect x="1061" y="109.4" width="268.1" height="213.4" fill="none" stroke="#333" stroke-width="1.5"/>
<rect x="1061" y="64.1" width="268.1" height="43.6" fill="#D9D9D9" stroke="#333" stroke-width="1.5"/>
<text x="1195" y="94.7" text-anchor="middle" font-size="23.47" fill="#1A1A1A">4</text>
<text x="1046" y="317.1" text-anchor="end" font-size="23.47" fill="#4D4D4D">0</text>
<text x="1046" y="274.5" text-anchor="end" font-size="23.47" fill="#4D4D4D">5</text>
<text x="1046" y="232" text-anchor="end" font-size="23.47" fill="#4D4D4D">10</text>
<text x="1046" y="189.3" text-anchor="end" font-size="23.47" fill="#4D4D4D">15</text>
<text x="1046" y="146.8" text-anchor="end" font-size="23.47" fill="#4D4D4D">20</text>
<path d="M1052.8 308.8H1060.2M1052.8 266.1H1060.2M1052.8 223.6H1060.2M1052.8 180.9H1060.2M1052.8 138.3H1060.2" stroke="#333" stroke-width="2.6" fill="none"/>
<rect x="90.9" y="384.5" width="268.1" height="213.4" fill="none" stroke="#333" stroke-width="1.5"/>
<rect x="90.9" y="339.2" width="268.1" height="43.6" fill="#D9D9D9" stroke="#333" stroke-width="1.5"/>
<text x="224.9" y="369.8" text-anchor="middle" font-size="23.47" fill="#1A1A1A">5</text>
<text x="76" y="589.9" text-anchor="end" font-size="23.47" fill="#4D4D4D">0</text>
<text x="76" y="544.5" text-anchor="end" font-size="23.47" fill="#4D4D4D">5</text>
<text x="76" y="499.1" text-anchor="end" font-size="23.47" fill="#4D4D4D">10</text>
<text x="76" y="453.7" text-anchor="end" font-size="23.47" fill="#4D4D4D">15</text>
<text x="76" y="408.3" text-anchor="end" font-size="23.47" fill="#4D4D4D">20</text>
<path d="M82.7 581.5H90.1M82.7 536.1H90.1M82.7 490.7H90.1M82.7 445.3H90.1M82.7 399.9H90.1" stroke="#333" stroke-width="2.6" fill="none"/>
<rect x="414.2" y="384.5" width="268.1" height="213.4" fill="none" stroke="#333" stroke-width="1.5"/>
<rect x="414.2" y="339.2" width="268.1" height="43.6" fill="#D9D9D9" stroke="#333" stroke-width="1.5"/>
<text x="548.3" y="369.8" text-anchor="middle" font-size="23.47" fill="#1A1A1A">6</text>
<text x="399.4" y="587.4" text-anchor="end" font-size="23.47" fill="#4D4D4D">0</text>
<text x="399.4" y="530" text-anchor="end" font-size="23.47" fill="#4D4D4D">5</text>
<text x="399.4" y="472.6" text-anchor="end" font-size="23.47" fill="#4D4D4D">10</text>
<text x="399.4" y="415.2" text-anchor="end" font-size="23.47" fill="#4D4D4D">15</text>
<path d="M406.1 579H413.4M406.1 521.6H413.4M406.1 464.2H413.4M406.1 406.8H413.4" stroke="#333" stroke-width="2.6" fill="none"/>
<rect x="737.6" y="384.5" width="268.1" height="213.4" fill="none" stroke="#333" stroke-width="1.5"/>
<rect x="737.6" y="339.2" width="268.1" height="43.6" fill="#D9D9D9" stroke="#333" stroke-width="1.5"/>
<text x="871.7" y="369.8" text-anchor="middle" font-size="23.47" fill="#1A1A1A">7</text>
<text x="722.7" y="587.4" text-anchor="end" font-size="23.47" fill="#4D4D4D">0</text>
<text x="722.7" y="536.1" text-anchor="end" font-size="23.47" fill="#4D4D4D">5</text>
<text x="722.7" y="484.8" text-anchor="end" font-size="23.47" fill="#4D4D4D">10</text>
<text x="722.7" y="433.5" text-anchor="end" font-size="23.47" fill="#4D4D4D">15</text>
<text x="748.2" y="628.5" text-anchor="middle" font-size="23.47" fill="#4D4D4D">0</text>
<text x="797.2" y="628.5" text-anchor="middle" font-size="23.47" fill="#4D4D4D">100</text>
<text x="846.2" y="628.5" text-anchor="middle" font-size="23.47" fill="#4D4D4D">200</text>
<text x="895.2" y="628.5" text-anchor="middle" font-size="23.47" fill="#4D4D4D">300</text>
<text x="944.2" y="628.5" text-anchor="middle" font-size="23.47" fill="#4D4D4D">400</text>
<text x="993.2" y="628.5" text-anchor="middle" font-size="23.47" fill="#4D4D4D">500</text>
<path d="M729.4 579H736.8M729.4 527.7H736.8M729.4 476.4H736.8M729.4 425.1H736.8M748.2 598.4V605.5M797.2 598.4V605.5M846.2 598.4V605.5M895.2 598.4V605.5M944.2 598.4V605.5M993.2 598.4V605.5" stroke="#333" stroke-width="2.6" fill="none"/>
<rect x="1061" y="384.5" width="268.1" height="213.4" fill="none" stroke="#333" stroke-width="1.5"/>
<rect x="1061" y="339.2" width="268.1" height="43.6" fill="#D9D9D9" stroke="#333" stroke-width="1.5"/>
<text x="1195" y="369.8" text-anchor="middle" font-size="23.47" fill="#1A1A1A">8</text>
<text x="1046" y="589.1" text-anchor="end" font-size="23.47" fill="#4D4D4D">0</text>
<text x="1046" y="538.9" text-anchor="end" font-size="23.47" fill="#4D4D4D">5</text>
<text x="1046" y="488.8" text-anchor="end" font-size="23.47" fill="#4D4D4D">10</text>
<text x="1046" y="438.5" text-anchor="end" font-size="23.47" fill="#4D4D4D">15</text>
<text x="1071.5" y="628.5" text-anchor="middle" font-size="23.47" fill="#4D4D4D">0</text>
<text x="1120.5" y="628.5" text-anchor="middle" font-size="23.47" fill="#4D4D4D">100</text>
<text x="1169.5" y="628.5" text-anchor="middle" font-size="23.47" fill="#4D4D4D">200</text>
<text x="1218.5" y="628.5" text-anchor="middle" font-size="23.47" fill="#4D4D4D">300</text>
<text x="1267.5" y="628.5" text-anchor="middle" font-size="23.47" fill="#4D4D4D">400</text>
<text x="1316.5" y="628.5" text-anchor="middle" font-size="23.47" fill="#4D4D4D">500</text>
<path d="M1052.8 580.8H1060.2M1052.8 530.5H1060.2M1052.8 480.4H1060.2M1052.8 430.1H1060.2M1071.5 598.4V605.5M1120.5 598.4V605.5M1169.5 598.4V605.5M1218.5 598.4V605.5M1267.5 598.4V605.5M1316.5 598.4V605.5" stroke="#333" stroke-width="2.6" fill="none"/>
<rect x="90.9" y="659.7" width="268.1" height="213.4" fill="none" stroke="#333" stroke-width="1.5"/>
<rect x="90.9" y="614.4" width="268.1" height="43.6" fill="#D9D9D9" stroke="#333" stroke-width="1.5"/>
<text x="224.9" y="644.9" text-anchor="middle" font-size="23.47" fill="#1A1A1A">9</text>
<text x="76" y="866.1" text-anchor="end" font-size="23.47" fill="#4D4D4D">0</text>
<text x="76" y="823.8" text-anchor="end" font-size="23.47" fill="#4D4D4D">5</text>
<text x="76" y="781.4" text-anchor="end" font-size="23.47" fill="#4D4D4D">10</text>
<text x="76" y="738.9" text-anchor="end" font-size="23.47" fill="#4D4D4D">15</text>
<text x="76" y="696.5" text-anchor="end" font-size="23.47" fill="#4D4D4D">20</text>
<text x="101.5" y="903.6" text-anchor="middle" font-size="23.47" fill="#4D4D4D">0</text>
<text x="150.5" y="903.6" text-anchor="middle" font-size="23.47" fill="#4D4D4D">100</text>
<text x="199.5" y="903.6" text-anchor="middle" font-size="23.47" fill="#4D4D4D">200</text>
<text x="248.5" y="903.6" text-anchor="middle" font-size="23.47" fill="#4D4D4D">300</text>
<text x="297.5" y="903.6" text-anchor="middle" font-size="23.47" fill="#4D4D4D">400</text>
<text x="346.5" y="903.6" text-anchor="middle" font-size="23.47" fill="#4D4D4D">500</text>
<path d="M82.7 857.8H90.1M82.7 815.4H90.1M82.7 773H90.1M82.7 730.5H90.1M82.7 688.1H90.1M101.5 873.5V880.6M150.5 873.5V880.6M199.5 873.5V880.6M248.5 873.5V880.6M297.5 873.5V880.6M346.5 873.5V880.6" stroke="#333" stroke-width="2.6" fill="none"/>
<rect x="414.2" y="659.7" width="268.1" height="213.4" fill="none" stroke="#333" stroke-width="1.5"/>
<rect x="414.2" y="614.4" width="268.1" height="43.6" fill="#D9D9D9" stroke="#333" stroke-width="1.5"/>
<text x="548.3" y="644.9" text-anchor="middle" font-size="23.47" fill="#1A1A1A">10</text>
<text x="399.4" y="866.6" text-anchor="end" font-size="23.47" fill="#4D4D4D">0</text>
<text x="399.4" y="824.2" text-anchor="end" font-size="23.47" fill="#4D4D4D">5</text>
<text x="399.4" y="781.9" text-anchor="end" font-size="23.47" fill="#4D4D4D">10</text>
<text x="399.4" y="739.4" text-anchor="end" font-size="23.47" fill="#4D4D4D">15</text>
<text x="399.4" y="697" text-anchor="end" font-size="23.47" fill="#4D4D4D">20</text>
<text x="424.9" y="903.6" text-anchor="middle" font-size="23.47" fill="#4D4D4D">0</text>
<text x="473.9" y="903.6" text-anchor="middle" font-size="23.47" fill="#4D4D4D">100</text>
<text x="522.9" y="903.6" text-anchor="middle" font-size="23.47" fill="#4D4D4D">200</text>
<text x="571.9" y="903.6" text-anchor="middle" font-size="23.47" fill="#4D4D4D">300</text>
<text x="620.9" y="903.6" text-anchor="middle" font-size="23.47" fill="#4D4D4D">400</text>
<text x="669.9" y="903.6" text-anchor="middle" font-size="23.47" fill="#4D4D4D">500</text>
<path d="M406.1 858.2H413.4M406.1 815.9H413.4M406.1 773.5H413.4M406.1 731H413.4M406.1 688.6H413.4M424.9 873.5V880.6M473.9 873.5V880.6M522.9 873.5V880.6M571.9 873.5V880.6M620.9 873.5V880.6M669.9 873.5V880.6" stroke="#333" stroke-width="2.6" fill="none"/>
</svg>
</body></html>
